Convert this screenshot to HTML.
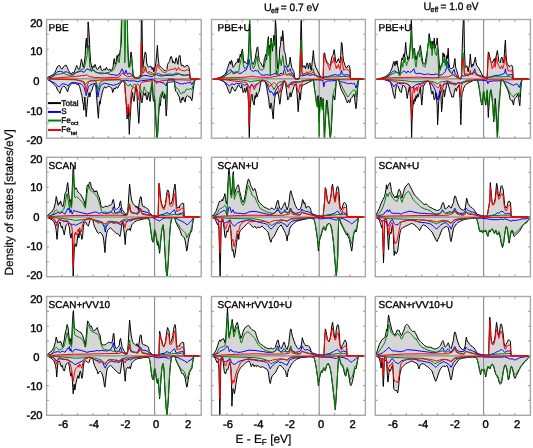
<!DOCTYPE html>
<html><head><meta charset="utf-8"><style>
html,body{margin:0;padding:0;background:#fff;}
body{width:533px;height:448px;overflow:hidden;}
svg{display:block;filter:blur(0.35px);}
text{font-family:"Liberation Sans",Arial,sans-serif;fill:#000;text-rendering:geometricPrecision;}
</style></head><body>
<svg width="533" height="448" viewBox="0 0 533 448">
<clipPath id="c00"><rect x="46.6" y="19.5" width="154.6" height="118.7"/></clipPath>
<g clip-path="url(#c00)">
<polygon points="46.0,78.8 46.0,78.3 48.9,76.8 51.9,75.3 54.8,73.1 56.2,69.5 57.4,66.6 58.4,65.8 59.5,65.5 60.3,67.3 61.4,68.8 62.4,68.8 63.6,66.6 65.0,65.5 66.2,65.1 67.2,67.3 68.0,69.5 69.4,71.7 70.6,73.4 71.6,73.9 72.6,72.4 73.8,73.1 75.0,70.2 76.0,67.3 76.7,65.5 77.5,67.3 78.5,69.5 79.7,68.8 80.8,62.9 81.4,59.2 82.3,62.9 83.3,67.3 84.3,62.9 85.2,55.6 85.8,42.4 86.4,38.0 87.0,48.3 87.7,43.9 88.1,21.9 88.7,27.8 89.3,36.6 89.9,51.2 90.6,61.4 91.7,67.3 92.5,68.8 93.1,65.8 94.0,67.3 95.0,64.4 96.0,67.3 97.2,69.5 98.4,68.8 99.4,66.6 100.4,65.8 101.3,69.5 102.3,71.0 103.4,70.2 104.2,68.8 105.3,70.2 106.3,67.3 107.5,69.5 108.6,70.2 109.7,68.8 110.7,71.0 111.9,69.5 113.0,67.3 113.6,61.4 114.3,58.5 115.1,64.4 116.0,62.9 117.0,55.6 117.7,58.5 118.4,54.1 119.2,55.6 119.9,51.9 120.6,48.3 121.4,41.0 121.8,19.0 127.4,19.0 127.7,42.4 128.6,62.9 129.6,67.3 130.3,58.5 131.0,51.9 131.8,57.0 132.5,67.3 133.2,74.6 134.7,77.5 137.6,78.3 139.8,77.5 140.9,74.6 141.3,19.0 142.0,19.0 142.3,42.4 142.8,67.3 143.5,62.9 144.5,55.6 145.2,51.9 146.1,54.1 146.7,62.9 147.6,65.8 148.6,67.3 149.3,66.6 150.8,66.1 151.5,68.0 152.3,69.5 153.0,67.3 153.7,71.7 154.5,70.2 155.9,62.9 156.7,54.1 157.4,45.3 158.1,57.0 158.9,64.4 159.6,65.8 161.0,67.3 162.5,68.8 164.0,70.2 165.4,71.0 166.9,69.5 167.6,64.4 168.4,62.9 169.5,61.4 170.6,57.0 171.3,56.3 172.0,58.5 172.8,62.9 173.5,61.4 174.2,62.9 175.0,63.6 175.7,58.5 176.4,57.8 177.1,61.4 177.9,64.4 178.6,58.5 179.3,55.6 180.1,55.6 180.8,62.9 181.5,65.8 183.0,65.1 184.5,67.3 185.9,65.8 187.4,65.1 188.9,67.3 189.6,71.7 190.0,77.5 190.6,78.9 201.0,78.9 201.0,78.8" fill="#d6d6d6" stroke="none"/>
<polygon points="46.0,78.8 46.0,78.9 48.9,80.2 51.9,82.4 54.0,84.6 56.2,86.8 57.7,90.4 59.2,91.9 59.9,93.4 60.6,91.2 61.4,89.0 62.1,87.5 63.6,86.0 65.0,86.8 66.5,89.7 67.7,91.9 68.2,89.0 69.4,86.0 70.9,84.6 72.3,83.1 73.8,83.9 75.3,82.4 76.7,84.6 78.2,83.9 79.7,86.8 80.4,89.7 81.1,92.6 81.9,95.6 82.6,101.4 83.3,104.3 83.8,110.2 84.3,102.9 84.8,97.0 85.5,107.3 86.2,116.8 87.0,107.3 87.7,98.5 88.4,95.6 89.2,92.6 89.9,97.0 90.6,92.6 91.4,91.2 92.1,89.7 92.8,86.8 94.3,84.6 95.8,85.3 96.5,95.6 97.2,104.3 98.0,114.6 98.4,118.2 99.0,107.3 99.6,101.4 100.1,104.3 100.9,98.5 101.6,95.6 102.3,92.6 103.1,89.7 103.8,88.2 104.5,86.8 106.0,88.2 107.5,86.8 108.9,86.0 110.4,87.5 111.9,88.2 112.6,92.6 113.3,91.2 114.0,88.2 115.5,89.0 116.2,86.8 117.7,88.2 119.2,85.3 120.6,83.1 122.1,80.9 124.5,82.4 125.2,89.7 125.9,100.0 126.7,110.2 127.1,119.0 127.7,113.1 128.1,107.3 128.9,121.9 129.3,134.3 129.9,121.9 130.6,111.7 131.0,104.3 131.8,95.6 132.5,92.6 133.2,98.5 134.0,101.4 134.7,95.6 135.4,89.7 136.2,86.8 136.9,92.6 137.6,107.3 138.4,117.5 138.8,123.4 139.4,114.6 140.0,100.0 140.6,92.6 141.3,101.4 142.0,102.9 142.8,97.0 143.5,92.6 144.2,94.1 145.0,95.6 145.7,92.6 146.4,98.5 147.1,100.0 147.9,95.6 148.6,92.6 149.3,98.5 150.1,101.4 150.8,94.1 151.5,86.8 152.3,82.4 153.0,98.5 153.7,101.4 154.5,98.5 155.2,107.3 155.9,121.9 156.7,136.5 157.4,139.0 158.1,126.3 158.9,111.7 159.6,102.9 160.3,105.8 161.0,98.5 161.8,95.6 162.5,92.6 163.2,97.0 164.0,98.5 164.7,94.1 165.4,100.0 166.2,116.0 166.9,107.3 167.6,80.9 168.4,79.2 174.2,79.2 175.0,88.2 175.7,91.2 177.1,92.6 178.6,95.6 179.3,97.0 180.1,101.4 180.8,102.9 181.5,98.5 182.3,100.0 183.0,97.0 183.7,98.5 184.5,101.4 185.2,102.1 185.9,97.0 187.4,95.6 188.9,97.0 190.3,97.0 191.8,100.7 192.5,97.0 193.2,89.7 194.0,83.9 194.7,80.9 196.2,78.9 201.0,78.9 201.0,78.8" fill="#d6d6d6" stroke="none"/>
<line x1="154.57" y1="19.5" x2="154.57" y2="138.2" stroke="#8a8a8a" stroke-width="1.1"/>
<line x1="46.6" y1="78.85" x2="201.2" y2="78.85" stroke="#606060" stroke-width="0.8"/>
<polyline points="46.0,78.3 48.9,76.8 51.9,75.3 54.8,73.1 56.2,69.5 57.4,66.6 58.4,65.8 59.5,65.5 60.3,67.3 61.4,68.8 62.4,68.8 63.6,66.6 65.0,65.5 66.2,65.1 67.2,67.3 68.0,69.5 69.4,71.7 70.6,73.4 71.6,73.9 72.6,72.4 73.8,73.1 75.0,70.2 76.0,67.3 76.7,65.5 77.5,67.3 78.5,69.5 79.7,68.8 80.8,62.9 81.4,59.2 82.3,62.9 83.3,67.3 84.3,62.9 85.2,55.6 85.8,42.4 86.4,38.0 87.0,48.3 87.7,43.9 88.1,21.9 88.7,27.8 89.3,36.6 89.9,51.2 90.6,61.4 91.7,67.3 92.5,68.8 93.1,65.8 94.0,67.3 95.0,64.4 96.0,67.3 97.2,69.5 98.4,68.8 99.4,66.6 100.4,65.8 101.3,69.5 102.3,71.0 103.4,70.2 104.2,68.8 105.3,70.2 106.3,67.3 107.5,69.5 108.6,70.2 109.7,68.8 110.7,71.0 111.9,69.5 113.0,67.3 113.6,61.4 114.3,58.5 115.1,64.4 116.0,62.9 117.0,55.6 117.7,58.5 118.4,54.1 119.2,55.6 119.9,51.9 120.6,48.3 121.4,41.0 121.8,19.0 127.4,19.0 127.7,42.4 128.6,62.9 129.6,67.3 130.3,58.5 131.0,51.9 131.8,57.0 132.5,67.3 133.2,74.6 134.7,77.5 137.6,78.3 139.8,77.5 140.9,74.6 141.3,19.0 142.0,19.0 142.3,42.4 142.8,67.3 143.5,62.9 144.5,55.6 145.2,51.9 146.1,54.1 146.7,62.9 147.6,65.8 148.6,67.3 149.3,66.6 150.8,66.1 151.5,68.0 152.3,69.5 153.0,67.3 153.7,71.7 154.5,70.2 155.9,62.9 156.7,54.1 157.4,45.3 158.1,57.0 158.9,64.4 159.6,65.8 161.0,67.3 162.5,68.8 164.0,70.2 165.4,71.0 166.9,69.5 167.6,64.4 168.4,62.9 169.5,61.4 170.6,57.0 171.3,56.3 172.0,58.5 172.8,62.9 173.5,61.4 174.2,62.9 175.0,63.6 175.7,58.5 176.4,57.8 177.1,61.4 177.9,64.4 178.6,58.5 179.3,55.6 180.1,55.6 180.8,62.9 181.5,65.8 183.0,65.1 184.5,67.3 185.9,65.8 187.4,65.1 188.9,67.3 189.6,71.7 190.0,77.5 190.6,78.9 201.0,78.9" fill="none" stroke="#000" stroke-width="1" stroke-linejoin="round"/>
<polyline points="46.0,78.9 48.9,80.2 51.9,82.4 54.0,84.6 56.2,86.8 57.7,90.4 59.2,91.9 59.9,93.4 60.6,91.2 61.4,89.0 62.1,87.5 63.6,86.0 65.0,86.8 66.5,89.7 67.7,91.9 68.2,89.0 69.4,86.0 70.9,84.6 72.3,83.1 73.8,83.9 75.3,82.4 76.7,84.6 78.2,83.9 79.7,86.8 80.4,89.7 81.1,92.6 81.9,95.6 82.6,101.4 83.3,104.3 83.8,110.2 84.3,102.9 84.8,97.0 85.5,107.3 86.2,116.8 87.0,107.3 87.7,98.5 88.4,95.6 89.2,92.6 89.9,97.0 90.6,92.6 91.4,91.2 92.1,89.7 92.8,86.8 94.3,84.6 95.8,85.3 96.5,95.6 97.2,104.3 98.0,114.6 98.4,118.2 99.0,107.3 99.6,101.4 100.1,104.3 100.9,98.5 101.6,95.6 102.3,92.6 103.1,89.7 103.8,88.2 104.5,86.8 106.0,88.2 107.5,86.8 108.9,86.0 110.4,87.5 111.9,88.2 112.6,92.6 113.3,91.2 114.0,88.2 115.5,89.0 116.2,86.8 117.7,88.2 119.2,85.3 120.6,83.1 122.1,80.9 124.5,82.4 125.2,89.7 125.9,100.0 126.7,110.2 127.1,119.0 127.7,113.1 128.1,107.3 128.9,121.9 129.3,134.3 129.9,121.9 130.6,111.7 131.0,104.3 131.8,95.6 132.5,92.6 133.2,98.5 134.0,101.4 134.7,95.6 135.4,89.7 136.2,86.8 136.9,92.6 137.6,107.3 138.4,117.5 138.8,123.4 139.4,114.6 140.0,100.0 140.6,92.6 141.3,101.4 142.0,102.9 142.8,97.0 143.5,92.6 144.2,94.1 145.0,95.6 145.7,92.6 146.4,98.5 147.1,100.0 147.9,95.6 148.6,92.6 149.3,98.5 150.1,101.4 150.8,94.1 151.5,86.8 152.3,82.4 153.0,98.5 153.7,101.4 154.5,98.5 155.2,107.3 155.9,121.9 156.7,136.5 157.4,139.0 158.1,126.3 158.9,111.7 159.6,102.9 160.3,105.8 161.0,98.5 161.8,95.6 162.5,92.6 163.2,97.0 164.0,98.5 164.7,94.1 165.4,100.0 166.2,116.0 166.9,107.3 167.6,80.9 168.4,79.2 174.2,79.2 175.0,88.2 175.7,91.2 177.1,92.6 178.6,95.6 179.3,97.0 180.1,101.4 180.8,102.9 181.5,98.5 182.3,100.0 183.0,97.0 183.7,98.5 184.5,101.4 185.2,102.1 185.9,97.0 187.4,95.6 188.9,97.0 190.3,97.0 191.8,100.7 192.5,97.0 193.2,89.7 194.0,83.9 194.7,80.9 196.2,78.9 201.0,78.9" fill="none" stroke="#000" stroke-width="1" stroke-linejoin="round"/>
<polyline points="46.0,78.7 51.9,76.8 54.8,74.3 57.7,71.7 60.6,71.4 63.6,72.4 66.5,71.7 69.4,73.4 72.3,74.6 75.3,73.1 78.2,71.7 81.1,71.0 84.0,72.4 87.0,68.8 89.9,70.2 92.8,69.9 95.8,72.4 98.7,73.1 101.6,72.9 104.5,73.4 107.5,73.1 110.4,74.6 113.3,74.6 116.2,75.3 119.2,74.6 122.1,68.8 124.5,74.6 125.9,70.2 127.4,74.6 129.6,73.1 131.8,74.6 133.2,76.8 137.6,78.3 142.0,76.1 145.0,75.3 149.3,76.1 152.3,76.8 155.2,73.9 158.1,75.3 161.0,76.1 166.9,75.3 172.8,75.3 178.6,73.9 181.5,74.6 184.5,75.3 189.6,74.6 190.3,78.9 201.0,78.9" fill="none" stroke="#0000ff" stroke-width="1" stroke-linejoin="round"/>
<polyline points="46.0,78.9 48.9,80.2 51.9,81.7 54.8,83.1 56.2,84.6 57.7,86.0 59.2,86.8 60.6,85.3 62.1,83.9 63.6,83.9 66.5,84.6 68.0,86.0 69.4,83.9 72.3,82.4 75.3,83.1 78.2,83.1 81.1,83.9 82.6,85.3 84.0,86.8 85.5,92.6 86.2,95.6 87.0,92.6 88.4,86.8 89.9,85.3 92.8,83.9 95.8,83.1 97.2,89.7 98.0,97.0 98.7,92.6 100.1,86.8 101.6,84.6 104.5,83.1 107.5,83.9 110.4,84.6 113.3,85.3 116.2,84.6 119.2,83.1 122.1,80.9 125.9,80.2 128.9,80.9 131.8,80.9 134.7,80.9 137.6,81.7 140.6,80.9 152.3,79.5 155.2,80.9 158.1,81.7 161.0,82.4 164.0,83.1 166.2,86.0 166.9,82.4 174.2,81.7 177.1,82.4 178.6,83.1 180.1,83.9 181.5,83.6 183.0,84.1 184.5,83.1 185.9,83.6 187.4,82.4 188.9,83.1 190.3,81.7 191.8,84.6 193.2,82.4 194.7,80.2 196.2,78.9 201.0,78.9" fill="none" stroke="#0000ff" stroke-width="1" stroke-linejoin="round"/>
<polyline points="46.0,78.7 51.9,77.5 54.8,75.3 57.7,74.3 60.6,73.9 63.6,73.4 66.5,74.6 69.4,75.3 72.3,76.1 75.3,73.1 76.7,71.7 78.2,72.4 81.1,69.5 84.0,68.8 85.5,62.9 87.0,55.6 87.7,48.3 88.4,45.3 89.2,55.6 89.9,67.3 91.4,71.7 92.8,69.5 95.8,71.7 98.7,73.1 101.6,73.9 104.5,73.4 107.5,72.9 110.4,71.7 113.3,70.2 114.8,67.3 116.2,64.4 117.7,58.5 119.2,62.9 120.6,48.3 121.4,19.0 124.2,19.0 124.8,62.9 125.3,48.3 125.6,19.0 127.4,19.0 127.7,48.3 128.6,67.3 129.6,65.8 131.0,61.4 131.8,60.0 132.5,67.3 133.2,76.1 134.7,78.3 140.6,77.5 142.0,74.6 143.5,67.3 145.0,66.6 146.4,71.7 149.3,73.9 152.3,74.6 155.2,75.3 158.1,73.1 161.0,74.6 164.0,75.3 166.9,74.6 169.8,73.9 172.8,74.6 175.7,73.1 178.6,73.4 181.5,75.3 184.5,75.3 187.4,74.9 189.6,75.3 190.3,78.9 201.0,78.9" fill="none" stroke="#008000" stroke-width="1" stroke-linejoin="round"/>
<polyline points="46.0,78.9 75.3,79.8 81.1,80.9 83.3,82.4 84.8,85.3 85.5,84.6 87.0,82.4 89.9,80.9 95.8,80.9 97.2,85.3 98.0,89.7 98.7,88.2 100.1,82.4 104.5,80.2 119.2,79.8 124.5,80.9 125.9,83.9 127.4,85.3 128.9,86.0 130.3,83.9 131.8,86.8 133.2,85.3 134.7,83.9 136.2,85.3 137.6,83.9 139.1,85.3 140.6,89.7 142.0,92.6 143.5,91.2 144.2,86.8 145.0,89.7 146.4,91.2 147.9,92.6 149.3,94.1 150.8,89.7 151.5,83.9 152.3,80.9 153.0,92.6 153.7,98.5 154.5,95.6 155.2,104.3 155.9,119.0 156.7,133.6 157.4,139.0 158.1,121.9 158.9,107.3 159.6,98.5 161.0,94.1 162.5,91.2 164.0,92.6 165.4,95.6 166.2,101.4 166.9,92.6 167.6,80.2 174.2,80.2 175.0,85.3 175.7,87.5 177.1,88.2 178.6,89.7 180.1,92.6 181.5,94.1 183.0,91.9 184.5,92.6 185.9,89.7 187.4,89.0 188.9,89.7 190.3,88.2 191.8,89.7 193.2,85.3 194.7,80.9 196.2,78.9 201.0,78.9" fill="none" stroke="#008000" stroke-width="1" stroke-linejoin="round"/>
<polyline points="46.0,79.0 60.6,77.5 72.3,76.8 78.2,76.1 85.5,75.3 87.0,74.6 88.4,76.1 94.3,77.5 104.5,77.8 119.2,77.2 122.1,73.1 127.4,76.8 131.8,76.1 137.6,78.3 140.6,74.6 141.3,42.4 142.0,70.2 143.5,73.1 145.0,68.8 145.7,67.3 146.4,71.7 147.9,72.4 149.3,71.7 152.3,73.1 153.7,73.9 155.2,74.6 156.7,68.8 157.4,64.4 158.1,65.8 159.6,68.8 162.5,71.7 165.4,73.1 166.9,71.7 168.4,70.2 171.3,69.5 174.2,68.8 175.7,68.0 176.4,71.0 178.6,67.3 179.3,69.5 181.5,70.2 184.5,71.0 187.4,69.5 189.6,71.7 190.3,78.9 201.0,78.9" fill="none" stroke="#ff0000" stroke-width="1" stroke-linejoin="round"/>
<polyline points="46.0,78.9 75.3,79.5 84.0,81.7 85.5,86.8 86.2,92.6 87.0,86.8 88.4,82.4 89.9,80.9 104.5,79.8 119.2,79.5 124.5,82.4 125.2,92.6 125.9,100.0 126.7,107.3 127.4,114.6 128.1,104.3 128.9,107.3 129.6,116.0 130.3,104.3 131.0,95.6 131.8,89.7 133.2,86.8 134.7,88.2 136.2,85.3 137.6,92.6 138.4,100.0 139.1,97.0 139.8,89.7 140.6,83.9 142.0,82.4 145.0,81.7 150.8,80.9 152.3,80.2 153.7,80.2 155.2,80.9 156.7,83.9 157.4,82.4 158.1,81.7 161.0,80.9 166.9,80.2 174.2,79.8 181.5,79.8 188.9,80.2 196.2,79.5 201.0,78.9" fill="none" stroke="#ff0000" stroke-width="1" stroke-linejoin="round"/>
</g>
<clipPath id="c01"><rect x="211.5" y="19.5" width="153.9" height="118.7"/></clipPath>
<g clip-path="url(#c01)">
<polygon points="211.0,78.8 211.0,78.9 215.4,78.7 219.8,77.5 222.7,76.1 224.9,74.6 226.4,71.7 227.8,67.3 229.3,62.9 230.0,61.4 230.8,64.4 231.5,60.0 232.2,62.9 233.0,67.3 234.4,65.8 235.9,62.9 237.3,62.2 238.1,58.5 238.8,62.9 239.5,58.5 240.3,54.1 241.0,57.0 241.7,51.2 242.5,49.0 243.2,57.0 243.9,62.9 244.7,61.4 246.1,62.9 247.6,64.4 248.3,55.6 249.0,41.0 249.5,20.5 250.1,33.6 250.5,45.3 251.2,58.5 252.0,62.9 253.4,64.4 254.9,60.0 256.4,51.2 257.1,47.5 257.8,46.8 258.6,55.6 259.3,61.4 260.8,62.9 262.2,65.8 263.4,67.3 264.4,58.5 265.1,57.0 265.9,54.1 266.6,60.0 267.3,48.3 267.8,41.0 268.4,36.6 268.8,48.3 269.5,45.3 270.3,54.1 271.0,38.0 271.7,42.4 272.5,51.2 273.2,42.4 273.9,35.1 274.7,45.3 275.4,19.0 276.1,27.8 276.9,57.0 277.6,68.8 278.3,67.3 279.0,61.4 279.8,48.3 280.5,45.3 281.2,36.6 282.0,41.0 282.7,30.7 283.4,38.0 284.2,51.2 284.9,52.7 285.6,55.6 286.4,62.9 287.1,65.8 287.8,67.3 288.7,65.8 289.5,62.9 290.2,57.0 290.9,62.9 291.7,67.3 292.4,68.8 293.1,70.2 293.9,71.7 294.6,77.5 295.3,78.9 299.0,78.9 299.7,74.6 300.4,48.3 300.9,26.3 301.2,19.0 301.5,26.3 301.9,48.3 302.3,67.3 303.4,65.8 304.1,67.3 304.8,65.8 305.6,68.8 306.3,65.8 307.0,62.9 307.8,64.4 308.5,68.8 309.2,64.4 310.0,62.9 310.7,68.8 311.4,70.2 312.1,62.9 312.9,55.6 313.3,50.5 313.9,57.0 314.3,61.4 315.1,64.4 315.8,67.3 317.3,70.2 318.7,73.1 320.2,76.1 321.7,77.5 323.1,78.9 323.9,54.1 324.6,52.7 325.3,57.0 326.0,60.0 327.5,62.9 329.0,64.4 330.4,65.8 331.2,60.0 331.9,57.0 332.6,55.6 333.4,54.1 334.1,49.7 334.8,54.1 335.6,61.4 336.3,62.9 337.0,61.4 337.8,60.0 338.5,58.5 339.2,61.4 340.0,62.9 340.7,55.6 341.4,42.4 342.1,43.9 342.9,55.6 343.6,61.4 344.3,62.9 345.1,65.8 345.8,67.3 346.5,68.0 348.0,65.8 348.7,65.1 349.5,66.6 350.2,70.2 350.6,78.9 366.0,78.9 366.0,78.8" fill="#d6d6d6" stroke="none"/>
<polygon points="211.0,78.8 211.0,78.9 216.9,79.2 221.2,80.2 224.2,81.7 225.6,83.9 227.1,86.8 228.6,91.2 229.7,93.4 230.8,91.9 231.5,88.2 232.2,86.8 233.7,89.7 235.1,91.2 236.6,88.2 238.1,85.3 238.8,84.6 239.5,86.8 241.0,88.2 241.7,85.3 242.5,89.7 243.2,92.6 243.9,91.2 244.7,88.2 245.4,92.6 246.1,91.2 246.9,86.8 247.6,89.7 248.3,100.0 248.8,107.3 249.0,126.3 249.3,139.0 249.6,126.3 250.1,108.7 250.5,104.3 251.2,95.6 252.0,94.1 252.7,100.0 253.4,102.9 254.2,105.1 254.6,100.0 254.9,95.6 255.6,98.5 256.4,92.6 257.1,97.0 257.8,94.1 258.6,92.6 259.3,91.2 260.0,86.8 260.8,82.4 261.5,80.9 262.2,80.2 263.7,80.2 265.1,81.7 265.9,83.9 266.6,86.8 267.3,91.2 268.1,95.6 268.8,100.0 269.5,107.3 270.3,108.7 271.0,102.9 271.7,105.8 272.5,113.1 273.2,119.0 273.9,107.3 274.7,98.5 275.4,94.1 276.1,92.6 276.9,94.1 277.6,91.2 278.3,94.1 279.0,98.5 279.8,104.3 280.5,100.0 281.2,92.6 282.0,89.7 282.7,86.8 283.4,82.4 284.2,80.9 284.9,80.9 285.6,83.9 286.4,89.7 287.1,95.6 287.8,100.0 288.7,98.5 289.5,95.6 290.2,92.6 290.9,97.0 291.7,94.1 292.4,91.2 293.1,89.7 293.9,86.8 294.6,85.3 295.3,83.9 296.0,85.3 296.8,91.2 297.5,100.0 298.2,111.7 299.0,100.0 299.7,92.6 300.4,100.0 301.2,89.7 301.9,86.8 302.6,85.3 304.1,84.6 305.6,83.9 307.0,83.1 308.5,82.4 310.0,81.7 311.4,80.9 312.9,79.5 313.6,80.9 314.3,86.8 315.1,92.6 315.8,97.0 316.5,102.9 317.3,105.8 318.0,95.6 318.7,107.3 319.2,121.9 319.5,110.2 320.2,100.0 320.9,97.0 321.7,104.3 322.4,107.3 323.1,98.5 323.9,121.9 324.3,136.5 324.6,139.0 325.0,129.2 325.8,114.6 326.3,104.3 326.8,100.0 327.5,104.3 328.2,111.7 329.0,121.9 329.7,132.1 330.4,139.0 331.2,130.7 331.9,119.0 332.6,101.4 333.4,95.6 334.1,97.0 334.8,100.0 335.6,91.2 336.3,80.2 337.8,79.5 338.5,79.5 339.2,82.4 340.0,85.3 340.7,88.2 342.1,91.2 343.6,94.1 345.1,97.0 346.5,100.7 347.3,102.9 348.0,101.4 348.7,100.0 349.5,102.9 350.2,101.4 350.9,98.5 352.4,97.0 353.9,94.1 354.6,97.0 355.3,104.3 356.0,108.7 356.8,101.4 357.5,89.7 358.2,82.4 359.0,79.5 359.7,78.9 366.0,78.9 366.0,78.8" fill="#d6d6d6" stroke="none"/>
<line x1="319.20" y1="19.5" x2="319.20" y2="138.2" stroke="#8a8a8a" stroke-width="1.1"/>
<line x1="211.5" y1="78.85" x2="365.4" y2="78.85" stroke="#606060" stroke-width="0.8"/>
<polyline points="211.0,78.9 215.4,78.7 219.8,77.5 222.7,76.1 224.9,74.6 226.4,71.7 227.8,67.3 229.3,62.9 230.0,61.4 230.8,64.4 231.5,60.0 232.2,62.9 233.0,67.3 234.4,65.8 235.9,62.9 237.3,62.2 238.1,58.5 238.8,62.9 239.5,58.5 240.3,54.1 241.0,57.0 241.7,51.2 242.5,49.0 243.2,57.0 243.9,62.9 244.7,61.4 246.1,62.9 247.6,64.4 248.3,55.6 249.0,41.0 249.5,20.5 250.1,33.6 250.5,45.3 251.2,58.5 252.0,62.9 253.4,64.4 254.9,60.0 256.4,51.2 257.1,47.5 257.8,46.8 258.6,55.6 259.3,61.4 260.8,62.9 262.2,65.8 263.4,67.3 264.4,58.5 265.1,57.0 265.9,54.1 266.6,60.0 267.3,48.3 267.8,41.0 268.4,36.6 268.8,48.3 269.5,45.3 270.3,54.1 271.0,38.0 271.7,42.4 272.5,51.2 273.2,42.4 273.9,35.1 274.7,45.3 275.4,19.0 276.1,27.8 276.9,57.0 277.6,68.8 278.3,67.3 279.0,61.4 279.8,48.3 280.5,45.3 281.2,36.6 282.0,41.0 282.7,30.7 283.4,38.0 284.2,51.2 284.9,52.7 285.6,55.6 286.4,62.9 287.1,65.8 287.8,67.3 288.7,65.8 289.5,62.9 290.2,57.0 290.9,62.9 291.7,67.3 292.4,68.8 293.1,70.2 293.9,71.7 294.6,77.5 295.3,78.9 299.0,78.9 299.7,74.6 300.4,48.3 300.9,26.3 301.2,19.0 301.5,26.3 301.9,48.3 302.3,67.3 303.4,65.8 304.1,67.3 304.8,65.8 305.6,68.8 306.3,65.8 307.0,62.9 307.8,64.4 308.5,68.8 309.2,64.4 310.0,62.9 310.7,68.8 311.4,70.2 312.1,62.9 312.9,55.6 313.3,50.5 313.9,57.0 314.3,61.4 315.1,64.4 315.8,67.3 317.3,70.2 318.7,73.1 320.2,76.1 321.7,77.5 323.1,78.9 323.9,54.1 324.6,52.7 325.3,57.0 326.0,60.0 327.5,62.9 329.0,64.4 330.4,65.8 331.2,60.0 331.9,57.0 332.6,55.6 333.4,54.1 334.1,49.7 334.8,54.1 335.6,61.4 336.3,62.9 337.0,61.4 337.8,60.0 338.5,58.5 339.2,61.4 340.0,62.9 340.7,55.6 341.4,42.4 342.1,43.9 342.9,55.6 343.6,61.4 344.3,62.9 345.1,65.8 345.8,67.3 346.5,68.0 348.0,65.8 348.7,65.1 349.5,66.6 350.2,70.2 350.6,78.9 366.0,78.9" fill="none" stroke="#000" stroke-width="1" stroke-linejoin="round"/>
<polyline points="211.0,78.9 216.9,79.2 221.2,80.2 224.2,81.7 225.6,83.9 227.1,86.8 228.6,91.2 229.7,93.4 230.8,91.9 231.5,88.2 232.2,86.8 233.7,89.7 235.1,91.2 236.6,88.2 238.1,85.3 238.8,84.6 239.5,86.8 241.0,88.2 241.7,85.3 242.5,89.7 243.2,92.6 243.9,91.2 244.7,88.2 245.4,92.6 246.1,91.2 246.9,86.8 247.6,89.7 248.3,100.0 248.8,107.3 249.0,126.3 249.3,139.0 249.6,126.3 250.1,108.7 250.5,104.3 251.2,95.6 252.0,94.1 252.7,100.0 253.4,102.9 254.2,105.1 254.6,100.0 254.9,95.6 255.6,98.5 256.4,92.6 257.1,97.0 257.8,94.1 258.6,92.6 259.3,91.2 260.0,86.8 260.8,82.4 261.5,80.9 262.2,80.2 263.7,80.2 265.1,81.7 265.9,83.9 266.6,86.8 267.3,91.2 268.1,95.6 268.8,100.0 269.5,107.3 270.3,108.7 271.0,102.9 271.7,105.8 272.5,113.1 273.2,119.0 273.9,107.3 274.7,98.5 275.4,94.1 276.1,92.6 276.9,94.1 277.6,91.2 278.3,94.1 279.0,98.5 279.8,104.3 280.5,100.0 281.2,92.6 282.0,89.7 282.7,86.8 283.4,82.4 284.2,80.9 284.9,80.9 285.6,83.9 286.4,89.7 287.1,95.6 287.8,100.0 288.7,98.5 289.5,95.6 290.2,92.6 290.9,97.0 291.7,94.1 292.4,91.2 293.1,89.7 293.9,86.8 294.6,85.3 295.3,83.9 296.0,85.3 296.8,91.2 297.5,100.0 298.2,111.7 299.0,100.0 299.7,92.6 300.4,100.0 301.2,89.7 301.9,86.8 302.6,85.3 304.1,84.6 305.6,83.9 307.0,83.1 308.5,82.4 310.0,81.7 311.4,80.9 312.9,79.5 313.6,80.9 314.3,86.8 315.1,92.6 315.8,97.0 316.5,102.9 317.3,105.8 318.0,95.6 318.7,107.3 319.2,121.9 319.5,110.2 320.2,100.0 320.9,97.0 321.7,104.3 322.4,107.3 323.1,98.5 323.9,121.9 324.3,136.5 324.6,139.0 325.0,129.2 325.8,114.6 326.3,104.3 326.8,100.0 327.5,104.3 328.2,111.7 329.0,121.9 329.7,132.1 330.4,139.0 331.2,130.7 331.9,119.0 332.6,101.4 333.4,95.6 334.1,97.0 334.8,100.0 335.6,91.2 336.3,80.2 337.8,79.5 338.5,79.5 339.2,82.4 340.0,85.3 340.7,88.2 342.1,91.2 343.6,94.1 345.1,97.0 346.5,100.7 347.3,102.9 348.0,101.4 348.7,100.0 349.5,102.9 350.2,101.4 350.9,98.5 352.4,97.0 353.9,94.1 354.6,97.0 355.3,104.3 356.0,108.7 356.8,101.4 357.5,89.7 358.2,82.4 359.0,79.5 359.7,78.9 366.0,78.9" fill="none" stroke="#000" stroke-width="1" stroke-linejoin="round"/>
<polyline points="211.0,78.9 219.8,78.3 224.2,76.8 226.4,73.9 227.8,71.7 229.3,70.2 230.8,69.5 232.2,71.7 234.4,72.4 237.3,71.7 239.5,73.9 241.0,73.1 242.5,72.4 243.9,71.0 246.1,70.2 248.3,64.4 249.0,59.2 249.8,62.9 250.5,69.5 253.4,71.7 254.9,70.2 256.4,71.0 257.8,70.2 259.3,73.1 260.8,74.6 263.7,75.3 266.6,74.6 269.5,75.3 272.5,74.6 275.4,73.1 278.3,75.3 281.2,73.1 282.7,74.6 284.2,70.2 284.9,65.8 286.4,67.3 287.8,71.7 289.5,70.2 290.2,68.8 290.9,71.7 292.4,73.1 294.6,76.8 295.3,78.9 299.0,78.9 300.4,74.6 301.9,76.1 304.1,75.3 307.0,74.6 310.0,75.3 312.9,74.6 317.3,76.1 323.1,77.5 324.6,76.8 327.5,76.8 331.9,75.3 334.8,74.6 337.8,75.3 340.7,74.6 341.4,70.2 342.1,73.1 343.6,75.3 346.5,74.6 349.5,75.3 350.6,78.9 366.0,78.9" fill="none" stroke="#0000ff" stroke-width="1" stroke-linejoin="round"/>
<polyline points="211.0,78.9 219.8,79.5 224.2,81.7 225.6,83.1 227.8,84.6 229.3,86.0 230.8,84.6 232.2,83.9 234.4,84.6 236.6,83.1 238.8,83.9 240.3,83.1 241.7,83.9 243.2,84.6 244.7,85.3 246.9,83.9 248.3,86.0 249.8,88.2 251.2,85.3 252.7,86.0 254.2,86.8 255.6,84.6 257.8,83.9 260.8,80.9 263.7,80.9 265.9,82.4 267.3,84.6 268.8,89.7 270.3,92.6 271.0,91.2 272.5,92.6 273.9,95.6 275.4,91.2 276.9,88.2 278.3,86.8 279.8,85.3 281.2,84.6 282.7,82.4 284.2,80.9 287.1,86.8 290.9,82.4 295.3,81.7 298.2,82.4 302.6,80.9 310.0,80.2 317.3,79.8 321.7,80.2 323.1,81.7 323.9,86.8 324.6,82.4 327.5,80.9 331.9,80.9 336.3,80.2 337.8,79.5 339.2,80.9 340.7,81.7 343.6,82.4 346.5,83.1 348.0,83.9 349.5,83.6 350.9,83.1 352.4,83.9 353.9,83.1 355.3,85.3 356.0,88.2 356.8,85.3 358.2,80.2 359.7,78.9 366.0,78.9" fill="none" stroke="#0000ff" stroke-width="1" stroke-linejoin="round"/>
<polyline points="211.0,78.9 219.8,78.3 224.2,76.8 227.1,74.6 230.0,73.1 231.5,71.0 233.0,73.9 235.9,73.1 238.8,71.7 239.5,65.8 240.3,62.9 241.0,60.0 241.7,57.0 242.5,51.2 243.2,64.4 244.7,68.8 246.1,67.3 247.6,65.8 248.8,55.6 249.3,30.7 249.8,19.0 250.2,33.6 250.8,55.6 252.0,64.4 253.4,68.8 254.9,65.8 256.4,58.5 257.1,55.6 257.8,62.9 259.3,68.8 262.2,70.2 263.7,68.8 265.1,62.9 266.6,55.6 267.3,45.3 268.1,39.5 268.8,55.6 269.5,48.3 270.3,75.3 271.0,41.0 272.5,48.3 273.9,45.3 275.4,36.6 276.1,74.6 276.9,70.2 277.6,74.6 278.3,70.2 279.0,62.9 279.8,58.5 281.2,65.8 282.7,55.6 283.4,60.0 284.2,67.3 285.6,73.1 287.1,74.6 290.9,75.3 293.9,77.5 295.3,78.9 299.0,78.9 299.7,76.8 300.4,55.6 300.9,39.5 301.5,55.6 301.9,73.1 302.6,74.6 305.6,75.3 308.5,73.1 310.0,71.7 311.4,71.0 312.9,68.8 313.6,70.2 314.3,74.6 317.3,76.8 323.1,78.3 323.9,77.5 326.0,77.2 331.9,76.8 337.8,76.8 343.6,76.4 349.5,76.8 350.6,78.9 366.0,78.9" fill="none" stroke="#008000" stroke-width="1" stroke-linejoin="round"/>
<polyline points="211.0,78.9 240.3,79.8 247.6,80.9 250.5,81.7 254.9,80.9 260.8,80.2 266.6,80.9 269.5,82.4 271.0,83.9 272.5,86.8 273.9,89.7 275.4,86.8 278.3,82.4 281.2,81.7 284.2,80.9 287.1,86.8 290.9,83.9 295.3,82.4 299.7,81.7 305.6,80.9 311.4,80.2 313.6,80.9 314.3,88.2 315.1,92.6 315.8,98.5 316.5,104.3 317.3,107.3 318.0,100.0 318.7,114.6 319.2,139.0 319.6,114.6 320.2,107.3 320.9,100.0 321.7,107.3 322.4,110.2 323.1,100.0 323.9,119.0 324.3,139.0 324.9,126.3 325.8,111.7 326.3,102.9 327.2,107.3 328.2,116.0 329.0,124.8 329.7,133.6 330.4,139.0 331.2,126.3 331.9,114.6 332.6,98.5 333.4,92.6 334.5,89.7 335.6,86.8 336.3,80.2 337.8,79.5 339.2,81.7 340.7,83.9 342.1,86.8 343.6,89.7 345.1,92.6 346.5,94.8 347.3,96.3 348.0,97.0 348.7,95.6 349.5,94.8 350.9,92.6 352.4,91.2 353.9,89.7 355.3,91.2 356.0,97.0 356.8,92.6 357.5,86.8 358.2,80.9 359.0,79.2 366.0,78.9" fill="none" stroke="#008000" stroke-width="1" stroke-linejoin="round"/>
<polyline points="211.0,78.9 225.6,77.8 240.3,77.5 249.0,76.8 252.0,76.1 254.9,76.8 269.5,77.5 272.5,76.8 276.9,76.1 281.2,75.3 284.2,73.9 285.6,74.6 287.1,75.3 289.5,73.1 290.2,74.6 290.9,73.1 292.4,75.3 294.6,77.5 295.3,78.9 299.0,78.9 299.7,76.1 300.4,62.9 300.9,51.2 301.5,62.9 301.9,71.7 302.6,74.6 304.1,73.1 305.6,73.9 307.0,71.7 308.5,74.6 310.0,73.1 311.4,73.9 312.9,71.7 314.3,73.1 315.8,74.6 317.3,76.1 321.7,77.5 323.1,78.9 323.9,54.1 324.6,55.6 325.3,58.5 326.0,61.4 327.5,64.4 329.0,67.3 329.7,70.2 330.4,67.3 331.2,62.9 331.9,61.4 332.6,62.9 333.4,60.0 334.1,57.0 334.8,62.9 335.6,65.8 336.3,68.8 337.0,65.8 337.8,67.3 338.5,64.4 339.2,67.3 340.0,69.5 340.7,65.8 341.4,57.0 342.1,58.5 342.9,65.8 343.6,70.2 345.1,69.5 346.5,68.8 348.0,70.2 349.5,70.2 350.6,78.9 366.0,78.9" fill="none" stroke="#ff0000" stroke-width="1" stroke-linejoin="round"/>
<polyline points="211.0,78.9 225.6,79.8 233.0,80.9 240.3,81.7 246.1,82.4 247.6,83.9 248.3,92.6 248.8,107.3 249.0,124.8 249.5,107.3 249.8,92.6 250.5,85.3 252.0,83.9 253.4,86.8 254.2,89.7 254.9,88.2 256.4,85.3 257.8,83.9 260.8,80.9 263.7,80.9 266.6,82.4 268.1,83.9 269.5,86.8 271.0,84.6 272.5,83.9 273.9,82.4 275.4,83.9 276.9,85.3 278.3,88.2 279.8,92.6 281.2,86.8 282.7,82.4 284.2,80.9 285.6,81.7 287.1,85.3 288.7,88.2 289.5,85.3 290.9,83.9 292.4,85.3 293.9,82.4 296.0,81.7 296.8,86.8 297.5,89.7 298.2,92.6 299.0,89.7 299.7,85.3 300.4,83.9 301.2,86.8 302.6,80.9 305.6,80.2 311.4,79.5 317.3,79.5 321.7,79.5 323.1,80.9 323.9,79.5 331.9,79.5 346.5,79.8 358.2,79.5 366.0,78.9" fill="none" stroke="#ff0000" stroke-width="1" stroke-linejoin="round"/>
</g>
<clipPath id="c02"><rect x="375.3" y="19.5" width="155.1" height="118.7"/></clipPath>
<g clip-path="url(#c02)">
<polygon points="375.0,78.8 375.0,78.9 380.9,78.3 385.2,76.8 388.2,74.6 390.4,71.7 391.8,68.8 393.3,62.9 394.0,61.4 394.8,65.8 395.5,61.4 396.2,64.4 397.0,60.7 397.7,65.8 398.4,68.8 399.1,73.1 399.9,74.6 400.6,67.3 401.3,61.4 402.1,57.8 402.8,60.0 403.5,54.1 404.3,57.0 405.0,51.2 405.7,42.4 406.5,54.1 407.2,55.6 407.9,60.0 408.7,57.0 409.4,58.5 410.1,48.3 410.9,38.0 411.3,19.0 411.9,33.6 412.3,48.3 413.0,54.1 413.8,49.7 414.5,48.3 415.2,55.6 416.0,60.0 417.4,54.1 418.9,51.2 419.6,48.3 420.4,45.3 421.1,51.2 421.8,55.6 422.6,61.4 423.3,62.9 424.8,64.4 425.5,61.4 426.2,57.0 427.0,52.7 427.7,48.3 428.4,42.4 429.1,33.6 429.9,38.0 430.6,45.3 431.3,41.0 432.1,49.7 432.8,41.0 433.5,45.3 434.3,38.0 435.0,48.3 435.7,45.3 436.5,43.9 437.2,38.0 437.9,46.8 438.7,55.6 439.4,65.8 440.1,70.2 440.9,65.8 441.6,64.4 442.3,62.9 443.0,52.7 443.8,57.0 444.5,54.1 445.2,62.9 446.0,64.4 446.7,55.6 447.4,58.5 448.2,48.3 448.9,62.9 449.6,67.3 451.1,68.8 453.5,67.3 454.2,62.9 454.9,58.5 455.7,67.3 456.4,69.5 457.9,74.6 458.6,78.3 460.8,78.9 461.5,74.6 462.2,48.3 463.0,26.3 463.4,19.0 464.0,19.0 464.4,48.3 465.2,67.3 465.9,67.3 466.6,65.8 467.4,67.3 468.1,71.7 468.8,67.3 469.6,64.4 470.3,54.1 471.0,62.9 471.8,67.3 472.5,64.4 473.2,65.8 474.0,62.9 474.7,60.0 475.4,57.0 476.1,62.9 476.9,65.8 478.3,67.3 479.8,70.2 481.3,73.1 482.7,76.1 484.2,77.5 487.1,78.9 488.3,51.9 488.9,52.7 489.8,57.0 490.8,61.4 492.2,62.9 493.7,60.0 494.4,58.5 495.2,62.9 495.9,57.0 496.6,54.1 497.4,50.5 498.1,55.6 498.8,61.4 500.3,62.9 501.0,58.5 501.8,57.0 502.5,58.5 503.2,62.9 504.0,60.0 504.7,48.3 505.4,40.2 506.1,55.6 506.9,62.9 507.6,64.4 509.1,66.6 510.5,65.8 511.3,65.1 512.0,65.8 512.7,67.3 513.2,78.9 530.0,78.9 530.0,78.8" fill="#d6d6d6" stroke="none"/>
<polygon points="375.0,78.8 375.0,78.9 382.3,79.2 386.7,79.8 389.6,80.9 391.1,83.9 391.8,86.8 392.6,89.7 393.3,94.1 394.0,95.6 394.8,98.5 395.5,92.6 396.2,86.8 397.0,85.3 398.4,86.8 399.9,91.2 401.3,92.6 402.1,88.2 402.8,85.3 404.3,86.0 405.7,88.2 406.5,92.6 407.2,98.5 407.9,94.1 408.7,89.7 409.4,86.8 410.1,92.6 410.9,107.3 411.3,121.9 411.6,139.0 412.0,121.9 412.8,107.3 413.3,100.0 413.8,104.3 414.5,98.5 415.2,101.4 416.0,95.6 416.7,98.5 417.4,94.1 418.2,97.0 418.9,94.1 419.6,91.2 420.4,86.8 421.1,97.0 421.8,105.1 422.6,95.6 423.3,86.8 424.8,83.9 426.2,82.4 427.7,80.9 429.1,81.7 430.6,86.8 431.3,92.6 432.1,94.1 432.8,91.2 433.5,95.6 434.3,100.0 435.0,98.5 435.7,92.6 436.5,97.0 437.2,107.3 437.6,124.8 438.2,114.6 438.7,101.4 439.4,97.0 440.1,91.2 440.9,95.6 441.6,111.7 442.3,104.3 443.0,92.6 443.8,89.7 444.5,97.0 445.2,92.6 446.0,88.2 446.7,85.3 447.4,82.4 448.2,83.9 448.9,86.8 449.6,89.7 450.4,92.6 451.1,94.1 451.8,97.0 453.5,97.0 454.2,92.6 454.9,89.7 455.7,88.2 456.4,91.2 457.1,88.2 457.9,86.8 458.6,85.3 459.3,88.2 460.0,100.0 460.5,114.6 460.8,124.8 461.2,114.6 461.7,98.5 462.2,92.6 463.0,91.2 463.7,88.2 464.4,86.8 465.2,85.3 466.6,83.9 468.1,83.1 469.6,82.4 471.0,81.7 472.5,80.9 474.0,80.2 475.4,80.2 476.9,79.5 477.6,80.9 478.3,83.9 479.1,88.2 479.8,92.6 480.5,98.5 481.3,102.9 482.0,105.1 482.7,100.0 483.5,91.2 484.2,94.1 484.9,100.0 485.7,105.1 486.4,100.0 487.1,91.2 487.9,107.3 488.3,117.5 488.6,111.7 489.3,102.9 490.0,94.1 490.8,89.7 491.5,92.6 492.2,100.0 493.0,107.3 493.7,121.9 494.4,114.6 495.2,98.5 495.9,107.3 496.6,119.0 497.1,129.2 497.4,139.0 497.8,129.2 498.2,119.0 498.8,107.3 499.6,100.0 500.3,91.2 501.0,80.9 501.8,79.5 502.5,79.5 503.2,80.9 504.7,83.9 506.1,86.8 507.6,89.7 509.1,94.1 509.8,98.5 510.5,100.0 511.3,100.7 512.0,100.0 512.7,102.1 513.5,105.1 514.2,100.0 514.9,98.5 516.4,97.0 517.9,94.1 518.6,98.5 519.3,102.9 519.8,105.8 520.3,98.5 520.8,89.7 521.5,82.4 522.2,79.5 523.0,78.9 530.0,78.9 530.0,78.8" fill="#d6d6d6" stroke="none"/>
<line x1="483.57" y1="19.5" x2="483.57" y2="138.2" stroke="#8a8a8a" stroke-width="1.1"/>
<line x1="375.3" y1="78.85" x2="530.4" y2="78.85" stroke="#606060" stroke-width="0.8"/>
<polyline points="375.0,78.9 380.9,78.3 385.2,76.8 388.2,74.6 390.4,71.7 391.8,68.8 393.3,62.9 394.0,61.4 394.8,65.8 395.5,61.4 396.2,64.4 397.0,60.7 397.7,65.8 398.4,68.8 399.1,73.1 399.9,74.6 400.6,67.3 401.3,61.4 402.1,57.8 402.8,60.0 403.5,54.1 404.3,57.0 405.0,51.2 405.7,42.4 406.5,54.1 407.2,55.6 407.9,60.0 408.7,57.0 409.4,58.5 410.1,48.3 410.9,38.0 411.3,19.0 411.9,33.6 412.3,48.3 413.0,54.1 413.8,49.7 414.5,48.3 415.2,55.6 416.0,60.0 417.4,54.1 418.9,51.2 419.6,48.3 420.4,45.3 421.1,51.2 421.8,55.6 422.6,61.4 423.3,62.9 424.8,64.4 425.5,61.4 426.2,57.0 427.0,52.7 427.7,48.3 428.4,42.4 429.1,33.6 429.9,38.0 430.6,45.3 431.3,41.0 432.1,49.7 432.8,41.0 433.5,45.3 434.3,38.0 435.0,48.3 435.7,45.3 436.5,43.9 437.2,38.0 437.9,46.8 438.7,55.6 439.4,65.8 440.1,70.2 440.9,65.8 441.6,64.4 442.3,62.9 443.0,52.7 443.8,57.0 444.5,54.1 445.2,62.9 446.0,64.4 446.7,55.6 447.4,58.5 448.2,48.3 448.9,62.9 449.6,67.3 451.1,68.8 453.5,67.3 454.2,62.9 454.9,58.5 455.7,67.3 456.4,69.5 457.9,74.6 458.6,78.3 460.8,78.9 461.5,74.6 462.2,48.3 463.0,26.3 463.4,19.0 464.0,19.0 464.4,48.3 465.2,67.3 465.9,67.3 466.6,65.8 467.4,67.3 468.1,71.7 468.8,67.3 469.6,64.4 470.3,54.1 471.0,62.9 471.8,67.3 472.5,64.4 473.2,65.8 474.0,62.9 474.7,60.0 475.4,57.0 476.1,62.9 476.9,65.8 478.3,67.3 479.8,70.2 481.3,73.1 482.7,76.1 484.2,77.5 487.1,78.9 488.3,51.9 488.9,52.7 489.8,57.0 490.8,61.4 492.2,62.9 493.7,60.0 494.4,58.5 495.2,62.9 495.9,57.0 496.6,54.1 497.4,50.5 498.1,55.6 498.8,61.4 500.3,62.9 501.0,58.5 501.8,57.0 502.5,58.5 503.2,62.9 504.0,60.0 504.7,48.3 505.4,40.2 506.1,55.6 506.9,62.9 507.6,64.4 509.1,66.6 510.5,65.8 511.3,65.1 512.0,65.8 512.7,67.3 513.2,78.9 530.0,78.9" fill="none" stroke="#000" stroke-width="1" stroke-linejoin="round"/>
<polyline points="375.0,78.9 382.3,79.2 386.7,79.8 389.6,80.9 391.1,83.9 391.8,86.8 392.6,89.7 393.3,94.1 394.0,95.6 394.8,98.5 395.5,92.6 396.2,86.8 397.0,85.3 398.4,86.8 399.9,91.2 401.3,92.6 402.1,88.2 402.8,85.3 404.3,86.0 405.7,88.2 406.5,92.6 407.2,98.5 407.9,94.1 408.7,89.7 409.4,86.8 410.1,92.6 410.9,107.3 411.3,121.9 411.6,139.0 412.0,121.9 412.8,107.3 413.3,100.0 413.8,104.3 414.5,98.5 415.2,101.4 416.0,95.6 416.7,98.5 417.4,94.1 418.2,97.0 418.9,94.1 419.6,91.2 420.4,86.8 421.1,97.0 421.8,105.1 422.6,95.6 423.3,86.8 424.8,83.9 426.2,82.4 427.7,80.9 429.1,81.7 430.6,86.8 431.3,92.6 432.1,94.1 432.8,91.2 433.5,95.6 434.3,100.0 435.0,98.5 435.7,92.6 436.5,97.0 437.2,107.3 437.6,124.8 438.2,114.6 438.7,101.4 439.4,97.0 440.1,91.2 440.9,95.6 441.6,111.7 442.3,104.3 443.0,92.6 443.8,89.7 444.5,97.0 445.2,92.6 446.0,88.2 446.7,85.3 447.4,82.4 448.2,83.9 448.9,86.8 449.6,89.7 450.4,92.6 451.1,94.1 451.8,97.0 453.5,97.0 454.2,92.6 454.9,89.7 455.7,88.2 456.4,91.2 457.1,88.2 457.9,86.8 458.6,85.3 459.3,88.2 460.0,100.0 460.5,114.6 460.8,124.8 461.2,114.6 461.7,98.5 462.2,92.6 463.0,91.2 463.7,88.2 464.4,86.8 465.2,85.3 466.6,83.9 468.1,83.1 469.6,82.4 471.0,81.7 472.5,80.9 474.0,80.2 475.4,80.2 476.9,79.5 477.6,80.9 478.3,83.9 479.1,88.2 479.8,92.6 480.5,98.5 481.3,102.9 482.0,105.1 482.7,100.0 483.5,91.2 484.2,94.1 484.9,100.0 485.7,105.1 486.4,100.0 487.1,91.2 487.9,107.3 488.3,117.5 488.6,111.7 489.3,102.9 490.0,94.1 490.8,89.7 491.5,92.6 492.2,100.0 493.0,107.3 493.7,121.9 494.4,114.6 495.2,98.5 495.9,107.3 496.6,119.0 497.1,129.2 497.4,139.0 497.8,129.2 498.2,119.0 498.8,107.3 499.6,100.0 500.3,91.2 501.0,80.9 501.8,79.5 502.5,79.5 503.2,80.9 504.7,83.9 506.1,86.8 507.6,89.7 509.1,94.1 509.8,98.5 510.5,100.0 511.3,100.7 512.0,100.0 512.7,102.1 513.5,105.1 514.2,100.0 514.9,98.5 516.4,97.0 517.9,94.1 518.6,98.5 519.3,102.9 519.8,105.8 520.3,98.5 520.8,89.7 521.5,82.4 522.2,79.5 523.0,78.9 530.0,78.9" fill="none" stroke="#000" stroke-width="1" stroke-linejoin="round"/>
<polyline points="375.0,78.9 383.8,78.3 388.2,76.1 391.1,73.1 393.3,71.0 394.8,71.0 397.0,72.4 399.1,73.1 400.6,73.9 402.1,72.4 403.5,71.0 405.0,71.7 406.5,73.1 407.9,71.0 409.4,72.4 411.6,71.7 413.8,68.8 415.2,73.1 417.4,73.9 418.9,73.1 421.8,73.9 424.8,74.6 427.7,73.9 430.6,74.6 433.5,74.6 436.5,73.9 439.4,75.3 442.3,74.6 443.8,73.1 445.2,71.7 446.7,67.3 447.4,61.4 448.2,62.9 448.9,68.8 450.4,71.7 451.8,73.9 453.5,70.2 454.2,69.5 454.9,73.1 456.4,75.3 457.9,77.5 460.8,78.9 462.2,75.3 463.7,76.1 466.6,75.3 469.6,74.6 471.0,73.1 472.5,74.6 474.0,70.2 474.7,68.8 475.4,71.7 476.9,74.6 481.3,76.1 487.1,77.5 490.0,77.2 493.0,76.1 495.9,75.3 498.8,75.3 501.8,74.6 504.7,73.1 505.4,68.8 506.1,73.1 507.6,75.3 510.5,74.6 512.0,74.6 513.2,78.9 530.0,78.9" fill="none" stroke="#0000ff" stroke-width="1" stroke-linejoin="round"/>
<polyline points="375.0,78.9 383.8,79.5 388.2,80.9 391.1,82.4 392.6,84.6 394.0,86.8 395.5,84.6 397.0,83.9 398.4,83.1 401.3,83.9 404.3,83.1 407.2,83.9 410.1,86.0 411.6,88.2 413.0,86.8 414.5,86.0 416.0,84.6 418.9,83.9 421.8,83.1 424.8,81.7 427.7,80.9 430.6,82.4 433.5,86.8 435.0,89.7 436.5,94.1 437.9,100.0 439.4,92.6 440.9,86.8 442.3,85.3 445.2,83.9 448.2,82.4 451.1,83.9 454.2,83.1 456.4,83.9 458.6,82.4 460.8,83.1 463.7,81.7 469.6,80.9 476.9,80.2 481.3,80.2 487.1,80.9 487.9,83.9 488.6,81.7 493.0,80.9 498.8,80.9 501.8,80.2 504.7,81.7 507.6,82.4 510.5,83.9 512.0,84.6 513.5,85.3 514.9,84.6 516.4,83.9 517.9,84.6 519.3,87.5 520.0,86.0 520.8,82.4 522.2,79.5 530.0,78.9" fill="none" stroke="#0000ff" stroke-width="1" stroke-linejoin="round"/>
<polyline points="375.0,78.9 383.8,78.3 388.2,76.8 391.1,74.6 394.0,73.1 397.0,72.4 398.4,73.1 399.1,75.3 399.9,76.1 400.6,71.7 401.3,65.8 402.1,62.9 402.8,67.3 403.5,60.0 404.3,62.9 405.0,57.0 405.7,61.4 406.5,65.8 407.2,62.9 408.7,60.0 410.1,45.3 410.9,33.6 411.3,29.2 411.9,41.0 412.8,58.5 413.8,48.3 414.5,55.6 415.2,62.9 416.0,67.3 417.4,57.0 418.2,51.2 418.9,54.1 419.6,57.0 420.4,49.7 421.1,57.0 421.8,61.4 423.3,65.8 424.8,67.3 426.2,62.9 427.0,57.0 427.7,46.8 428.4,42.4 429.1,38.0 429.9,43.9 430.6,48.3 431.3,41.0 432.1,55.6 432.8,43.9 433.5,48.3 434.3,46.8 435.0,52.7 436.5,55.6 437.2,48.3 437.9,51.2 438.7,77.5 439.4,71.7 440.1,68.8 440.9,65.8 441.6,67.3 442.3,64.4 443.0,58.5 443.8,62.9 444.5,57.0 445.2,65.8 446.7,61.4 447.4,67.3 448.2,68.8 449.6,71.7 451.1,73.1 454.9,76.1 457.9,78.3 460.8,78.9 461.5,76.8 462.2,62.9 463.0,52.7 463.7,62.9 464.4,74.6 466.6,75.3 469.6,74.6 472.5,73.1 474.0,71.7 475.4,72.4 476.9,74.6 481.3,76.8 487.1,78.3 488.6,77.2 495.9,76.8 503.2,76.8 510.5,76.5 513.2,78.9 530.0,78.9" fill="none" stroke="#008000" stroke-width="1" stroke-linejoin="round"/>
<polyline points="375.0,78.9 397.0,80.2 404.3,80.6 411.6,81.7 418.9,81.7 426.2,80.9 433.5,81.7 437.9,83.9 439.4,82.4 442.3,81.7 448.2,80.9 451.1,83.1 453.5,84.6 454.9,83.9 456.4,84.6 457.9,83.1 459.3,82.4 460.8,83.9 462.2,83.1 463.7,82.4 466.6,81.7 471.0,80.9 475.4,80.2 476.9,80.2 478.3,82.4 479.1,86.8 479.8,91.2 480.5,97.0 481.3,101.4 482.0,104.3 482.7,100.0 483.5,91.2 484.2,92.6 484.9,98.5 485.7,102.9 486.4,98.5 487.1,89.7 487.9,100.0 488.6,107.3 489.3,100.0 490.0,92.6 490.8,89.7 491.5,92.6 492.2,98.5 493.0,110.2 493.7,120.4 494.4,114.6 495.2,104.3 495.9,114.6 496.6,126.3 497.4,139.0 498.1,126.3 498.5,114.6 499.1,101.4 499.6,95.6 500.3,89.7 501.0,80.9 501.8,79.5 503.2,80.9 504.7,83.1 506.1,85.3 507.6,88.2 509.1,91.2 510.5,94.1 512.0,95.6 513.5,97.0 514.9,94.8 516.4,94.1 517.9,92.6 518.6,94.1 519.3,97.0 520.0,92.6 520.8,86.8 521.5,80.9 522.2,79.2 530.0,78.9" fill="none" stroke="#008000" stroke-width="1" stroke-linejoin="round"/>
<polyline points="375.0,78.9 389.6,77.8 404.3,77.5 418.9,77.2 433.5,77.8 440.9,77.2 448.2,76.8 453.5,74.6 454.9,75.3 456.4,76.8 457.9,77.5 460.8,78.9 461.5,76.1 462.2,62.9 463.0,58.5 463.7,61.4 464.4,73.1 465.2,74.6 466.6,73.1 468.1,76.1 469.6,73.1 470.3,70.2 471.0,74.6 472.5,73.1 474.0,71.7 475.4,74.6 476.9,75.3 481.3,76.8 487.1,78.3 488.3,54.1 489.3,57.0 490.8,61.4 492.2,68.8 493.7,65.8 494.4,62.9 495.2,67.3 495.9,61.4 496.6,57.0 497.4,62.9 498.8,65.8 500.3,68.8 501.8,65.8 502.5,68.8 503.2,67.3 504.0,64.4 504.7,57.0 505.4,55.6 506.1,62.9 506.9,65.8 508.3,71.0 510.5,71.0 512.0,70.2 513.2,78.9 530.0,78.9" fill="none" stroke="#ff0000" stroke-width="1" stroke-linejoin="round"/>
<polyline points="375.0,78.9 389.6,79.8 392.6,80.9 395.5,81.7 398.4,82.4 404.3,83.1 407.2,83.9 410.1,86.8 410.9,92.6 411.3,107.3 411.6,119.0 412.0,107.3 412.5,95.6 413.0,91.2 413.8,86.8 414.5,92.6 415.2,88.2 416.0,89.7 416.7,86.8 417.4,91.2 418.2,86.8 418.9,85.3 420.4,83.9 421.8,86.8 423.3,83.1 426.2,81.7 429.1,80.9 430.6,83.9 432.1,82.4 433.5,83.9 435.0,85.3 436.5,86.8 437.9,88.2 439.4,86.8 440.1,83.9 440.9,86.8 441.6,92.6 442.3,89.7 443.8,83.9 445.2,82.4 446.7,80.9 448.2,81.7 449.6,82.4 451.1,81.7 453.5,83.9 454.9,85.3 456.4,83.9 457.9,82.4 459.3,83.9 460.0,89.7 460.5,97.0 461.1,89.7 461.5,85.3 462.2,83.9 463.7,82.4 465.2,80.9 466.6,80.2 474.0,79.8 481.3,79.5 485.7,79.8 495.9,79.8 510.5,79.8 522.2,79.5 530.0,78.9" fill="none" stroke="#ff0000" stroke-width="1" stroke-linejoin="round"/>
</g>
<clipPath id="c10"><rect x="46.6" y="157.3" width="154.6" height="119.4"/></clipPath>
<g clip-path="url(#c10)">
<polygon points="46.0,217.0 46.0,216.7 48.9,214.1 51.9,211.9 54.0,208.2 55.5,202.4 56.2,196.5 57.0,199.4 57.7,203.8 58.4,205.3 59.2,202.4 59.9,203.8 60.6,200.9 61.4,203.8 62.1,205.3 62.8,206.8 63.6,203.8 64.3,199.4 65.0,193.6 65.8,192.1 66.5,190.7 67.2,184.8 67.7,182.6 68.2,186.3 68.7,193.6 69.4,199.4 70.1,202.4 70.9,199.4 71.6,205.3 72.3,186.3 73.1,168.7 73.5,165.8 74.1,183.3 74.5,187.7 75.3,189.2 76.0,187.7 76.7,189.2 77.5,190.7 78.2,192.1 79.7,193.6 81.1,195.0 82.6,198.0 84.0,200.9 84.8,203.8 85.2,206.8 85.8,200.9 86.4,193.6 87.0,186.3 87.7,184.8 88.4,186.3 89.2,183.3 89.9,181.9 90.6,183.3 91.4,187.7 92.1,189.2 92.8,188.5 93.6,190.7 94.3,192.1 95.0,190.7 95.8,192.1 96.5,190.7 97.2,192.1 98.0,195.0 98.7,196.5 99.4,198.0 100.1,200.9 100.9,205.3 101.6,206.8 103.1,207.5 104.5,206.8 106.0,206.0 107.5,206.8 108.9,205.3 110.4,205.3 111.9,203.8 112.6,200.9 113.3,199.4 114.0,202.4 114.8,208.2 116.2,209.7 117.7,208.2 119.2,206.8 119.9,202.4 120.6,200.9 121.4,206.8 122.1,209.7 124.5,212.6 125.9,214.8 127.4,214.1 128.1,206.8 128.9,193.6 129.6,184.1 130.3,190.7 131.0,196.5 131.8,200.9 132.5,202.4 133.2,203.8 134.7,205.3 136.2,207.5 136.9,206.0 137.6,208.2 138.4,209.7 139.1,203.8 139.8,199.4 140.6,196.5 141.3,197.2 142.0,203.8 142.8,206.0 143.5,206.8 145.0,206.8 146.4,208.2 147.9,209.0 148.6,209.7 149.3,212.6 150.8,214.1 152.3,215.5 154.5,216.3 158.1,216.7 158.9,183.3 159.6,186.3 160.3,195.0 161.0,200.9 162.5,206.8 164.0,208.2 165.4,203.8 166.2,198.0 166.9,192.1 167.6,189.9 168.4,190.7 169.1,193.6 169.8,203.8 171.3,203.8 172.8,198.0 173.5,192.1 174.2,187.7 175.0,184.1 175.7,190.7 176.4,203.8 177.1,208.2 177.9,207.5 178.6,206.8 179.3,208.2 180.1,205.3 181.5,203.8 183.0,203.1 183.7,203.8 184.2,216.7 201.0,216.7 201.0,217.0" fill="#d6d6d6" stroke="none"/>
<polygon points="46.0,217.0 46.0,217.2 48.9,218.2 51.9,219.7 54.0,221.9 55.5,226.2 56.2,230.6 57.0,239.4 57.7,232.1 58.4,224.8 59.2,223.3 59.9,221.9 60.6,224.8 61.4,227.7 62.1,226.2 62.8,229.2 63.6,232.1 64.3,235.0 65.0,230.6 65.8,226.2 66.5,224.8 68.0,223.3 68.7,224.8 69.4,227.7 70.1,235.0 70.9,238.0 71.6,233.6 72.3,239.4 72.8,259.9 73.2,277.0 73.8,259.9 74.5,245.3 75.3,243.8 76.0,246.7 76.7,245.3 77.5,238.0 78.2,233.6 78.9,238.0 79.7,230.6 80.4,233.6 81.1,235.0 81.9,239.4 82.6,236.5 83.3,227.7 84.0,223.3 85.5,221.9 87.0,224.8 88.4,226.2 89.2,223.3 89.9,220.4 91.4,218.9 92.8,220.4 93.6,223.3 94.3,226.2 95.8,229.2 97.2,232.1 98.7,233.6 100.1,232.1 101.6,233.6 103.1,236.5 103.8,240.9 104.5,248.2 105.0,252.6 105.4,245.3 106.0,238.0 106.7,233.6 107.5,230.6 108.9,229.2 110.4,227.7 111.9,229.2 113.3,230.6 114.8,232.1 116.2,233.6 117.7,233.6 119.2,235.0 119.9,236.5 120.6,233.6 121.4,227.7 122.1,223.3 122.8,221.9 124.5,235.0 125.2,244.5 125.6,238.0 126.2,232.1 127.4,229.2 128.9,229.9 129.6,228.4 130.3,230.6 131.0,227.7 131.8,224.8 133.2,223.3 134.7,221.9 136.2,221.1 137.6,220.4 140.6,219.7 143.5,218.9 146.4,218.6 148.6,218.9 149.3,220.4 150.1,224.8 150.8,230.6 151.5,236.5 152.3,240.9 153.0,242.3 153.7,240.9 154.5,230.6 155.2,232.1 155.9,235.0 156.7,240.9 157.4,245.3 158.1,242.3 158.9,248.2 159.6,253.3 160.3,245.3 161.0,238.0 161.8,230.6 162.5,227.7 163.2,224.8 164.0,233.6 164.7,248.2 165.4,259.9 166.2,271.6 166.9,277.0 167.6,271.6 168.4,259.9 169.1,245.3 169.8,233.6 170.6,224.8 171.3,220.4 172.0,218.2 172.8,217.5 174.2,217.5 175.0,218.9 175.7,221.9 177.1,224.8 178.6,227.7 180.1,230.6 181.5,235.0 183.0,236.5 184.5,238.0 185.2,240.9 185.9,245.3 186.7,251.1 187.4,248.2 188.1,242.3 188.9,238.0 189.6,235.0 190.3,233.6 191.0,232.1 191.8,230.6 192.5,224.8 193.2,220.4 194.0,217.5 194.7,217.2 201.0,217.2 201.0,217.0" fill="#d6d6d6" stroke="none"/>
<line x1="154.57" y1="157.3" x2="154.57" y2="276.8" stroke="#8a8a8a" stroke-width="1.1"/>
<line x1="46.6" y1="217.03" x2="201.2" y2="217.03" stroke="#606060" stroke-width="0.8"/>
<polyline points="46.0,216.7 48.9,214.1 51.9,211.9 54.0,208.2 55.5,202.4 56.2,196.5 57.0,199.4 57.7,203.8 58.4,205.3 59.2,202.4 59.9,203.8 60.6,200.9 61.4,203.8 62.1,205.3 62.8,206.8 63.6,203.8 64.3,199.4 65.0,193.6 65.8,192.1 66.5,190.7 67.2,184.8 67.7,182.6 68.2,186.3 68.7,193.6 69.4,199.4 70.1,202.4 70.9,199.4 71.6,205.3 72.3,186.3 73.1,168.7 73.5,165.8 74.1,183.3 74.5,187.7 75.3,189.2 76.0,187.7 76.7,189.2 77.5,190.7 78.2,192.1 79.7,193.6 81.1,195.0 82.6,198.0 84.0,200.9 84.8,203.8 85.2,206.8 85.8,200.9 86.4,193.6 87.0,186.3 87.7,184.8 88.4,186.3 89.2,183.3 89.9,181.9 90.6,183.3 91.4,187.7 92.1,189.2 92.8,188.5 93.6,190.7 94.3,192.1 95.0,190.7 95.8,192.1 96.5,190.7 97.2,192.1 98.0,195.0 98.7,196.5 99.4,198.0 100.1,200.9 100.9,205.3 101.6,206.8 103.1,207.5 104.5,206.8 106.0,206.0 107.5,206.8 108.9,205.3 110.4,205.3 111.9,203.8 112.6,200.9 113.3,199.4 114.0,202.4 114.8,208.2 116.2,209.7 117.7,208.2 119.2,206.8 119.9,202.4 120.6,200.9 121.4,206.8 122.1,209.7 124.5,212.6 125.9,214.8 127.4,214.1 128.1,206.8 128.9,193.6 129.6,184.1 130.3,190.7 131.0,196.5 131.8,200.9 132.5,202.4 133.2,203.8 134.7,205.3 136.2,207.5 136.9,206.0 137.6,208.2 138.4,209.7 139.1,203.8 139.8,199.4 140.6,196.5 141.3,197.2 142.0,203.8 142.8,206.0 143.5,206.8 145.0,206.8 146.4,208.2 147.9,209.0 148.6,209.7 149.3,212.6 150.8,214.1 152.3,215.5 154.5,216.3 158.1,216.7 158.9,183.3 159.6,186.3 160.3,195.0 161.0,200.9 162.5,206.8 164.0,208.2 165.4,203.8 166.2,198.0 166.9,192.1 167.6,189.9 168.4,190.7 169.1,193.6 169.8,203.8 171.3,203.8 172.8,198.0 173.5,192.1 174.2,187.7 175.0,184.1 175.7,190.7 176.4,203.8 177.1,208.2 177.9,207.5 178.6,206.8 179.3,208.2 180.1,205.3 181.5,203.8 183.0,203.1 183.7,203.8 184.2,216.7 201.0,216.7" fill="none" stroke="#000" stroke-width="1" stroke-linejoin="round"/>
<polyline points="46.0,217.2 48.9,218.2 51.9,219.7 54.0,221.9 55.5,226.2 56.2,230.6 57.0,239.4 57.7,232.1 58.4,224.8 59.2,223.3 59.9,221.9 60.6,224.8 61.4,227.7 62.1,226.2 62.8,229.2 63.6,232.1 64.3,235.0 65.0,230.6 65.8,226.2 66.5,224.8 68.0,223.3 68.7,224.8 69.4,227.7 70.1,235.0 70.9,238.0 71.6,233.6 72.3,239.4 72.8,259.9 73.2,277.0 73.8,259.9 74.5,245.3 75.3,243.8 76.0,246.7 76.7,245.3 77.5,238.0 78.2,233.6 78.9,238.0 79.7,230.6 80.4,233.6 81.1,235.0 81.9,239.4 82.6,236.5 83.3,227.7 84.0,223.3 85.5,221.9 87.0,224.8 88.4,226.2 89.2,223.3 89.9,220.4 91.4,218.9 92.8,220.4 93.6,223.3 94.3,226.2 95.8,229.2 97.2,232.1 98.7,233.6 100.1,232.1 101.6,233.6 103.1,236.5 103.8,240.9 104.5,248.2 105.0,252.6 105.4,245.3 106.0,238.0 106.7,233.6 107.5,230.6 108.9,229.2 110.4,227.7 111.9,229.2 113.3,230.6 114.8,232.1 116.2,233.6 117.7,233.6 119.2,235.0 119.9,236.5 120.6,233.6 121.4,227.7 122.1,223.3 122.8,221.9 124.5,235.0 125.2,244.5 125.6,238.0 126.2,232.1 127.4,229.2 128.9,229.9 129.6,228.4 130.3,230.6 131.0,227.7 131.8,224.8 133.2,223.3 134.7,221.9 136.2,221.1 137.6,220.4 140.6,219.7 143.5,218.9 146.4,218.6 148.6,218.9 149.3,220.4 150.1,224.8 150.8,230.6 151.5,236.5 152.3,240.9 153.0,242.3 153.7,240.9 154.5,230.6 155.2,232.1 155.9,235.0 156.7,240.9 157.4,245.3 158.1,242.3 158.9,248.2 159.6,253.3 160.3,245.3 161.0,238.0 161.8,230.6 162.5,227.7 163.2,224.8 164.0,233.6 164.7,248.2 165.4,259.9 166.2,271.6 166.9,277.0 167.6,271.6 168.4,259.9 169.1,245.3 169.8,233.6 170.6,224.8 171.3,220.4 172.0,218.2 172.8,217.5 174.2,217.5 175.0,218.9 175.7,221.9 177.1,224.8 178.6,227.7 180.1,230.6 181.5,235.0 183.0,236.5 184.5,238.0 185.2,240.9 185.9,245.3 186.7,251.1 187.4,248.2 188.1,242.3 188.9,238.0 189.6,235.0 190.3,233.6 191.0,232.1 191.8,230.6 192.5,224.8 193.2,220.4 194.0,217.5 194.7,217.2 201.0,217.2" fill="none" stroke="#000" stroke-width="1" stroke-linejoin="round"/>
<polyline points="46.0,216.7 50.4,215.5 54.8,214.1 57.7,212.6 60.6,213.3 62.1,211.9 63.6,213.3 65.0,214.1 66.5,211.1 68.0,208.2 68.7,209.7 69.4,208.2 70.1,212.6 70.9,209.7 71.6,212.6 72.3,214.1 73.8,210.4 75.3,211.1 78.2,211.9 81.1,212.6 84.0,213.3 87.0,214.1 89.9,213.3 92.8,212.6 95.8,211.9 97.2,212.6 98.7,213.3 101.6,212.6 104.5,213.3 107.5,213.3 110.4,212.6 112.6,209.7 113.3,206.8 114.0,209.7 114.8,212.6 116.2,213.3 119.2,212.6 119.9,211.1 120.6,208.2 121.4,211.1 122.1,213.3 125.9,215.2 128.1,211.1 128.9,206.8 129.6,208.2 131.0,212.6 134.7,213.3 137.6,213.3 139.1,209.7 139.8,208.2 140.6,209.0 141.3,209.7 142.0,211.1 145.0,211.9 147.9,212.6 149.3,214.1 152.3,215.5 158.1,216.3 161.0,214.8 164.0,214.1 166.9,212.6 168.4,213.3 169.8,214.1 171.3,212.6 172.8,211.1 174.2,209.7 175.0,211.1 175.7,214.1 177.1,214.8 178.6,214.1 181.5,213.3 183.0,212.6 184.2,216.7 201.0,216.7" fill="none" stroke="#0000ff" stroke-width="1" stroke-linejoin="round"/>
<polyline points="46.0,217.2 50.4,217.8 53.3,218.9 54.8,220.4 56.2,222.6 57.7,221.9 59.2,219.7 62.1,220.4 65.0,221.1 68.0,221.9 69.4,223.3 70.9,224.0 72.3,224.8 73.8,224.0 75.3,225.5 76.7,224.8 78.2,224.0 79.7,223.3 81.1,222.6 82.6,221.9 84.0,220.4 85.5,219.7 87.0,218.9 89.9,218.2 92.8,219.7 95.8,221.1 98.7,221.9 101.6,222.6 103.1,224.8 104.5,227.7 105.3,232.1 106.0,227.7 107.5,224.8 108.9,223.3 110.4,222.6 111.9,221.9 113.3,222.6 114.8,223.3 116.2,222.6 117.7,223.3 119.2,224.0 120.6,224.8 122.1,222.6 124.5,220.4 125.9,221.1 127.4,221.9 128.9,220.4 130.3,221.1 131.8,220.4 133.2,219.7 134.7,218.9 137.6,218.2 145.0,217.8 152.3,217.5 155.2,218.9 156.7,219.7 158.1,220.4 159.6,221.1 161.0,219.7 162.5,218.9 164.0,218.2 166.9,217.8 169.8,218.2 171.3,217.5 172.8,217.5 175.7,218.2 177.1,218.9 178.6,219.7 180.1,220.4 181.5,221.1 183.0,221.9 184.5,222.6 185.9,224.0 187.4,224.8 188.9,223.3 190.3,221.9 191.8,220.4 193.2,218.2 194.0,217.2 201.0,217.2" fill="none" stroke="#0000ff" stroke-width="1" stroke-linejoin="round"/>
<polyline points="46.0,216.7 50.4,215.5 53.3,214.1 54.8,211.1 56.2,209.7 57.7,211.1 59.2,212.6 60.6,211.9 62.1,211.1 63.6,209.7 65.0,205.3 66.5,195.0 67.2,193.6 68.0,199.4 68.7,203.8 69.4,208.2 70.1,200.9 70.9,206.8 71.6,208.2 72.3,193.6 73.1,176.0 73.5,173.1 74.1,186.3 74.5,196.5 75.3,198.0 76.7,196.5 78.2,198.0 79.7,199.4 81.1,200.9 82.6,202.4 84.0,205.3 84.8,207.5 85.5,208.2 86.2,200.9 87.0,193.6 87.7,189.2 88.4,187.7 89.2,186.3 89.9,189.2 90.6,190.7 91.4,190.7 92.8,192.1 94.3,193.6 95.8,195.0 97.2,196.5 98.7,200.9 100.1,205.3 101.6,211.1 103.1,212.6 104.5,211.9 107.5,212.6 110.4,211.9 113.3,213.3 116.2,212.6 119.2,211.9 122.1,213.3 125.9,215.5 127.4,214.8 128.1,208.2 128.9,205.3 129.6,203.8 130.3,208.2 131.0,211.1 131.8,212.6 134.7,213.3 137.6,214.1 139.1,211.9 139.8,209.7 140.6,211.1 141.3,211.9 142.0,213.3 145.0,214.1 152.3,215.8 158.1,216.3 159.6,215.2 164.0,215.5 166.9,215.2 171.3,214.8 174.2,214.5 178.6,214.8 181.5,214.1 184.2,216.7 201.0,216.7" fill="none" stroke="#008000" stroke-width="1" stroke-linejoin="round"/>
<polyline points="46.0,217.2 60.6,218.2 72.3,219.7 75.3,220.4 82.6,219.7 89.9,218.9 97.2,220.4 101.6,221.9 103.1,223.3 104.5,226.2 105.3,227.7 106.0,224.8 107.5,222.6 110.4,221.1 116.2,221.9 119.2,222.6 122.1,220.4 125.9,218.9 130.3,219.7 137.6,218.9 145.0,218.2 148.6,218.6 149.3,220.4 150.1,224.8 150.8,230.6 151.5,235.0 152.3,239.4 153.0,241.6 153.7,239.4 154.5,229.2 155.2,230.6 155.9,233.6 156.7,238.0 157.4,242.3 158.1,240.9 158.9,245.3 159.6,251.1 160.3,243.8 161.0,236.5 161.8,229.2 162.5,226.2 163.2,224.8 164.0,232.1 164.7,246.7 165.4,258.4 166.2,270.1 166.9,277.0 167.6,270.1 168.4,259.9 169.1,245.3 169.8,232.1 170.6,223.3 171.3,218.9 172.8,217.5 174.2,217.5 175.0,218.9 175.7,221.1 177.1,223.3 178.6,224.8 180.1,227.7 181.5,229.2 183.0,230.6 184.5,232.1 185.9,233.6 186.7,238.0 187.4,236.5 188.9,233.6 190.3,232.1 191.0,229.2 191.8,227.7 192.5,223.3 193.2,218.9 194.0,217.2 201.0,217.2" fill="none" stroke="#008000" stroke-width="1" stroke-linejoin="round"/>
<polyline points="46.0,216.7 60.6,216.0 75.3,215.5 89.9,215.5 104.5,215.2 119.2,215.2 125.9,215.5 127.4,214.8 128.1,211.1 128.9,206.8 129.6,205.3 130.3,209.7 131.0,211.9 131.8,212.6 134.7,213.3 137.6,214.1 139.1,212.6 139.8,209.7 140.6,208.2 141.3,211.1 142.0,214.1 145.0,214.8 152.3,215.8 158.1,216.3 158.9,183.3 159.6,192.1 160.3,199.4 161.0,202.4 162.5,208.2 164.0,209.7 165.4,205.3 166.2,200.9 166.9,195.0 167.6,193.6 168.4,195.0 169.1,198.0 169.8,205.3 171.3,206.8 172.8,205.3 173.5,200.9 174.2,195.0 175.0,193.6 175.7,200.9 176.4,209.7 177.1,211.9 178.6,209.7 180.1,210.4 181.5,208.2 183.0,208.2 183.7,209.7 184.2,216.7 201.0,216.7" fill="none" stroke="#ff0000" stroke-width="1" stroke-linejoin="round"/>
<polyline points="46.0,217.2 50.4,217.8 53.3,218.9 54.8,220.4 56.2,223.3 57.0,226.2 57.7,221.9 59.2,218.9 60.6,219.7 62.1,220.4 63.6,221.9 65.0,221.1 66.5,220.4 68.0,221.1 69.4,223.3 70.9,224.8 71.6,226.2 72.3,230.6 72.8,245.3 73.2,267.2 73.8,245.3 74.5,235.0 75.3,232.1 76.0,235.0 76.7,233.6 77.5,230.6 78.2,229.2 78.9,232.1 79.7,227.7 80.4,230.6 81.1,232.1 81.9,229.2 82.6,224.8 84.0,221.1 85.5,219.7 88.4,218.9 89.9,218.2 92.8,219.7 94.3,220.4 95.8,221.1 97.2,222.6 98.7,223.3 100.1,222.6 101.6,221.9 103.1,222.6 104.5,224.0 106.0,223.3 107.5,221.9 108.9,221.1 110.4,221.9 111.9,222.6 113.3,223.3 114.8,222.6 116.2,221.9 117.7,222.6 119.2,223.3 120.6,222.6 122.1,220.4 124.5,224.8 125.2,227.7 125.9,223.3 126.7,221.1 127.4,220.4 128.9,219.7 131.8,218.9 137.6,218.2 152.3,217.5 166.9,217.5 181.5,217.5 201.0,217.2" fill="none" stroke="#ff0000" stroke-width="1" stroke-linejoin="round"/>
</g>
<clipPath id="c11"><rect x="211.5" y="157.3" width="153.9" height="119.4"/></clipPath>
<g clip-path="url(#c11)">
<polygon points="211.0,217.0 211.0,216.7 213.9,214.8 216.1,211.1 217.6,206.8 219.0,202.4 219.8,200.9 220.5,201.6 221.2,200.9 222.0,199.4 222.7,200.9 223.4,198.0 224.2,196.5 224.9,193.6 225.6,199.4 226.4,203.8 227.1,200.9 227.8,186.3 228.6,171.6 229.0,168.7 229.6,174.6 230.3,186.3 230.9,195.0 231.5,193.6 232.2,186.3 233.0,173.1 233.4,171.6 234.0,186.3 234.4,195.0 235.1,192.1 235.9,189.2 236.6,187.7 237.3,186.3 238.1,184.8 238.8,186.3 239.5,190.7 240.3,193.6 241.0,196.5 241.7,199.4 242.5,200.9 243.2,202.4 243.9,200.9 244.7,198.0 245.4,193.6 246.1,189.2 246.9,184.8 247.6,181.9 248.3,179.0 249.0,179.7 249.8,181.9 250.5,184.8 251.2,186.3 252.0,187.7 252.7,189.9 253.4,190.7 254.2,189.2 254.9,188.5 255.6,190.7 256.4,193.6 257.1,196.5 257.8,199.4 259.3,202.4 260.8,203.8 262.2,205.3 263.7,206.8 265.1,207.5 266.6,208.2 268.1,209.0 269.5,209.7 271.0,208.2 272.5,208.2 273.9,209.7 275.4,208.2 276.1,205.3 276.9,202.4 277.6,200.2 278.3,200.9 279.0,205.3 279.8,208.2 281.2,209.7 282.7,206.8 283.4,205.3 284.2,203.8 284.9,202.4 285.6,205.3 286.4,208.2 287.1,209.7 288.7,205.3 289.5,198.0 290.2,192.1 290.9,190.7 291.7,193.6 292.4,196.5 293.9,200.9 295.3,205.3 296.8,208.2 298.2,209.7 299.7,209.7 301.2,206.8 301.9,203.8 302.6,199.4 303.4,200.9 304.1,203.8 304.8,202.4 305.6,206.8 306.3,208.2 307.0,206.8 307.8,206.0 308.5,206.8 309.2,206.8 310.0,207.5 310.7,209.7 311.4,212.6 312.9,214.8 314.3,215.5 317.3,216.3 323.1,216.7 324.6,200.9 325.3,187.7 326.0,189.2 326.8,195.0 327.5,200.9 329.0,203.8 330.4,199.4 331.2,193.6 331.9,186.3 332.6,184.1 333.4,190.7 334.1,196.5 334.8,200.9 335.6,198.0 336.3,190.7 337.0,187.0 337.8,186.3 338.5,187.7 339.2,195.0 340.0,206.8 340.7,208.2 341.4,209.7 342.1,208.2 342.9,205.3 343.6,203.1 344.3,202.4 345.1,203.1 345.8,203.8 346.5,205.3 347.0,216.7 366.0,216.7 366.0,217.0" fill="#d6d6d6" stroke="none"/>
<polygon points="211.0,217.0 211.0,217.2 213.9,218.2 215.4,219.7 216.9,223.3 217.6,224.8 218.3,223.3 219.0,230.6 219.5,252.6 220.1,277.0 220.7,252.6 221.2,224.8 222.0,220.4 222.7,219.7 223.4,223.3 224.2,229.2 224.9,236.5 225.6,238.0 226.4,233.6 227.1,230.6 227.8,232.1 228.6,229.2 229.3,226.2 230.0,224.8 230.8,230.6 231.5,242.3 232.2,251.1 233.0,249.7 233.7,254.0 234.4,257.7 235.1,254.0 235.9,248.2 236.6,242.3 237.3,238.0 238.1,233.6 238.8,239.4 239.2,233.6 240.3,230.6 241.7,229.2 243.2,227.7 244.7,226.2 246.1,224.8 247.6,223.3 248.3,222.6 249.0,223.3 250.5,224.8 252.0,226.2 253.4,227.7 254.9,226.2 256.4,228.4 257.8,227.0 259.3,227.7 260.8,227.0 262.2,226.2 263.7,227.7 265.1,229.2 266.6,230.6 268.1,232.1 268.8,235.0 269.5,238.0 270.3,240.9 271.0,242.3 271.7,239.4 272.5,238.0 273.9,236.5 275.4,233.6 276.9,230.6 278.3,227.7 279.8,226.2 281.2,224.8 282.7,227.7 284.2,230.6 285.6,233.6 286.4,236.5 287.1,240.9 287.8,235.0 288.7,235.0 289.5,229.2 290.9,226.2 292.4,224.8 293.9,223.3 295.3,221.9 296.8,221.1 299.7,220.4 302.6,219.7 305.6,218.9 308.5,218.2 311.4,218.2 313.6,218.9 314.3,220.4 315.1,223.3 315.8,227.7 316.5,232.1 317.3,238.0 318.0,245.3 318.4,251.1 319.0,243.8 319.5,240.9 320.2,238.0 320.9,236.5 321.7,233.6 322.4,230.6 323.1,229.2 323.9,227.7 324.6,228.4 325.3,230.6 326.0,229.2 326.8,226.2 327.5,224.8 328.2,224.0 329.0,223.3 329.7,224.0 330.4,224.8 331.2,227.7 331.9,230.6 332.6,236.5 333.4,242.3 334.1,251.1 334.8,259.9 335.6,268.7 336.3,277.0 337.0,268.7 337.8,257.0 338.2,238.0 338.6,221.9 339.2,218.9 340.0,220.4 340.7,223.3 341.4,224.8 342.1,226.2 342.9,227.7 343.6,229.2 344.3,230.6 345.1,232.1 345.8,233.6 346.5,235.0 347.3,233.6 348.0,236.5 348.7,238.0 349.5,239.4 350.2,243.8 350.9,246.7 351.7,251.1 352.4,246.7 353.1,239.4 353.9,233.6 354.6,232.1 355.3,230.6 356.0,232.1 356.8,229.2 357.5,224.8 358.2,218.9 359.0,217.2 366.0,217.2 366.0,217.0" fill="#d6d6d6" stroke="none"/>
<line x1="319.20" y1="157.3" x2="319.20" y2="276.8" stroke="#8a8a8a" stroke-width="1.1"/>
<line x1="211.5" y1="217.03" x2="365.4" y2="217.03" stroke="#606060" stroke-width="0.8"/>
<polyline points="211.0,216.7 213.9,214.8 216.1,211.1 217.6,206.8 219.0,202.4 219.8,200.9 220.5,201.6 221.2,200.9 222.0,199.4 222.7,200.9 223.4,198.0 224.2,196.5 224.9,193.6 225.6,199.4 226.4,203.8 227.1,200.9 227.8,186.3 228.6,171.6 229.0,168.7 229.6,174.6 230.3,186.3 230.9,195.0 231.5,193.6 232.2,186.3 233.0,173.1 233.4,171.6 234.0,186.3 234.4,195.0 235.1,192.1 235.9,189.2 236.6,187.7 237.3,186.3 238.1,184.8 238.8,186.3 239.5,190.7 240.3,193.6 241.0,196.5 241.7,199.4 242.5,200.9 243.2,202.4 243.9,200.9 244.7,198.0 245.4,193.6 246.1,189.2 246.9,184.8 247.6,181.9 248.3,179.0 249.0,179.7 249.8,181.9 250.5,184.8 251.2,186.3 252.0,187.7 252.7,189.9 253.4,190.7 254.2,189.2 254.9,188.5 255.6,190.7 256.4,193.6 257.1,196.5 257.8,199.4 259.3,202.4 260.8,203.8 262.2,205.3 263.7,206.8 265.1,207.5 266.6,208.2 268.1,209.0 269.5,209.7 271.0,208.2 272.5,208.2 273.9,209.7 275.4,208.2 276.1,205.3 276.9,202.4 277.6,200.2 278.3,200.9 279.0,205.3 279.8,208.2 281.2,209.7 282.7,206.8 283.4,205.3 284.2,203.8 284.9,202.4 285.6,205.3 286.4,208.2 287.1,209.7 288.7,205.3 289.5,198.0 290.2,192.1 290.9,190.7 291.7,193.6 292.4,196.5 293.9,200.9 295.3,205.3 296.8,208.2 298.2,209.7 299.7,209.7 301.2,206.8 301.9,203.8 302.6,199.4 303.4,200.9 304.1,203.8 304.8,202.4 305.6,206.8 306.3,208.2 307.0,206.8 307.8,206.0 308.5,206.8 309.2,206.8 310.0,207.5 310.7,209.7 311.4,212.6 312.9,214.8 314.3,215.5 317.3,216.3 323.1,216.7 324.6,200.9 325.3,187.7 326.0,189.2 326.8,195.0 327.5,200.9 329.0,203.8 330.4,199.4 331.2,193.6 331.9,186.3 332.6,184.1 333.4,190.7 334.1,196.5 334.8,200.9 335.6,198.0 336.3,190.7 337.0,187.0 337.8,186.3 338.5,187.7 339.2,195.0 340.0,206.8 340.7,208.2 341.4,209.7 342.1,208.2 342.9,205.3 343.6,203.1 344.3,202.4 345.1,203.1 345.8,203.8 346.5,205.3 347.0,216.7 366.0,216.7" fill="none" stroke="#000" stroke-width="1" stroke-linejoin="round"/>
<polyline points="211.0,217.2 213.9,218.2 215.4,219.7 216.9,223.3 217.6,224.8 218.3,223.3 219.0,230.6 219.5,252.6 220.1,277.0 220.7,252.6 221.2,224.8 222.0,220.4 222.7,219.7 223.4,223.3 224.2,229.2 224.9,236.5 225.6,238.0 226.4,233.6 227.1,230.6 227.8,232.1 228.6,229.2 229.3,226.2 230.0,224.8 230.8,230.6 231.5,242.3 232.2,251.1 233.0,249.7 233.7,254.0 234.4,257.7 235.1,254.0 235.9,248.2 236.6,242.3 237.3,238.0 238.1,233.6 238.8,239.4 239.2,233.6 240.3,230.6 241.7,229.2 243.2,227.7 244.7,226.2 246.1,224.8 247.6,223.3 248.3,222.6 249.0,223.3 250.5,224.8 252.0,226.2 253.4,227.7 254.9,226.2 256.4,228.4 257.8,227.0 259.3,227.7 260.8,227.0 262.2,226.2 263.7,227.7 265.1,229.2 266.6,230.6 268.1,232.1 268.8,235.0 269.5,238.0 270.3,240.9 271.0,242.3 271.7,239.4 272.5,238.0 273.9,236.5 275.4,233.6 276.9,230.6 278.3,227.7 279.8,226.2 281.2,224.8 282.7,227.7 284.2,230.6 285.6,233.6 286.4,236.5 287.1,240.9 287.8,235.0 288.7,235.0 289.5,229.2 290.9,226.2 292.4,224.8 293.9,223.3 295.3,221.9 296.8,221.1 299.7,220.4 302.6,219.7 305.6,218.9 308.5,218.2 311.4,218.2 313.6,218.9 314.3,220.4 315.1,223.3 315.8,227.7 316.5,232.1 317.3,238.0 318.0,245.3 318.4,251.1 319.0,243.8 319.5,240.9 320.2,238.0 320.9,236.5 321.7,233.6 322.4,230.6 323.1,229.2 323.9,227.7 324.6,228.4 325.3,230.6 326.0,229.2 326.8,226.2 327.5,224.8 328.2,224.0 329.0,223.3 329.7,224.0 330.4,224.8 331.2,227.7 331.9,230.6 332.6,236.5 333.4,242.3 334.1,251.1 334.8,259.9 335.6,268.7 336.3,277.0 337.0,268.7 337.8,257.0 338.2,238.0 338.6,221.9 339.2,218.9 340.0,220.4 340.7,223.3 341.4,224.8 342.1,226.2 342.9,227.7 343.6,229.2 344.3,230.6 345.1,232.1 345.8,233.6 346.5,235.0 347.3,233.6 348.0,236.5 348.7,238.0 349.5,239.4 350.2,243.8 350.9,246.7 351.7,251.1 352.4,246.7 353.1,239.4 353.9,233.6 354.6,232.1 355.3,230.6 356.0,232.1 356.8,229.2 357.5,224.8 358.2,218.9 359.0,217.2 366.0,217.2" fill="none" stroke="#000" stroke-width="1" stroke-linejoin="round"/>
<polyline points="211.0,216.7 215.4,215.5 218.3,214.1 219.8,212.6 221.2,211.9 222.7,211.1 224.2,210.4 225.6,211.1 227.1,215.5 227.8,212.6 228.6,208.2 229.3,206.8 230.0,207.5 230.8,210.4 231.5,212.6 232.2,211.1 233.0,209.7 233.7,211.9 234.4,213.3 235.9,212.6 237.3,213.3 240.3,213.3 243.2,213.8 246.1,213.3 249.0,211.9 252.0,211.4 254.9,211.4 257.8,211.9 260.8,212.6 263.7,213.3 266.6,214.1 269.5,214.4 272.5,214.1 275.4,212.6 276.9,209.7 277.6,207.5 278.3,209.0 279.0,211.9 279.8,212.6 281.2,214.1 282.7,212.6 284.2,211.1 284.9,209.7 285.6,211.1 287.1,213.3 289.5,211.1 290.2,208.2 290.9,209.7 292.4,211.9 295.3,213.3 299.7,212.6 301.2,211.1 301.9,209.0 302.6,209.7 303.4,211.1 304.1,210.4 305.6,211.9 307.0,211.1 308.5,211.9 310.0,212.6 312.9,214.1 317.3,215.5 323.1,216.3 326.0,215.2 329.0,214.8 331.9,214.1 334.8,213.3 336.3,211.9 337.8,211.1 338.5,211.9 339.2,213.3 340.7,214.1 342.1,213.3 343.6,212.6 345.1,213.3 346.5,213.3 347.0,216.7 366.0,216.7" fill="none" stroke="#0000ff" stroke-width="1" stroke-linejoin="round"/>
<polyline points="211.0,217.2 216.9,218.9 219.0,220.4 219.8,221.9 221.2,221.1 222.7,220.4 224.2,223.3 225.6,222.6 227.1,221.9 228.6,221.1 230.0,219.7 231.5,223.3 233.0,224.8 234.4,226.2 235.9,224.8 237.3,223.3 238.8,222.6 240.3,221.9 243.2,221.1 246.1,220.4 249.0,219.7 252.0,220.4 254.9,221.1 257.8,221.9 260.8,222.6 263.7,223.3 266.6,224.0 268.1,225.5 269.5,227.7 271.0,229.2 272.5,227.7 273.9,226.2 275.4,224.8 276.9,223.3 278.3,222.6 279.8,223.3 281.2,221.9 282.7,223.3 284.2,224.0 285.6,224.8 287.1,227.0 289.5,223.3 290.9,221.9 292.4,221.1 295.3,220.4 299.7,219.7 305.6,218.9 311.4,218.2 317.3,217.8 320.2,218.9 323.1,218.6 326.0,218.2 329.0,218.2 331.9,218.9 334.8,219.7 336.3,220.4 337.8,218.2 339.2,217.5 340.7,218.2 343.6,218.9 346.5,220.4 348.0,221.1 349.5,221.9 350.9,223.3 351.7,224.0 352.4,223.3 353.9,221.9 355.3,221.1 356.8,219.7 358.2,218.2 359.0,217.2 366.0,217.2" fill="none" stroke="#0000ff" stroke-width="1" stroke-linejoin="round"/>
<polyline points="211.0,216.7 215.4,215.5 217.6,212.6 219.0,209.7 220.5,208.2 222.0,208.2 223.4,206.8 224.9,205.3 225.6,206.8 226.4,208.2 227.1,215.5 227.5,200.9 228.1,186.3 228.6,179.0 229.3,174.6 230.0,179.0 230.8,193.6 231.5,198.0 232.2,193.6 233.0,177.5 233.4,174.6 234.0,193.6 234.4,199.4 235.1,196.5 236.6,193.6 237.3,192.1 238.1,190.7 238.8,192.1 239.5,195.0 240.3,198.0 241.0,200.9 241.7,203.8 243.2,205.3 244.7,202.4 245.4,199.4 246.1,195.0 246.9,190.7 247.6,187.7 248.3,185.5 249.0,186.3 249.8,188.5 250.5,190.7 251.2,192.1 252.0,195.0 253.4,196.5 254.9,197.2 256.4,200.9 257.8,203.8 259.3,206.8 260.8,209.0 263.7,210.4 266.6,211.9 269.5,212.6 272.5,213.3 275.4,212.6 276.9,211.1 278.3,209.7 279.8,211.1 281.2,212.6 284.2,211.9 289.5,212.6 290.2,209.7 290.9,208.2 291.7,210.4 292.4,212.6 295.3,214.1 299.7,214.8 301.2,213.3 301.9,211.9 302.6,212.6 305.6,213.3 308.5,214.1 311.4,214.8 317.3,216.3 324.6,215.5 329.0,215.5 331.9,215.2 334.8,215.0 337.8,214.5 340.7,214.8 343.6,214.5 346.5,214.8 347.0,216.7 366.0,216.7" fill="none" stroke="#008000" stroke-width="1" stroke-linejoin="round"/>
<polyline points="211.0,217.2 225.6,218.2 240.3,218.6 254.9,218.9 262.2,220.4 266.6,221.9 269.5,224.0 271.0,225.5 272.5,224.8 275.4,223.3 278.3,221.9 281.2,220.4 284.2,220.4 287.1,221.1 290.9,218.9 296.8,218.9 302.6,218.6 308.5,218.2 313.6,218.9 314.3,220.4 315.1,223.3 315.8,227.7 316.5,232.1 317.3,238.0 318.0,243.8 318.4,248.2 319.0,242.3 319.5,239.4 320.2,236.5 320.9,235.0 321.7,232.1 322.4,229.2 323.1,227.7 323.9,226.2 324.6,227.7 325.3,229.2 326.0,227.7 326.8,224.8 327.5,224.0 329.0,223.3 330.4,224.0 331.2,226.2 331.9,229.2 332.6,235.0 333.4,240.9 334.1,249.7 334.8,258.4 335.6,267.2 336.3,277.0 337.0,267.2 337.8,252.6 338.2,233.6 338.6,220.4 339.2,218.2 340.0,219.7 340.7,221.9 342.1,224.8 343.6,227.7 345.1,230.6 346.5,232.1 348.0,233.6 349.5,236.5 350.2,239.4 350.9,242.3 351.7,243.8 352.4,240.9 353.1,236.5 353.9,232.1 354.6,230.6 355.3,229.2 356.0,229.9 356.8,227.7 357.5,223.3 358.2,218.9 359.0,217.2 366.0,217.2" fill="none" stroke="#008000" stroke-width="1" stroke-linejoin="round"/>
<polyline points="211.0,216.7 225.6,216.0 240.3,215.5 254.9,215.2 269.5,215.5 284.2,215.2 289.5,214.1 290.2,211.1 290.9,210.4 291.7,212.6 292.4,214.1 295.3,214.8 299.7,215.2 301.2,214.1 301.9,211.9 302.6,212.6 304.1,213.3 307.0,214.1 310.0,214.8 312.9,215.5 317.3,216.3 323.1,216.7 324.6,200.9 325.3,189.2 326.0,190.7 326.8,196.5 327.5,200.9 329.0,203.8 330.4,199.4 331.2,195.0 331.9,187.7 332.6,186.3 333.4,192.1 334.1,198.0 334.8,202.4 335.6,200.9 336.3,195.0 337.0,192.1 337.8,193.6 338.5,196.5 339.2,203.8 340.0,209.7 340.7,211.1 342.1,212.6 342.9,209.7 343.6,207.5 345.1,207.5 346.5,208.2 347.0,216.7 366.0,216.7" fill="none" stroke="#ff0000" stroke-width="1" stroke-linejoin="round"/>
<polyline points="211.0,217.2 215.4,218.2 217.6,220.4 218.3,219.7 219.0,227.7 219.5,242.3 220.1,252.6 220.5,242.3 221.0,224.8 221.5,218.9 222.7,218.2 223.4,220.4 224.2,224.8 224.9,227.7 225.6,229.2 226.4,226.2 227.1,224.8 227.8,223.3 228.6,221.9 229.3,220.4 230.0,223.3 230.8,230.6 231.5,238.0 232.2,240.9 233.0,239.4 233.7,245.3 234.4,246.7 235.1,242.3 235.9,239.4 236.6,235.0 237.3,230.6 238.1,232.1 238.8,230.6 239.5,227.7 240.3,224.8 241.7,223.3 243.2,221.9 244.7,221.1 246.1,220.4 247.6,220.4 249.0,221.1 252.0,221.9 254.9,221.1 257.8,221.6 260.8,221.9 263.7,221.1 266.6,221.9 269.5,222.6 271.0,221.9 272.5,221.1 275.4,220.4 278.3,220.4 281.2,219.7 284.2,220.4 287.1,221.1 289.5,219.7 290.9,218.9 293.9,218.2 302.6,217.8 317.3,217.5 331.9,217.5 346.5,217.5 366.0,217.2" fill="none" stroke="#ff0000" stroke-width="1" stroke-linejoin="round"/>
</g>
<clipPath id="c12"><rect x="375.3" y="157.3" width="155.1" height="119.4"/></clipPath>
<g clip-path="url(#c12)">
<polygon points="375.0,217.0 375.0,216.7 376.5,214.1 377.9,211.1 379.4,208.2 380.9,203.8 382.3,200.9 383.0,199.4 383.8,198.0 384.5,196.5 385.2,193.6 386.0,189.2 386.4,184.8 387.0,189.2 387.9,186.3 388.5,184.8 389.3,183.3 390.1,182.6 390.8,186.3 391.4,190.7 392.3,193.6 393.3,195.0 394.0,196.5 394.8,198.0 395.5,196.5 396.2,195.8 397.0,198.0 397.7,193.6 398.4,190.7 399.1,189.2 399.9,190.7 400.6,192.1 401.3,196.5 402.1,198.0 402.8,195.0 403.5,192.1 404.3,189.2 405.7,186.3 407.2,184.8 408.4,183.3 409.4,184.8 410.1,186.3 411.6,189.2 413.0,192.1 414.5,195.0 416.0,196.5 417.4,198.0 418.9,199.4 420.4,200.9 421.8,202.4 423.3,203.8 424.8,204.6 426.2,203.8 427.7,205.3 429.1,206.8 430.6,207.5 432.1,208.2 433.5,209.0 435.0,209.7 436.5,210.4 437.9,210.4 439.4,209.7 440.9,208.2 441.6,205.3 442.3,203.8 443.0,202.4 443.8,203.8 444.5,206.8 445.2,209.0 446.7,208.2 448.2,206.8 448.9,205.3 449.6,206.8 451.1,208.2 453.5,202.4 454.2,198.0 454.9,195.8 455.7,196.5 456.4,199.4 457.9,203.8 459.3,206.8 460.8,209.0 462.2,209.7 463.7,210.4 465.2,208.2 465.9,203.8 466.6,198.0 467.4,200.9 468.1,203.8 468.8,204.6 469.6,206.0 470.3,206.8 471.0,207.5 471.8,207.5 472.5,208.2 474.0,209.7 475.4,211.9 476.9,214.1 478.3,215.5 481.3,216.3 487.1,216.7 489.8,200.9 490.3,182.6 490.9,189.2 491.5,196.5 492.2,202.4 493.0,203.8 494.4,202.4 495.2,198.0 495.9,190.7 496.6,183.3 497.4,186.3 498.1,193.6 498.8,196.5 499.6,195.0 500.3,190.7 501.0,186.3 501.8,185.5 502.5,187.7 503.2,189.2 504.0,198.0 504.7,205.3 505.4,206.8 506.1,208.2 506.9,206.8 507.6,203.8 508.3,201.6 509.1,200.9 509.8,202.4 510.5,202.4 511.3,216.7 530.0,216.7 530.0,217.0" fill="#d6d6d6" stroke="none"/>
<polygon points="375.0,217.0 375.0,217.2 377.9,218.2 379.4,220.4 380.9,224.8 381.6,227.7 382.3,224.8 382.8,238.0 383.2,252.6 383.5,262.8 383.9,252.6 384.4,230.6 384.8,220.4 385.5,218.9 386.4,220.4 387.0,224.8 387.6,233.6 388.2,245.3 388.6,249.7 389.0,240.9 389.6,235.0 390.4,232.1 391.1,233.6 391.8,227.7 392.6,224.8 393.3,233.6 393.7,245.3 394.2,255.5 394.8,251.1 395.5,252.6 396.2,254.0 397.0,252.6 397.7,251.1 398.4,245.3 399.1,239.4 399.9,233.6 400.6,230.6 401.3,229.2 402.8,227.7 404.3,227.0 405.7,226.2 407.2,225.5 408.7,224.8 410.1,224.0 411.6,223.3 413.0,224.0 414.5,224.8 416.0,226.2 417.4,227.7 418.9,229.2 419.6,230.6 420.4,229.2 421.8,226.2 423.3,224.8 424.8,225.5 426.2,226.2 427.7,227.7 429.1,229.2 430.6,230.6 432.1,232.1 433.5,235.0 435.0,238.0 436.5,240.9 437.2,241.6 437.9,239.4 439.4,236.5 440.9,232.1 442.3,229.2 443.8,227.7 445.2,227.0 446.7,226.2 448.2,227.7 449.6,233.6 450.4,239.4 451.1,241.6 451.8,238.0 453.5,228.4 454.9,226.2 456.4,224.0 457.9,222.6 459.3,221.9 460.8,221.1 463.7,219.7 466.6,218.9 469.6,218.6 472.5,218.2 475.4,218.2 476.9,219.7 477.6,221.9 478.3,224.8 479.1,229.2 479.8,231.4 480.5,232.1 481.3,230.6 482.0,232.1 482.7,232.8 483.5,230.6 484.2,231.4 484.9,232.1 485.7,230.6 486.4,232.1 487.1,235.0 487.9,236.5 488.6,233.6 489.3,230.6 490.0,232.1 490.8,230.6 491.5,229.9 492.2,229.2 493.0,230.6 493.7,232.1 494.4,233.6 495.2,232.1 495.9,230.6 496.6,233.6 497.4,235.0 498.1,234.3 498.8,232.1 499.6,235.0 500.3,238.0 501.0,242.3 501.8,245.3 502.5,247.5 503.2,245.3 504.0,240.9 504.7,235.0 505.4,230.6 506.1,227.0 506.9,227.7 507.6,230.6 508.3,238.0 509.1,243.1 509.8,239.4 510.5,235.0 511.3,232.1 512.0,230.6 512.7,232.1 513.5,235.0 514.2,236.5 514.9,235.8 516.4,234.3 517.9,232.8 519.3,231.4 520.8,229.2 522.2,226.2 523.7,224.8 525.2,223.3 526.6,222.6 528.1,220.4 529.6,218.9 530.0,218.2 530.0,217.0" fill="#d6d6d6" stroke="none"/>
<line x1="483.57" y1="157.3" x2="483.57" y2="276.8" stroke="#8a8a8a" stroke-width="1.1"/>
<line x1="375.3" y1="217.03" x2="530.4" y2="217.03" stroke="#606060" stroke-width="0.8"/>
<polyline points="375.0,216.7 376.5,214.1 377.9,211.1 379.4,208.2 380.9,203.8 382.3,200.9 383.0,199.4 383.8,198.0 384.5,196.5 385.2,193.6 386.0,189.2 386.4,184.8 387.0,189.2 387.9,186.3 388.5,184.8 389.3,183.3 390.1,182.6 390.8,186.3 391.4,190.7 392.3,193.6 393.3,195.0 394.0,196.5 394.8,198.0 395.5,196.5 396.2,195.8 397.0,198.0 397.7,193.6 398.4,190.7 399.1,189.2 399.9,190.7 400.6,192.1 401.3,196.5 402.1,198.0 402.8,195.0 403.5,192.1 404.3,189.2 405.7,186.3 407.2,184.8 408.4,183.3 409.4,184.8 410.1,186.3 411.6,189.2 413.0,192.1 414.5,195.0 416.0,196.5 417.4,198.0 418.9,199.4 420.4,200.9 421.8,202.4 423.3,203.8 424.8,204.6 426.2,203.8 427.7,205.3 429.1,206.8 430.6,207.5 432.1,208.2 433.5,209.0 435.0,209.7 436.5,210.4 437.9,210.4 439.4,209.7 440.9,208.2 441.6,205.3 442.3,203.8 443.0,202.4 443.8,203.8 444.5,206.8 445.2,209.0 446.7,208.2 448.2,206.8 448.9,205.3 449.6,206.8 451.1,208.2 453.5,202.4 454.2,198.0 454.9,195.8 455.7,196.5 456.4,199.4 457.9,203.8 459.3,206.8 460.8,209.0 462.2,209.7 463.7,210.4 465.2,208.2 465.9,203.8 466.6,198.0 467.4,200.9 468.1,203.8 468.8,204.6 469.6,206.0 470.3,206.8 471.0,207.5 471.8,207.5 472.5,208.2 474.0,209.7 475.4,211.9 476.9,214.1 478.3,215.5 481.3,216.3 487.1,216.7 489.8,200.9 490.3,182.6 490.9,189.2 491.5,196.5 492.2,202.4 493.0,203.8 494.4,202.4 495.2,198.0 495.9,190.7 496.6,183.3 497.4,186.3 498.1,193.6 498.8,196.5 499.6,195.0 500.3,190.7 501.0,186.3 501.8,185.5 502.5,187.7 503.2,189.2 504.0,198.0 504.7,205.3 505.4,206.8 506.1,208.2 506.9,206.8 507.6,203.8 508.3,201.6 509.1,200.9 509.8,202.4 510.5,202.4 511.3,216.7 530.0,216.7" fill="none" stroke="#000" stroke-width="1" stroke-linejoin="round"/>
<polyline points="375.0,217.2 377.9,218.2 379.4,220.4 380.9,224.8 381.6,227.7 382.3,224.8 382.8,238.0 383.2,252.6 383.5,262.8 383.9,252.6 384.4,230.6 384.8,220.4 385.5,218.9 386.4,220.4 387.0,224.8 387.6,233.6 388.2,245.3 388.6,249.7 389.0,240.9 389.6,235.0 390.4,232.1 391.1,233.6 391.8,227.7 392.6,224.8 393.3,233.6 393.7,245.3 394.2,255.5 394.8,251.1 395.5,252.6 396.2,254.0 397.0,252.6 397.7,251.1 398.4,245.3 399.1,239.4 399.9,233.6 400.6,230.6 401.3,229.2 402.8,227.7 404.3,227.0 405.7,226.2 407.2,225.5 408.7,224.8 410.1,224.0 411.6,223.3 413.0,224.0 414.5,224.8 416.0,226.2 417.4,227.7 418.9,229.2 419.6,230.6 420.4,229.2 421.8,226.2 423.3,224.8 424.8,225.5 426.2,226.2 427.7,227.7 429.1,229.2 430.6,230.6 432.1,232.1 433.5,235.0 435.0,238.0 436.5,240.9 437.2,241.6 437.9,239.4 439.4,236.5 440.9,232.1 442.3,229.2 443.8,227.7 445.2,227.0 446.7,226.2 448.2,227.7 449.6,233.6 450.4,239.4 451.1,241.6 451.8,238.0 453.5,228.4 454.9,226.2 456.4,224.0 457.9,222.6 459.3,221.9 460.8,221.1 463.7,219.7 466.6,218.9 469.6,218.6 472.5,218.2 475.4,218.2 476.9,219.7 477.6,221.9 478.3,224.8 479.1,229.2 479.8,231.4 480.5,232.1 481.3,230.6 482.0,232.1 482.7,232.8 483.5,230.6 484.2,231.4 484.9,232.1 485.7,230.6 486.4,232.1 487.1,235.0 487.9,236.5 488.6,233.6 489.3,230.6 490.0,232.1 490.8,230.6 491.5,229.9 492.2,229.2 493.0,230.6 493.7,232.1 494.4,233.6 495.2,232.1 495.9,230.6 496.6,233.6 497.4,235.0 498.1,234.3 498.8,232.1 499.6,235.0 500.3,238.0 501.0,242.3 501.8,245.3 502.5,247.5 503.2,245.3 504.0,240.9 504.7,235.0 505.4,230.6 506.1,227.0 506.9,227.7 507.6,230.6 508.3,238.0 509.1,243.1 509.8,239.4 510.5,235.0 511.3,232.1 512.0,230.6 512.7,232.1 513.5,235.0 514.2,236.5 514.9,235.8 516.4,234.3 517.9,232.8 519.3,231.4 520.8,229.2 522.2,226.2 523.7,224.8 525.2,223.3 526.6,222.6 528.1,220.4 529.6,218.9 530.0,218.2" fill="none" stroke="#000" stroke-width="1" stroke-linejoin="round"/>
<polyline points="375.0,216.7 379.4,215.5 382.3,214.8 383.8,214.1 385.2,211.9 386.7,211.1 387.4,209.7 388.2,211.9 388.9,211.1 389.6,209.7 390.4,211.9 391.1,212.6 392.6,213.3 395.5,213.3 398.4,213.3 401.3,214.1 402.8,213.3 404.3,212.6 407.2,211.9 410.1,211.1 413.0,211.9 416.0,212.6 418.9,213.0 421.8,213.3 424.8,213.3 427.7,213.8 430.6,213.8 433.5,214.1 436.5,214.4 439.4,214.1 441.6,211.9 442.3,209.7 443.0,210.4 443.8,211.9 445.2,213.3 448.2,212.6 449.6,211.1 451.1,212.6 453.5,211.1 454.2,209.0 454.9,208.2 455.7,209.7 456.4,211.9 459.3,213.3 463.7,213.3 465.2,211.1 465.9,208.2 466.6,209.0 468.1,210.4 469.6,211.1 471.0,211.9 472.5,211.9 474.0,212.6 476.9,214.1 481.3,215.5 487.1,216.3 491.5,215.5 494.4,214.8 495.9,214.1 497.4,212.6 498.8,213.3 500.3,211.9 501.8,211.1 503.2,211.9 504.7,213.3 506.1,214.1 507.6,213.3 509.1,213.3 510.5,214.1 511.3,216.7 530.0,216.7" fill="none" stroke="#0000ff" stroke-width="1" stroke-linejoin="round"/>
<polyline points="375.0,217.2 380.9,219.7 382.3,221.1 383.8,220.4 385.2,221.1 386.7,223.3 388.2,226.2 388.9,224.8 389.6,223.3 391.1,220.4 392.6,219.7 394.0,223.3 395.5,224.8 397.0,224.8 398.4,224.0 399.9,222.6 401.3,221.9 404.3,221.1 407.2,220.4 410.1,220.1 413.0,220.4 416.0,221.1 418.9,221.9 421.8,222.6 424.8,222.6 427.7,223.3 430.6,224.0 433.5,226.2 435.0,227.7 436.5,229.2 437.9,227.7 439.4,226.2 440.9,224.8 442.3,224.0 443.8,223.3 445.2,222.6 446.7,223.3 448.2,224.8 449.6,226.2 451.1,229.2 453.5,223.3 454.9,221.9 456.4,220.4 459.3,219.7 463.7,218.9 469.6,218.6 475.4,218.2 481.3,218.2 487.1,218.9 493.0,219.7 498.8,219.7 501.8,218.9 503.2,219.7 504.7,218.9 507.6,219.7 509.1,220.4 510.5,221.1 513.5,220.4 516.4,220.4 519.3,219.7 522.2,218.9 525.2,218.9 528.1,218.2 530.0,217.8" fill="none" stroke="#0000ff" stroke-width="1" stroke-linejoin="round"/>
<polyline points="375.0,216.7 377.9,214.8 380.9,211.1 383.0,206.8 384.5,202.4 386.0,196.5 386.7,193.6 387.4,195.0 388.2,196.5 388.9,193.6 389.6,192.1 391.1,195.0 392.6,198.0 394.0,199.4 395.5,200.9 397.0,201.6 398.4,198.0 399.1,195.0 399.9,196.5 400.6,198.0 401.3,200.9 402.1,202.4 402.8,199.4 404.3,196.5 405.7,193.6 407.2,192.1 408.7,191.4 410.1,193.6 411.6,196.5 413.0,199.4 414.5,200.9 416.0,202.4 417.4,203.8 418.9,205.3 420.4,206.8 421.8,207.5 424.8,209.0 427.7,209.7 430.6,211.1 433.5,213.3 436.5,214.1 439.4,213.3 442.3,211.1 443.8,211.9 445.2,213.3 448.2,213.3 451.1,212.6 453.5,211.9 454.2,210.4 454.9,209.7 455.7,211.1 456.4,213.3 459.3,214.1 463.7,214.8 465.2,213.3 465.9,211.1 466.6,212.6 469.6,213.3 472.5,214.1 475.4,214.8 481.3,216.3 488.6,215.8 493.0,215.5 495.9,215.5 500.3,215.2 503.2,215.2 507.6,215.2 510.5,215.1 511.3,216.7 530.0,216.7" fill="none" stroke="#008000" stroke-width="1" stroke-linejoin="round"/>
<polyline points="375.0,217.2 389.6,218.6 404.3,219.2 418.9,219.7 426.2,220.4 433.5,222.6 436.5,224.0 437.9,223.3 440.9,221.9 445.2,221.1 448.2,221.9 451.1,223.3 454.9,219.7 457.9,219.2 460.8,218.9 466.6,218.6 472.5,218.2 476.1,218.6 476.9,219.7 477.6,221.9 478.3,224.8 479.1,229.2 479.8,230.6 480.5,231.4 481.3,229.9 482.0,231.4 482.7,232.1 483.5,229.9 484.2,230.6 484.9,231.4 485.7,229.9 486.4,231.4 487.1,233.6 487.9,235.8 488.6,232.8 489.3,229.9 490.0,231.4 490.8,229.9 491.5,229.2 492.2,228.4 493.0,229.9 493.7,231.4 494.4,232.8 495.2,231.4 495.9,229.9 496.6,232.8 497.4,233.6 498.1,233.3 498.8,231.4 499.6,233.6 500.3,236.5 501.0,240.9 501.8,243.8 502.5,245.3 503.2,243.8 504.0,239.4 504.7,233.6 505.4,229.2 506.1,226.2 506.9,227.0 507.6,229.9 508.3,236.5 509.1,240.9 509.8,238.0 510.5,233.6 511.3,230.6 512.0,229.9 513.5,232.1 514.9,233.6 516.4,232.1 517.9,230.6 519.3,229.2 520.8,227.7 522.2,225.5 523.7,224.0 525.2,222.6 526.6,221.9 528.1,220.4 529.6,218.9 530.0,218.2" fill="none" stroke="#008000" stroke-width="1" stroke-linejoin="round"/>
<polyline points="375.0,216.7 389.6,216.0 404.3,215.8 418.9,215.5 433.5,215.5 448.2,215.2 453.5,213.3 454.2,211.9 454.9,211.1 455.7,211.9 456.4,213.3 459.3,214.8 463.7,215.2 465.2,214.1 465.9,211.9 466.6,212.6 468.1,214.1 471.0,214.4 474.0,214.8 478.3,215.8 487.1,216.7 489.8,200.9 490.3,186.3 490.9,192.1 491.5,199.4 492.2,203.8 493.0,205.3 494.4,203.8 495.2,200.9 495.9,195.0 496.6,189.2 497.4,190.7 498.1,196.5 498.8,199.4 499.6,198.0 500.3,196.5 501.0,195.0 501.8,193.6 502.5,194.3 503.2,196.5 504.0,203.8 504.7,208.2 505.4,210.4 506.1,211.1 506.9,209.7 507.6,206.8 509.1,205.3 510.5,206.0 511.3,216.7 530.0,216.7" fill="none" stroke="#ff0000" stroke-width="1" stroke-linejoin="round"/>
<polyline points="375.0,217.2 379.4,218.2 380.9,220.4 381.6,221.9 382.3,220.4 382.8,233.6 383.2,245.3 383.5,252.6 383.9,245.3 384.4,227.7 384.8,218.9 385.5,218.2 386.7,220.4 387.4,224.8 388.2,230.6 388.6,235.0 389.0,232.1 389.6,227.7 390.4,224.8 391.1,224.0 391.8,222.6 392.6,223.3 393.3,230.6 394.0,238.0 394.8,243.8 395.5,242.3 396.2,243.1 397.0,240.9 397.7,238.0 398.4,233.6 399.1,230.6 399.9,226.2 400.6,223.3 401.3,221.9 404.3,221.1 407.2,220.4 410.1,220.1 413.0,220.4 416.0,221.1 418.9,221.9 420.4,221.1 421.8,219.7 424.8,220.1 427.7,220.4 430.6,220.4 433.5,221.1 436.5,221.9 439.4,221.1 442.3,220.4 445.2,220.4 448.2,221.1 449.6,221.9 451.1,223.3 453.5,220.4 454.9,219.7 457.9,218.9 463.7,218.2 475.4,217.8 481.3,217.5 495.9,217.5 510.5,217.5 530.0,217.2" fill="none" stroke="#ff0000" stroke-width="1" stroke-linejoin="round"/>
</g>
<clipPath id="c20"><rect x="46.6" y="296.5" width="154.6" height="118.8"/></clipPath>
<g clip-path="url(#c20)">
<polygon points="46.0,355.9 46.0,355.7 48.9,353.1 51.9,350.9 54.0,347.2 55.5,341.4 56.2,337.0 57.0,339.9 57.7,342.8 58.4,342.1 59.2,341.4 59.9,342.8 60.6,341.4 61.4,342.8 62.1,345.8 62.8,347.2 63.6,342.8 64.3,339.9 65.0,334.0 65.8,331.1 66.5,328.2 67.2,324.5 67.7,326.7 68.2,328.2 68.7,334.0 69.4,339.9 70.1,342.8 70.9,338.4 71.6,344.3 72.3,325.3 73.1,312.1 73.5,310.6 74.1,325.3 74.5,328.2 75.3,328.9 76.7,329.7 78.2,331.1 79.7,331.9 81.1,332.6 82.6,335.5 84.0,339.9 84.8,344.3 85.2,346.5 85.8,341.4 86.4,334.0 87.0,326.7 87.7,320.9 88.4,322.3 89.2,323.8 89.9,325.3 90.6,326.7 91.4,326.0 92.1,328.2 92.8,329.7 93.6,331.1 94.3,330.4 95.8,329.7 96.5,328.2 97.2,327.5 98.0,330.4 98.7,332.6 99.4,334.0 100.1,335.5 100.9,341.4 101.6,344.3 103.1,345.0 104.5,345.0 106.0,344.3 107.5,342.8 108.9,342.1 110.4,342.8 111.9,342.8 112.6,339.9 113.3,334.0 113.8,333.3 114.2,337.0 114.8,345.8 116.2,348.7 117.7,347.2 119.2,345.8 119.9,339.9 120.6,338.4 121.4,342.8 122.1,347.2 124.5,351.6 125.9,353.8 127.4,353.1 128.1,345.8 128.9,331.1 129.6,320.1 130.3,326.7 131.0,334.0 131.8,338.4 132.5,341.4 133.2,342.8 134.7,344.3 136.2,345.8 136.9,343.6 137.6,345.8 138.4,347.2 139.1,342.8 139.8,337.0 140.6,334.8 141.3,335.5 142.0,342.8 142.8,344.3 143.5,345.0 145.0,345.0 146.4,345.8 147.9,346.5 148.6,347.2 149.3,351.6 150.8,353.1 152.3,354.5 154.5,355.3 158.9,355.7 159.6,331.1 160.3,334.0 161.0,338.4 161.8,339.9 162.5,344.3 164.0,345.8 165.4,342.8 166.2,335.5 166.9,331.1 167.6,327.5 168.4,329.7 169.1,331.1 169.8,342.8 171.3,341.4 172.8,335.5 173.5,329.7 174.2,326.7 175.0,324.5 175.7,328.2 176.4,342.8 177.1,347.2 177.9,346.5 178.6,345.8 179.3,346.5 180.1,344.3 181.5,342.8 183.0,342.1 183.7,342.8 184.5,355.7 201.0,355.7 201.0,355.9" fill="#d6d6d6" stroke="none"/>
<polygon points="46.0,355.9 46.0,355.9 48.9,356.8 51.9,358.7 54.0,360.9 55.5,365.2 56.2,369.6 56.7,377.0 57.3,369.6 58.0,362.3 59.2,360.9 59.9,362.3 60.6,365.2 61.4,366.7 62.1,365.2 62.8,368.2 63.6,370.4 64.3,371.1 65.0,368.2 65.8,365.2 66.5,363.8 68.0,362.3 68.7,363.8 69.4,366.7 70.1,372.6 70.9,376.2 71.6,372.6 72.3,379.9 72.8,387.2 73.2,393.8 73.8,387.2 74.2,384.3 74.8,390.1 75.3,387.2 76.0,382.8 76.7,379.9 77.5,377.0 78.2,375.5 78.9,378.4 79.7,372.6 80.4,371.1 81.1,374.0 81.9,378.4 82.6,375.5 83.3,366.7 84.0,362.3 85.5,360.9 87.0,361.6 88.4,363.0 89.2,362.3 89.9,359.4 91.4,357.9 92.8,359.4 93.6,362.3 94.3,365.2 95.8,368.2 97.2,371.1 98.0,374.0 98.7,372.6 100.1,371.1 101.6,372.6 103.1,377.0 103.8,381.3 104.5,386.5 105.0,387.2 105.4,382.8 106.0,377.0 106.7,371.1 107.5,368.2 108.9,366.7 110.4,365.2 111.9,366.7 113.3,368.2 114.8,369.6 116.2,371.1 117.7,372.6 119.2,373.3 119.9,374.0 120.6,371.1 121.4,365.2 122.1,360.9 122.8,359.4 124.5,372.6 125.2,381.3 125.6,375.5 126.2,369.6 127.4,367.4 128.9,368.2 129.6,366.7 130.3,368.9 131.0,366.0 131.8,363.0 133.2,361.6 134.7,360.1 136.2,359.4 137.6,358.7 140.6,358.2 143.5,357.6 146.4,357.2 148.6,357.6 149.3,358.7 150.1,362.3 150.8,368.2 151.5,374.0 152.3,378.4 153.0,379.9 153.7,379.1 154.2,371.1 154.9,369.6 155.5,372.6 156.1,377.0 156.7,381.3 157.4,383.5 158.1,379.9 158.9,388.7 159.6,398.9 160.3,390.1 161.0,378.4 161.8,369.6 162.5,365.2 163.2,363.8 164.0,371.1 164.7,385.7 165.4,397.4 166.2,409.1 166.9,415.0 167.6,409.1 168.4,398.9 169.1,384.3 169.8,372.6 170.6,363.8 171.3,358.7 172.0,356.8 172.8,356.2 175.0,356.2 175.7,359.4 177.1,363.0 178.6,366.0 180.1,368.9 181.5,372.6 182.3,374.0 183.0,373.3 183.7,374.8 184.5,376.2 185.2,378.4 185.9,382.8 186.7,387.2 187.4,385.7 188.1,379.9 188.9,375.5 189.6,372.6 190.3,371.1 191.0,369.6 191.8,368.9 192.5,363.8 193.2,359.4 194.0,356.2 201.0,355.9 201.0,355.9" fill="#d6d6d6" stroke="none"/>
<line x1="154.57" y1="296.5" x2="154.57" y2="415.3" stroke="#8a8a8a" stroke-width="1.1"/>
<line x1="46.6" y1="355.90" x2="201.2" y2="355.90" stroke="#606060" stroke-width="0.8"/>
<polyline points="46.0,355.7 48.9,353.1 51.9,350.9 54.0,347.2 55.5,341.4 56.2,337.0 57.0,339.9 57.7,342.8 58.4,342.1 59.2,341.4 59.9,342.8 60.6,341.4 61.4,342.8 62.1,345.8 62.8,347.2 63.6,342.8 64.3,339.9 65.0,334.0 65.8,331.1 66.5,328.2 67.2,324.5 67.7,326.7 68.2,328.2 68.7,334.0 69.4,339.9 70.1,342.8 70.9,338.4 71.6,344.3 72.3,325.3 73.1,312.1 73.5,310.6 74.1,325.3 74.5,328.2 75.3,328.9 76.7,329.7 78.2,331.1 79.7,331.9 81.1,332.6 82.6,335.5 84.0,339.9 84.8,344.3 85.2,346.5 85.8,341.4 86.4,334.0 87.0,326.7 87.7,320.9 88.4,322.3 89.2,323.8 89.9,325.3 90.6,326.7 91.4,326.0 92.1,328.2 92.8,329.7 93.6,331.1 94.3,330.4 95.8,329.7 96.5,328.2 97.2,327.5 98.0,330.4 98.7,332.6 99.4,334.0 100.1,335.5 100.9,341.4 101.6,344.3 103.1,345.0 104.5,345.0 106.0,344.3 107.5,342.8 108.9,342.1 110.4,342.8 111.9,342.8 112.6,339.9 113.3,334.0 113.8,333.3 114.2,337.0 114.8,345.8 116.2,348.7 117.7,347.2 119.2,345.8 119.9,339.9 120.6,338.4 121.4,342.8 122.1,347.2 124.5,351.6 125.9,353.8 127.4,353.1 128.1,345.8 128.9,331.1 129.6,320.1 130.3,326.7 131.0,334.0 131.8,338.4 132.5,341.4 133.2,342.8 134.7,344.3 136.2,345.8 136.9,343.6 137.6,345.8 138.4,347.2 139.1,342.8 139.8,337.0 140.6,334.8 141.3,335.5 142.0,342.8 142.8,344.3 143.5,345.0 145.0,345.0 146.4,345.8 147.9,346.5 148.6,347.2 149.3,351.6 150.8,353.1 152.3,354.5 154.5,355.3 158.9,355.7 159.6,331.1 160.3,334.0 161.0,338.4 161.8,339.9 162.5,344.3 164.0,345.8 165.4,342.8 166.2,335.5 166.9,331.1 167.6,327.5 168.4,329.7 169.1,331.1 169.8,342.8 171.3,341.4 172.8,335.5 173.5,329.7 174.2,326.7 175.0,324.5 175.7,328.2 176.4,342.8 177.1,347.2 177.9,346.5 178.6,345.8 179.3,346.5 180.1,344.3 181.5,342.8 183.0,342.1 183.7,342.8 184.5,355.7 201.0,355.7" fill="none" stroke="#000" stroke-width="1" stroke-linejoin="round"/>
<polyline points="46.0,355.9 48.9,356.8 51.9,358.7 54.0,360.9 55.5,365.2 56.2,369.6 56.7,377.0 57.3,369.6 58.0,362.3 59.2,360.9 59.9,362.3 60.6,365.2 61.4,366.7 62.1,365.2 62.8,368.2 63.6,370.4 64.3,371.1 65.0,368.2 65.8,365.2 66.5,363.8 68.0,362.3 68.7,363.8 69.4,366.7 70.1,372.6 70.9,376.2 71.6,372.6 72.3,379.9 72.8,387.2 73.2,393.8 73.8,387.2 74.2,384.3 74.8,390.1 75.3,387.2 76.0,382.8 76.7,379.9 77.5,377.0 78.2,375.5 78.9,378.4 79.7,372.6 80.4,371.1 81.1,374.0 81.9,378.4 82.6,375.5 83.3,366.7 84.0,362.3 85.5,360.9 87.0,361.6 88.4,363.0 89.2,362.3 89.9,359.4 91.4,357.9 92.8,359.4 93.6,362.3 94.3,365.2 95.8,368.2 97.2,371.1 98.0,374.0 98.7,372.6 100.1,371.1 101.6,372.6 103.1,377.0 103.8,381.3 104.5,386.5 105.0,387.2 105.4,382.8 106.0,377.0 106.7,371.1 107.5,368.2 108.9,366.7 110.4,365.2 111.9,366.7 113.3,368.2 114.8,369.6 116.2,371.1 117.7,372.6 119.2,373.3 119.9,374.0 120.6,371.1 121.4,365.2 122.1,360.9 122.8,359.4 124.5,372.6 125.2,381.3 125.6,375.5 126.2,369.6 127.4,367.4 128.9,368.2 129.6,366.7 130.3,368.9 131.0,366.0 131.8,363.0 133.2,361.6 134.7,360.1 136.2,359.4 137.6,358.7 140.6,358.2 143.5,357.6 146.4,357.2 148.6,357.6 149.3,358.7 150.1,362.3 150.8,368.2 151.5,374.0 152.3,378.4 153.0,379.9 153.7,379.1 154.2,371.1 154.9,369.6 155.5,372.6 156.1,377.0 156.7,381.3 157.4,383.5 158.1,379.9 158.9,388.7 159.6,398.9 160.3,390.1 161.0,378.4 161.8,369.6 162.5,365.2 163.2,363.8 164.0,371.1 164.7,385.7 165.4,397.4 166.2,409.1 166.9,415.0 167.6,409.1 168.4,398.9 169.1,384.3 169.8,372.6 170.6,363.8 171.3,358.7 172.0,356.8 172.8,356.2 175.0,356.2 175.7,359.4 177.1,363.0 178.6,366.0 180.1,368.9 181.5,372.6 182.3,374.0 183.0,373.3 183.7,374.8 184.5,376.2 185.2,378.4 185.9,382.8 186.7,387.2 187.4,385.7 188.1,379.9 188.9,375.5 189.6,372.6 190.3,371.1 191.0,369.6 191.8,368.9 192.5,363.8 193.2,359.4 194.0,356.2 201.0,355.9" fill="none" stroke="#000" stroke-width="1" stroke-linejoin="round"/>
<polyline points="46.0,355.7 50.4,354.5 54.8,352.3 57.7,351.6 60.6,352.3 62.1,350.9 63.6,351.6 65.0,352.3 66.5,350.1 68.0,348.0 68.7,348.7 69.4,346.5 70.1,350.9 70.9,348.7 71.6,351.6 72.3,352.3 73.8,350.1 75.3,349.4 78.2,349.9 81.1,350.4 84.0,351.3 87.0,352.3 89.9,351.6 92.8,351.3 95.8,350.9 97.2,350.4 98.7,350.9 101.6,350.4 104.5,350.9 107.5,350.9 110.4,350.1 112.6,345.8 113.3,342.8 114.0,347.2 114.8,350.9 116.2,352.3 119.2,350.9 119.9,348.7 120.6,347.2 121.4,350.1 122.1,352.3 124.5,353.1 125.9,354.2 128.1,350.1 128.9,347.2 129.6,348.0 131.0,351.6 134.7,352.3 137.6,352.3 139.1,348.7 139.8,346.5 140.6,347.2 141.3,348.7 142.0,350.1 145.0,350.4 147.9,351.3 149.3,353.1 152.3,354.5 158.9,355.3 161.0,353.8 164.0,353.4 166.9,351.6 168.4,352.3 169.8,353.1 171.3,351.6 172.8,350.1 174.2,348.7 175.0,349.4 175.7,352.3 177.1,353.1 178.6,352.3 181.5,351.6 183.0,351.3 184.5,355.7 201.0,355.7" fill="none" stroke="#0000ff" stroke-width="1" stroke-linejoin="round"/>
<polyline points="46.0,355.9 50.4,356.8 53.3,357.6 54.8,358.7 56.2,360.9 57.7,360.1 59.2,358.7 62.1,359.1 65.0,359.4 68.0,360.1 69.4,360.9 70.9,361.6 72.3,362.3 73.8,363.8 75.3,364.5 76.7,363.8 78.2,363.0 79.7,362.3 81.1,361.6 82.6,360.9 84.0,359.4 85.5,358.7 87.0,357.9 89.9,357.2 92.8,358.7 95.8,360.1 98.7,360.9 101.6,361.6 103.1,363.8 104.5,366.7 105.3,368.2 106.0,366.0 107.5,363.8 108.9,362.3 110.4,361.6 111.9,360.9 113.3,361.6 114.8,362.3 116.2,361.6 117.7,362.3 119.2,362.3 120.6,361.6 122.1,359.4 124.5,358.7 125.9,359.4 127.4,360.1 128.9,359.4 130.3,360.1 131.8,359.1 134.7,357.9 137.6,357.2 145.0,356.8 152.3,356.5 155.2,357.2 158.1,357.9 161.0,357.6 164.0,357.2 166.9,357.9 168.4,358.7 169.8,357.9 171.3,356.5 172.8,356.2 175.7,357.2 178.6,357.9 181.5,359.4 183.0,360.1 184.5,360.9 185.9,361.6 186.7,363.0 187.4,362.3 188.9,360.9 190.3,360.1 191.8,359.4 193.2,357.2 194.0,356.2 201.0,355.9" fill="none" stroke="#0000ff" stroke-width="1" stroke-linejoin="round"/>
<polyline points="46.0,355.7 50.4,354.5 53.3,352.3 54.8,348.7 56.2,347.2 57.7,348.7 59.2,350.1 60.6,349.4 62.1,348.7 63.6,347.2 65.0,342.8 66.5,335.5 67.2,332.6 68.0,337.0 68.7,339.9 69.4,344.3 70.1,341.4 70.9,345.8 71.6,347.2 72.3,332.6 73.1,320.9 73.5,319.4 74.1,329.7 74.5,334.0 75.3,335.5 76.7,336.2 78.2,337.0 79.7,337.7 81.1,338.4 82.6,339.9 84.0,342.8 84.8,345.8 85.5,347.2 86.2,342.8 87.0,334.0 87.7,326.7 88.4,325.3 89.2,326.7 89.9,328.2 90.6,329.7 91.4,331.1 92.8,331.9 94.3,332.6 95.8,333.3 97.2,334.0 98.7,335.5 100.1,339.9 101.6,345.8 103.1,348.7 104.5,349.4 107.5,350.1 110.4,350.1 113.3,351.6 116.2,350.9 119.2,351.6 122.1,352.3 125.9,354.5 127.4,353.8 128.1,345.8 128.9,342.8 129.6,339.9 130.3,345.8 131.0,350.1 131.8,351.6 134.7,352.3 137.6,353.1 139.1,350.9 139.8,348.7 140.6,350.1 141.3,350.9 142.0,352.3 145.0,353.1 152.3,354.8 158.9,355.3 159.6,354.2 164.0,354.5 166.9,354.2 171.3,353.8 174.2,353.5 178.6,353.8 181.5,353.1 184.5,355.7 201.0,355.7" fill="none" stroke="#008000" stroke-width="1" stroke-linejoin="round"/>
<polyline points="46.0,355.9 60.6,356.8 72.3,357.9 75.3,358.2 82.6,357.9 89.9,357.2 97.2,358.7 101.6,360.1 103.1,361.6 104.5,363.8 105.3,364.5 106.0,362.3 107.5,360.9 110.4,359.4 116.2,360.1 119.2,360.9 122.1,358.7 125.9,357.6 130.3,358.2 137.6,357.6 145.0,356.8 148.6,357.2 149.3,358.7 150.1,362.3 150.8,368.2 151.5,373.3 152.3,377.0 153.0,379.1 153.7,378.4 154.2,369.6 154.9,368.2 155.5,371.8 156.1,375.5 156.7,379.9 157.4,382.1 158.1,378.4 158.9,387.2 159.6,397.4 160.3,388.7 161.0,377.0 161.8,368.2 162.5,364.5 163.2,363.0 164.0,369.6 164.7,384.3 165.4,396.0 166.2,407.7 166.9,415.0 167.6,407.7 168.4,397.4 169.1,382.8 169.8,371.1 170.6,362.3 171.3,357.9 172.8,356.2 175.0,356.2 175.7,359.4 177.1,362.3 178.6,365.2 180.1,367.4 181.5,369.6 183.0,370.4 184.5,371.8 185.2,374.0 185.9,377.0 186.7,379.1 187.4,377.7 188.1,375.5 188.9,372.6 190.3,369.6 191.0,368.2 191.8,367.4 192.5,363.0 193.2,358.7 194.0,356.2 201.0,355.9" fill="none" stroke="#008000" stroke-width="1" stroke-linejoin="round"/>
<polyline points="46.0,355.7 60.6,354.8 75.3,354.2 89.9,354.0 104.5,353.7 119.2,353.4 122.1,352.3 125.9,354.5 127.4,353.8 128.1,350.1 128.9,345.8 129.6,344.3 130.3,348.7 131.0,350.1 131.8,351.6 134.7,352.3 137.6,353.1 139.1,351.6 139.8,348.7 140.6,347.2 141.3,350.1 142.0,353.1 145.0,353.8 152.3,354.8 158.9,355.3 159.6,334.0 160.3,335.5 161.0,339.9 161.8,341.4 162.5,345.8 164.0,347.2 165.4,342.8 166.2,338.4 166.9,334.0 167.6,333.3 168.4,334.0 169.1,337.0 169.8,344.3 171.3,344.3 172.8,341.4 173.5,337.0 174.2,332.6 175.0,331.1 175.7,335.5 176.4,347.2 177.1,350.1 178.6,348.7 180.1,349.4 181.5,347.2 183.0,347.2 183.7,348.0 184.5,355.7 201.0,355.7" fill="none" stroke="#ff0000" stroke-width="1" stroke-linejoin="round"/>
<polyline points="46.0,355.9 50.4,356.8 53.3,357.9 54.8,359.4 56.2,362.3 57.0,364.5 57.7,359.4 59.2,357.2 60.6,357.9 62.1,358.7 63.6,359.4 65.0,359.4 66.5,359.1 68.0,359.4 69.4,360.9 70.1,363.8 70.9,366.7 71.6,369.6 72.3,375.5 72.8,379.9 73.2,381.3 73.8,377.0 74.5,372.6 75.3,369.6 76.0,368.2 76.7,367.4 77.5,366.7 78.2,365.2 78.9,367.4 79.7,363.8 80.4,365.2 81.1,366.7 81.9,368.2 82.6,363.8 84.0,360.1 85.5,358.7 88.4,357.6 89.9,357.2 92.8,358.7 94.3,359.4 95.8,360.1 97.2,361.6 98.7,363.0 100.1,362.3 101.6,361.6 103.1,363.0 104.5,363.8 106.0,362.3 107.5,360.9 108.9,359.4 110.4,360.1 111.9,360.9 113.3,361.6 114.8,360.9 116.2,360.1 117.7,360.9 119.2,361.6 120.6,360.1 122.1,358.7 124.5,361.6 125.2,363.0 125.9,360.9 126.7,359.4 127.4,358.7 128.9,357.9 131.8,357.2 137.6,356.8 152.3,356.2 201.0,355.9" fill="none" stroke="#ff0000" stroke-width="1" stroke-linejoin="round"/>
</g>
<clipPath id="c21"><rect x="211.5" y="296.5" width="153.9" height="118.8"/></clipPath>
<g clip-path="url(#c21)">
<polygon points="211.0,355.9 211.0,355.7 213.9,353.8 216.1,350.1 217.6,345.8 219.0,341.4 219.8,339.9 220.5,341.4 221.2,339.9 222.0,339.2 222.7,339.9 223.4,338.4 224.2,339.9 224.9,342.8 225.6,339.9 226.4,328.2 227.1,315.0 227.5,307.7 228.1,319.4 228.6,329.7 229.3,335.5 230.0,332.6 230.8,328.2 231.5,323.8 232.2,319.4 233.0,325.3 233.7,332.6 234.4,331.1 235.1,328.2 235.9,325.3 236.6,323.8 237.3,322.3 238.1,325.3 238.8,329.7 239.5,332.6 240.3,335.5 241.0,338.4 241.7,337.0 242.5,334.0 243.2,331.1 244.7,328.2 246.1,326.7 247.6,326.0 248.3,325.3 249.0,326.0 249.8,326.7 250.5,328.2 252.0,329.7 253.4,330.4 254.9,331.1 255.6,332.6 256.4,335.5 257.8,339.9 259.3,342.8 260.8,344.3 262.2,345.0 263.7,346.5 265.1,347.2 266.6,348.0 268.1,348.7 269.5,348.7 271.0,348.0 272.5,348.7 273.9,348.7 275.4,347.2 276.1,344.3 276.9,342.1 277.6,339.9 278.3,340.6 279.0,344.3 279.8,347.2 281.2,348.7 282.7,345.8 283.4,342.8 284.2,342.1 284.9,344.3 285.6,347.2 287.1,349.4 288.7,344.3 289.5,337.0 290.2,331.1 290.9,328.9 291.7,332.6 292.4,336.2 293.9,340.6 295.3,344.3 296.8,347.2 298.2,348.7 299.7,348.7 301.2,345.8 301.9,341.4 302.3,337.7 302.9,339.9 303.8,342.8 304.8,344.3 305.6,345.8 306.3,345.8 307.0,345.0 307.8,345.8 308.5,345.8 309.2,346.5 310.0,348.0 310.7,350.1 311.4,352.3 312.9,353.8 314.3,354.5 317.3,355.3 323.9,355.7 324.6,339.9 325.3,328.9 326.0,331.1 326.8,335.5 327.5,339.9 329.0,341.4 330.4,337.0 331.2,331.1 331.9,325.3 332.6,322.3 333.4,328.2 334.1,334.0 334.8,338.4 335.6,337.0 336.3,329.7 337.0,326.0 337.8,324.5 338.5,325.3 339.2,332.6 340.0,344.3 340.7,347.2 341.4,348.7 342.1,345.8 342.9,344.3 343.6,342.8 344.3,341.4 345.1,339.9 345.8,341.4 346.5,342.8 347.0,355.7 366.0,355.7 366.0,355.9" fill="#d6d6d6" stroke="none"/>
<polygon points="211.0,355.9 211.0,355.9 213.9,356.8 215.4,358.7 216.9,362.3 217.6,363.0 218.3,360.9 219.0,369.6 219.5,398.9 219.8,416.0 220.2,398.9 220.7,366.7 221.2,357.9 222.0,357.2 222.7,358.7 223.4,363.8 224.2,371.1 224.9,373.3 225.6,374.0 226.4,371.1 227.1,368.9 227.8,369.6 228.6,366.7 229.3,363.8 230.0,362.3 230.8,368.2 231.5,384.3 231.9,406.2 232.4,396.0 233.0,388.7 233.7,390.1 234.4,393.8 235.1,390.1 235.9,384.3 236.6,379.9 237.3,375.5 238.1,372.6 238.8,371.1 239.5,369.6 240.3,368.2 241.7,366.7 243.2,365.2 244.7,363.8 246.1,362.3 247.6,361.6 249.0,360.9 249.8,362.3 250.5,363.8 251.2,366.7 252.0,365.2 252.7,363.8 253.4,365.2 254.2,366.7 254.9,365.2 255.6,366.0 256.4,366.7 257.1,365.2 257.8,366.0 259.3,366.7 260.8,367.4 262.2,366.7 263.7,367.4 265.1,368.2 266.6,368.9 268.1,371.1 268.8,375.5 269.5,381.3 270.3,383.5 271.0,379.9 271.7,377.0 272.5,375.5 273.9,374.0 275.4,372.6 276.9,369.6 278.3,366.7 279.8,365.2 281.2,366.0 282.7,367.4 284.2,369.6 285.6,371.1 286.4,375.5 287.1,377.0 287.8,372.6 288.7,368.9 289.5,368.2 290.9,365.2 292.4,363.0 293.9,361.6 295.3,360.1 296.8,359.1 299.7,357.9 302.6,357.2 305.6,356.8 308.5,356.5 311.4,356.5 313.6,357.2 314.3,358.7 315.1,361.6 315.8,365.2 316.5,369.6 317.3,375.5 318.0,381.3 318.4,385.7 319.0,381.3 319.5,378.4 320.2,375.5 320.9,372.6 321.7,371.1 322.4,372.6 323.1,369.6 323.9,368.2 324.6,369.6 325.3,371.1 326.0,368.2 326.8,365.2 327.5,364.5 328.2,363.8 329.0,365.2 329.7,366.7 330.4,369.6 331.2,374.0 331.9,379.9 332.6,385.7 333.4,393.0 334.1,398.9 334.8,404.8 335.3,409.9 335.7,404.8 336.3,396.0 337.0,384.3 337.8,369.6 338.5,359.4 339.2,357.2 340.0,360.9 340.7,363.8 341.4,365.2 342.1,366.0 342.9,366.7 343.6,369.6 344.3,372.6 345.1,375.5 345.8,376.2 346.5,372.6 347.3,368.9 348.0,371.1 348.7,375.5 349.5,379.9 350.2,384.3 350.9,385.7 351.7,384.3 352.4,381.3 353.1,378.4 353.9,374.0 354.6,369.6 355.3,368.2 356.0,368.9 356.8,365.2 357.5,360.9 358.2,357.2 359.0,355.9 366.0,355.9 366.0,355.9" fill="#d6d6d6" stroke="none"/>
<line x1="319.20" y1="296.5" x2="319.20" y2="415.3" stroke="#8a8a8a" stroke-width="1.1"/>
<line x1="211.5" y1="355.90" x2="365.4" y2="355.90" stroke="#606060" stroke-width="0.8"/>
<polyline points="211.0,355.7 213.9,353.8 216.1,350.1 217.6,345.8 219.0,341.4 219.8,339.9 220.5,341.4 221.2,339.9 222.0,339.2 222.7,339.9 223.4,338.4 224.2,339.9 224.9,342.8 225.6,339.9 226.4,328.2 227.1,315.0 227.5,307.7 228.1,319.4 228.6,329.7 229.3,335.5 230.0,332.6 230.8,328.2 231.5,323.8 232.2,319.4 233.0,325.3 233.7,332.6 234.4,331.1 235.1,328.2 235.9,325.3 236.6,323.8 237.3,322.3 238.1,325.3 238.8,329.7 239.5,332.6 240.3,335.5 241.0,338.4 241.7,337.0 242.5,334.0 243.2,331.1 244.7,328.2 246.1,326.7 247.6,326.0 248.3,325.3 249.0,326.0 249.8,326.7 250.5,328.2 252.0,329.7 253.4,330.4 254.9,331.1 255.6,332.6 256.4,335.5 257.8,339.9 259.3,342.8 260.8,344.3 262.2,345.0 263.7,346.5 265.1,347.2 266.6,348.0 268.1,348.7 269.5,348.7 271.0,348.0 272.5,348.7 273.9,348.7 275.4,347.2 276.1,344.3 276.9,342.1 277.6,339.9 278.3,340.6 279.0,344.3 279.8,347.2 281.2,348.7 282.7,345.8 283.4,342.8 284.2,342.1 284.9,344.3 285.6,347.2 287.1,349.4 288.7,344.3 289.5,337.0 290.2,331.1 290.9,328.9 291.7,332.6 292.4,336.2 293.9,340.6 295.3,344.3 296.8,347.2 298.2,348.7 299.7,348.7 301.2,345.8 301.9,341.4 302.3,337.7 302.9,339.9 303.8,342.8 304.8,344.3 305.6,345.8 306.3,345.8 307.0,345.0 307.8,345.8 308.5,345.8 309.2,346.5 310.0,348.0 310.7,350.1 311.4,352.3 312.9,353.8 314.3,354.5 317.3,355.3 323.9,355.7 324.6,339.9 325.3,328.9 326.0,331.1 326.8,335.5 327.5,339.9 329.0,341.4 330.4,337.0 331.2,331.1 331.9,325.3 332.6,322.3 333.4,328.2 334.1,334.0 334.8,338.4 335.6,337.0 336.3,329.7 337.0,326.0 337.8,324.5 338.5,325.3 339.2,332.6 340.0,344.3 340.7,347.2 341.4,348.7 342.1,345.8 342.9,344.3 343.6,342.8 344.3,341.4 345.1,339.9 345.8,341.4 346.5,342.8 347.0,355.7 366.0,355.7" fill="none" stroke="#000" stroke-width="1" stroke-linejoin="round"/>
<polyline points="211.0,355.9 213.9,356.8 215.4,358.7 216.9,362.3 217.6,363.0 218.3,360.9 219.0,369.6 219.5,398.9 219.8,416.0 220.2,398.9 220.7,366.7 221.2,357.9 222.0,357.2 222.7,358.7 223.4,363.8 224.2,371.1 224.9,373.3 225.6,374.0 226.4,371.1 227.1,368.9 227.8,369.6 228.6,366.7 229.3,363.8 230.0,362.3 230.8,368.2 231.5,384.3 231.9,406.2 232.4,396.0 233.0,388.7 233.7,390.1 234.4,393.8 235.1,390.1 235.9,384.3 236.6,379.9 237.3,375.5 238.1,372.6 238.8,371.1 239.5,369.6 240.3,368.2 241.7,366.7 243.2,365.2 244.7,363.8 246.1,362.3 247.6,361.6 249.0,360.9 249.8,362.3 250.5,363.8 251.2,366.7 252.0,365.2 252.7,363.8 253.4,365.2 254.2,366.7 254.9,365.2 255.6,366.0 256.4,366.7 257.1,365.2 257.8,366.0 259.3,366.7 260.8,367.4 262.2,366.7 263.7,367.4 265.1,368.2 266.6,368.9 268.1,371.1 268.8,375.5 269.5,381.3 270.3,383.5 271.0,379.9 271.7,377.0 272.5,375.5 273.9,374.0 275.4,372.6 276.9,369.6 278.3,366.7 279.8,365.2 281.2,366.0 282.7,367.4 284.2,369.6 285.6,371.1 286.4,375.5 287.1,377.0 287.8,372.6 288.7,368.9 289.5,368.2 290.9,365.2 292.4,363.0 293.9,361.6 295.3,360.1 296.8,359.1 299.7,357.9 302.6,357.2 305.6,356.8 308.5,356.5 311.4,356.5 313.6,357.2 314.3,358.7 315.1,361.6 315.8,365.2 316.5,369.6 317.3,375.5 318.0,381.3 318.4,385.7 319.0,381.3 319.5,378.4 320.2,375.5 320.9,372.6 321.7,371.1 322.4,372.6 323.1,369.6 323.9,368.2 324.6,369.6 325.3,371.1 326.0,368.2 326.8,365.2 327.5,364.5 328.2,363.8 329.0,365.2 329.7,366.7 330.4,369.6 331.2,374.0 331.9,379.9 332.6,385.7 333.4,393.0 334.1,398.9 334.8,404.8 335.3,409.9 335.7,404.8 336.3,396.0 337.0,384.3 337.8,369.6 338.5,359.4 339.2,357.2 340.0,360.9 340.7,363.8 341.4,365.2 342.1,366.0 342.9,366.7 343.6,369.6 344.3,372.6 345.1,375.5 345.8,376.2 346.5,372.6 347.3,368.9 348.0,371.1 348.7,375.5 349.5,379.9 350.2,384.3 350.9,385.7 351.7,384.3 352.4,381.3 353.1,378.4 353.9,374.0 354.6,369.6 355.3,368.2 356.0,368.9 356.8,365.2 357.5,360.9 358.2,357.2 359.0,355.9 366.0,355.9" fill="none" stroke="#000" stroke-width="1" stroke-linejoin="round"/>
<polyline points="211.0,355.7 215.4,354.2 218.3,353.1 219.8,351.6 221.2,350.9 222.7,350.1 224.2,349.4 225.6,348.0 226.4,347.2 227.1,345.8 227.8,346.5 228.6,348.7 229.3,351.6 230.0,350.9 230.8,349.4 231.5,350.1 232.2,351.6 233.0,350.9 234.4,352.3 235.9,351.6 237.3,352.3 240.3,352.3 243.2,351.6 246.1,350.9 249.0,350.1 252.0,350.4 254.9,350.4 257.8,350.9 260.8,351.3 263.7,351.6 266.6,352.3 269.5,352.8 272.5,352.3 275.4,350.9 276.9,348.0 277.6,345.8 278.3,347.2 279.0,350.1 279.8,350.9 281.2,352.3 282.7,350.1 284.2,348.7 284.9,349.4 285.6,350.9 287.1,352.3 289.5,350.1 290.2,348.0 290.9,348.7 292.4,350.9 295.3,352.3 299.7,351.6 301.2,349.4 301.9,345.8 302.6,346.5 303.4,348.7 304.1,349.4 305.6,350.1 307.0,349.4 308.5,350.1 310.0,350.9 312.9,353.1 317.3,354.5 323.9,355.3 326.0,354.2 329.0,353.8 331.9,352.3 333.4,351.6 334.8,350.9 336.3,350.1 337.8,349.4 338.5,350.1 339.2,351.6 340.7,352.3 342.1,351.6 343.6,350.9 345.1,351.6 346.5,351.6 347.0,355.7 366.0,355.7" fill="none" stroke="#0000ff" stroke-width="1" stroke-linejoin="round"/>
<polyline points="211.0,355.9 216.9,357.9 219.0,359.4 219.8,360.1 221.2,359.4 222.7,359.4 224.2,361.6 225.6,361.6 227.1,360.9 228.6,360.1 230.0,358.7 231.5,362.3 233.0,363.8 234.4,364.5 235.9,363.8 237.3,362.3 238.8,361.6 240.3,360.9 243.2,360.1 246.1,359.4 249.0,358.7 252.0,359.4 254.9,360.1 257.8,360.9 260.8,360.9 263.7,361.6 266.6,362.3 268.1,363.8 269.5,366.7 270.3,368.9 271.0,367.4 272.5,366.0 273.9,364.5 275.4,363.0 276.9,362.3 278.3,361.6 279.8,362.3 281.2,362.3 282.7,363.0 284.2,363.8 285.6,364.5 287.1,365.2 289.5,360.1 290.9,359.4 292.4,358.7 295.3,357.9 299.7,357.6 305.6,357.2 311.4,356.8 317.3,356.5 320.2,357.2 323.1,357.2 326.0,357.2 329.0,357.2 331.9,357.6 334.8,358.2 336.3,358.7 337.8,357.2 339.2,356.5 340.7,357.2 343.6,357.6 346.5,358.7 348.0,359.4 349.5,360.9 350.9,362.3 352.4,361.6 353.9,360.1 355.3,359.4 356.8,357.9 358.2,356.5 359.0,355.9 366.0,355.9" fill="none" stroke="#0000ff" stroke-width="1" stroke-linejoin="round"/>
<polyline points="211.0,355.7 215.4,354.2 217.6,351.6 219.0,348.7 220.5,347.2 222.0,347.2 223.4,346.5 224.9,345.8 225.6,342.8 226.4,334.0 227.1,319.4 227.5,316.5 228.1,325.3 228.6,337.0 229.3,338.4 230.0,334.0 230.8,329.7 231.5,325.3 232.2,322.3 233.0,329.7 233.7,337.0 234.4,335.5 235.1,332.6 235.9,329.7 236.6,328.2 237.3,326.7 238.1,329.7 238.8,334.0 239.5,337.0 240.3,339.9 241.0,342.8 241.7,342.8 242.5,339.9 243.2,337.0 244.7,334.0 246.1,332.6 247.6,331.9 249.0,332.6 250.5,334.0 252.0,335.5 253.4,337.0 254.9,338.4 256.4,341.4 257.8,344.3 260.8,347.2 263.7,349.4 266.6,350.9 269.5,351.6 272.5,352.3 275.4,350.9 276.9,349.4 278.3,350.1 279.8,351.6 281.2,352.3 284.2,351.6 289.5,351.6 290.2,347.2 290.9,345.8 291.7,349.4 292.4,351.6 295.3,353.1 299.7,353.8 301.2,352.3 301.9,350.9 302.6,351.6 305.6,352.3 308.5,353.1 311.4,353.8 317.3,355.3 324.6,354.5 329.0,354.5 331.9,354.2 334.8,354.0 337.8,353.5 340.7,353.8 343.6,353.5 346.5,353.8 347.0,355.7 366.0,355.7" fill="none" stroke="#008000" stroke-width="1" stroke-linejoin="round"/>
<polyline points="211.0,355.9 225.6,356.8 240.3,357.2 254.9,357.6 262.2,358.7 266.6,360.1 269.5,362.3 271.0,363.8 272.5,363.0 275.4,361.6 278.3,360.1 281.2,359.4 284.2,359.4 287.1,360.1 290.9,357.6 296.8,357.2 302.6,356.8 308.5,356.5 313.6,357.2 314.3,358.7 315.1,361.6 315.8,365.2 316.5,369.6 317.3,374.8 318.0,379.9 318.4,384.3 319.0,379.9 319.5,377.0 320.2,374.0 320.9,371.8 321.7,370.4 322.4,371.8 323.1,368.9 323.9,367.4 324.6,368.9 325.3,370.4 326.0,367.4 326.8,364.5 327.5,363.8 328.2,363.0 329.0,364.5 329.7,366.0 330.4,368.9 331.2,373.3 331.9,379.1 332.6,384.3 333.4,391.6 334.1,397.4 334.8,403.3 335.3,409.1 335.7,403.3 336.3,394.5 337.0,382.8 337.8,368.2 338.5,358.7 339.2,356.8 340.0,360.1 340.7,362.3 341.4,363.8 342.1,364.5 342.9,365.2 343.6,368.2 344.3,370.4 345.1,372.6 345.8,373.3 346.5,370.4 347.3,367.4 348.0,369.6 348.7,373.3 349.5,377.0 350.2,379.9 350.9,378.4 351.7,377.7 352.4,376.2 353.1,374.0 353.9,371.1 354.6,367.4 355.3,366.0 356.0,366.7 356.8,363.8 357.5,360.1 358.2,356.8 359.0,355.9 366.0,355.9" fill="none" stroke="#008000" stroke-width="1" stroke-linejoin="round"/>
<polyline points="211.0,355.7 225.6,354.8 240.3,354.2 254.9,353.8 269.5,354.2 284.2,354.0 289.5,353.1 290.2,350.1 290.9,348.7 291.7,351.6 292.4,353.1 295.3,353.8 299.7,354.2 301.2,353.1 301.9,350.9 302.6,351.6 304.1,352.3 307.0,353.1 310.0,353.8 312.9,354.5 317.3,355.3 323.9,355.7 324.6,339.9 325.3,331.1 326.0,334.0 326.8,337.0 327.5,339.9 329.0,342.1 330.4,338.4 331.2,334.0 331.9,329.7 332.6,328.2 333.4,332.6 334.1,337.0 334.8,339.9 335.6,339.9 336.3,337.0 337.0,334.0 337.8,332.6 338.5,334.0 339.2,339.9 340.0,345.8 340.7,348.7 341.4,350.1 342.1,348.7 342.9,348.0 343.6,347.2 345.1,345.8 346.5,346.5 347.0,355.7 366.0,355.7" fill="none" stroke="#ff0000" stroke-width="1" stroke-linejoin="round"/>
<polyline points="211.0,355.9 215.4,356.8 217.6,358.7 218.3,357.9 219.0,366.7 219.5,384.3 219.8,398.9 220.2,384.3 220.7,363.8 221.2,357.2 222.7,357.2 223.4,359.4 224.2,363.0 224.9,365.2 225.6,366.0 226.4,363.8 227.1,362.3 227.8,361.6 228.6,360.1 229.3,358.7 230.0,360.9 230.8,368.2 231.5,377.0 231.9,384.3 232.4,381.3 233.0,379.9 233.7,382.8 234.4,381.3 235.1,377.0 235.9,374.0 236.6,371.1 237.3,369.6 238.1,368.2 238.8,366.7 239.5,365.2 240.3,363.0 241.7,361.6 243.2,360.9 244.7,360.1 246.1,359.4 249.0,359.4 252.0,360.1 254.9,359.4 257.8,360.1 260.8,360.6 263.7,360.1 266.6,360.6 269.5,360.9 271.0,360.6 272.5,360.1 275.4,359.4 278.3,359.1 281.2,358.7 284.2,359.4 287.1,360.1 289.5,357.9 290.9,357.2 293.9,356.8 302.6,356.5 317.3,356.2 366.0,355.9" fill="none" stroke="#ff0000" stroke-width="1" stroke-linejoin="round"/>
</g>
<clipPath id="c22"><rect x="375.3" y="296.5" width="155.1" height="118.8"/></clipPath>
<g clip-path="url(#c22)">
<polygon points="375.0,355.9 375.0,355.7 376.5,353.1 377.9,348.7 379.4,344.3 380.9,341.4 382.3,339.2 383.8,338.4 385.2,337.0 386.0,332.6 386.7,328.9 387.4,331.1 388.2,318.0 388.6,315.0 389.2,318.0 389.6,320.9 390.4,323.8 391.1,326.7 391.8,329.7 392.6,331.9 393.3,333.3 394.0,334.0 394.8,335.5 395.5,334.0 396.2,332.6 397.0,330.4 397.7,329.7 398.4,331.1 399.1,330.4 399.9,332.6 400.6,334.0 401.3,335.5 402.1,334.8 402.8,332.6 403.5,331.1 404.3,328.9 405.0,326.7 405.7,325.3 406.5,324.5 407.2,324.5 407.9,325.3 408.7,326.0 409.4,327.5 410.1,328.9 410.9,329.7 411.6,330.4 412.3,331.1 413.0,331.9 413.8,331.1 414.5,331.1 415.2,332.6 416.0,334.0 417.4,337.0 418.9,339.9 420.4,341.4 421.8,342.8 423.3,344.3 424.8,345.8 426.2,346.5 427.7,347.2 429.1,347.2 430.6,347.2 432.1,348.0 433.5,348.7 435.0,349.0 436.5,348.7 437.9,348.0 439.4,346.5 440.9,345.0 441.6,342.8 442.3,341.4 443.0,340.6 443.8,342.8 444.5,345.8 445.2,347.2 446.7,345.8 448.2,342.8 448.9,344.3 449.6,347.2 451.1,348.7 453.5,339.9 454.2,334.0 454.9,331.9 455.7,333.3 456.4,337.0 457.9,342.1 459.3,345.8 460.8,348.0 462.2,349.4 463.7,350.1 465.2,345.8 465.9,339.9 466.3,337.0 466.9,339.9 467.8,342.1 468.8,342.8 469.6,344.3 470.3,345.0 471.0,345.8 472.5,346.5 474.0,348.0 475.4,350.1 476.9,353.1 478.3,354.5 481.3,355.3 488.6,355.7 489.3,332.6 489.8,317.2 490.3,322.3 490.9,335.5 491.5,341.4 492.2,342.8 493.0,343.6 494.4,339.9 495.2,335.5 495.9,328.2 496.6,322.3 497.4,328.2 498.1,334.0 498.8,335.5 499.6,331.1 500.3,326.7 501.0,323.8 501.8,325.3 502.5,329.7 503.2,334.0 504.0,342.8 504.7,345.8 505.4,346.5 506.1,344.3 506.9,342.8 507.6,341.4 508.3,339.9 509.1,339.9 509.8,340.6 510.5,341.4 511.0,355.7 530.0,355.7 530.0,355.9" fill="#d6d6d6" stroke="none"/>
<polygon points="375.0,355.9 375.0,355.9 377.9,356.8 379.4,358.7 380.6,363.8 381.1,368.2 381.7,362.3 382.3,359.4 382.8,369.6 383.0,381.3 383.3,386.5 383.8,377.0 384.2,362.3 384.7,357.2 385.2,356.5 386.0,357.9 386.7,363.8 387.4,375.5 387.9,382.1 388.5,377.0 389.0,372.6 389.6,369.6 390.4,371.1 391.1,368.9 391.8,366.7 392.6,365.2 393.3,377.0 393.7,388.7 394.3,389.4 394.8,390.1 395.5,390.9 396.2,390.1 397.0,391.6 397.7,393.0 398.4,388.7 399.1,381.3 399.9,374.0 400.6,371.1 401.3,368.2 402.8,366.7 404.3,365.2 405.7,363.8 407.2,363.0 408.7,362.3 410.1,361.6 411.6,360.9 413.0,361.6 414.5,362.3 416.0,363.0 417.4,363.8 418.2,366.7 418.9,368.9 419.6,366.7 420.4,364.5 421.8,363.8 423.3,363.8 424.8,364.5 426.2,366.0 427.7,366.7 429.1,368.2 430.6,369.6 432.1,371.1 433.5,375.5 435.0,379.9 435.7,381.3 436.5,379.9 437.9,375.5 439.4,371.1 440.9,368.2 442.3,366.7 443.8,366.0 445.2,366.7 446.7,365.2 448.2,368.2 449.6,374.0 450.4,378.4 451.1,379.9 451.8,377.0 453.5,367.4 454.9,365.2 456.4,363.0 457.9,360.9 459.3,359.4 460.8,358.7 463.7,357.9 466.6,357.6 469.6,357.2 472.5,356.8 475.4,357.2 476.9,358.7 477.6,360.9 478.3,363.8 479.1,368.2 479.8,371.1 480.5,374.8 481.3,371.1 482.0,369.6 482.7,370.4 483.5,371.1 484.2,369.6 484.9,372.6 485.7,377.0 486.4,374.0 487.1,369.6 487.9,366.7 488.6,368.2 489.3,367.4 490.0,368.9 490.8,366.7 491.5,365.2 492.2,364.5 493.0,365.2 493.7,366.7 494.4,369.6 495.2,372.6 495.9,374.8 496.6,375.5 497.4,377.0 498.1,378.4 498.8,381.3 499.6,383.5 500.3,384.3 501.0,383.5 501.8,381.3 502.5,377.0 503.2,372.6 504.0,368.2 504.7,366.0 505.4,365.2 506.1,366.7 506.9,369.6 507.6,375.5 508.3,379.9 509.1,378.4 509.8,374.0 510.5,369.6 511.3,366.7 512.0,367.4 512.7,369.6 513.5,374.0 514.2,377.0 514.9,378.4 515.7,377.0 516.4,375.5 517.9,372.6 519.3,369.6 520.8,366.7 522.2,365.2 523.7,363.0 525.2,361.6 526.6,360.1 528.1,357.9 530.0,356.5 530.0,355.9" fill="#d6d6d6" stroke="none"/>
<line x1="483.57" y1="296.5" x2="483.57" y2="415.3" stroke="#8a8a8a" stroke-width="1.1"/>
<line x1="375.3" y1="355.90" x2="530.4" y2="355.90" stroke="#606060" stroke-width="0.8"/>
<polyline points="375.0,355.7 376.5,353.1 377.9,348.7 379.4,344.3 380.9,341.4 382.3,339.2 383.8,338.4 385.2,337.0 386.0,332.6 386.7,328.9 387.4,331.1 388.2,318.0 388.6,315.0 389.2,318.0 389.6,320.9 390.4,323.8 391.1,326.7 391.8,329.7 392.6,331.9 393.3,333.3 394.0,334.0 394.8,335.5 395.5,334.0 396.2,332.6 397.0,330.4 397.7,329.7 398.4,331.1 399.1,330.4 399.9,332.6 400.6,334.0 401.3,335.5 402.1,334.8 402.8,332.6 403.5,331.1 404.3,328.9 405.0,326.7 405.7,325.3 406.5,324.5 407.2,324.5 407.9,325.3 408.7,326.0 409.4,327.5 410.1,328.9 410.9,329.7 411.6,330.4 412.3,331.1 413.0,331.9 413.8,331.1 414.5,331.1 415.2,332.6 416.0,334.0 417.4,337.0 418.9,339.9 420.4,341.4 421.8,342.8 423.3,344.3 424.8,345.8 426.2,346.5 427.7,347.2 429.1,347.2 430.6,347.2 432.1,348.0 433.5,348.7 435.0,349.0 436.5,348.7 437.9,348.0 439.4,346.5 440.9,345.0 441.6,342.8 442.3,341.4 443.0,340.6 443.8,342.8 444.5,345.8 445.2,347.2 446.7,345.8 448.2,342.8 448.9,344.3 449.6,347.2 451.1,348.7 453.5,339.9 454.2,334.0 454.9,331.9 455.7,333.3 456.4,337.0 457.9,342.1 459.3,345.8 460.8,348.0 462.2,349.4 463.7,350.1 465.2,345.8 465.9,339.9 466.3,337.0 466.9,339.9 467.8,342.1 468.8,342.8 469.6,344.3 470.3,345.0 471.0,345.8 472.5,346.5 474.0,348.0 475.4,350.1 476.9,353.1 478.3,354.5 481.3,355.3 488.6,355.7 489.3,332.6 489.8,317.2 490.3,322.3 490.9,335.5 491.5,341.4 492.2,342.8 493.0,343.6 494.4,339.9 495.2,335.5 495.9,328.2 496.6,322.3 497.4,328.2 498.1,334.0 498.8,335.5 499.6,331.1 500.3,326.7 501.0,323.8 501.8,325.3 502.5,329.7 503.2,334.0 504.0,342.8 504.7,345.8 505.4,346.5 506.1,344.3 506.9,342.8 507.6,341.4 508.3,339.9 509.1,339.9 509.8,340.6 510.5,341.4 511.0,355.7 530.0,355.7" fill="none" stroke="#000" stroke-width="1" stroke-linejoin="round"/>
<polyline points="375.0,355.9 377.9,356.8 379.4,358.7 380.6,363.8 381.1,368.2 381.7,362.3 382.3,359.4 382.8,369.6 383.0,381.3 383.3,386.5 383.8,377.0 384.2,362.3 384.7,357.2 385.2,356.5 386.0,357.9 386.7,363.8 387.4,375.5 387.9,382.1 388.5,377.0 389.0,372.6 389.6,369.6 390.4,371.1 391.1,368.9 391.8,366.7 392.6,365.2 393.3,377.0 393.7,388.7 394.3,389.4 394.8,390.1 395.5,390.9 396.2,390.1 397.0,391.6 397.7,393.0 398.4,388.7 399.1,381.3 399.9,374.0 400.6,371.1 401.3,368.2 402.8,366.7 404.3,365.2 405.7,363.8 407.2,363.0 408.7,362.3 410.1,361.6 411.6,360.9 413.0,361.6 414.5,362.3 416.0,363.0 417.4,363.8 418.2,366.7 418.9,368.9 419.6,366.7 420.4,364.5 421.8,363.8 423.3,363.8 424.8,364.5 426.2,366.0 427.7,366.7 429.1,368.2 430.6,369.6 432.1,371.1 433.5,375.5 435.0,379.9 435.7,381.3 436.5,379.9 437.9,375.5 439.4,371.1 440.9,368.2 442.3,366.7 443.8,366.0 445.2,366.7 446.7,365.2 448.2,368.2 449.6,374.0 450.4,378.4 451.1,379.9 451.8,377.0 453.5,367.4 454.9,365.2 456.4,363.0 457.9,360.9 459.3,359.4 460.8,358.7 463.7,357.9 466.6,357.6 469.6,357.2 472.5,356.8 475.4,357.2 476.9,358.7 477.6,360.9 478.3,363.8 479.1,368.2 479.8,371.1 480.5,374.8 481.3,371.1 482.0,369.6 482.7,370.4 483.5,371.1 484.2,369.6 484.9,372.6 485.7,377.0 486.4,374.0 487.1,369.6 487.9,366.7 488.6,368.2 489.3,367.4 490.0,368.9 490.8,366.7 491.5,365.2 492.2,364.5 493.0,365.2 493.7,366.7 494.4,369.6 495.2,372.6 495.9,374.8 496.6,375.5 497.4,377.0 498.1,378.4 498.8,381.3 499.6,383.5 500.3,384.3 501.0,383.5 501.8,381.3 502.5,377.0 503.2,372.6 504.0,368.2 504.7,366.0 505.4,365.2 506.1,366.7 506.9,369.6 507.6,375.5 508.3,379.9 509.1,378.4 509.8,374.0 510.5,369.6 511.3,366.7 512.0,367.4 512.7,369.6 513.5,374.0 514.2,377.0 514.9,378.4 515.7,377.0 516.4,375.5 517.9,372.6 519.3,369.6 520.8,366.7 522.2,365.2 523.7,363.0 525.2,361.6 526.6,360.1 528.1,357.9 530.0,356.5" fill="none" stroke="#000" stroke-width="1" stroke-linejoin="round"/>
<polyline points="375.0,355.7 379.4,354.2 382.3,353.1 383.8,351.6 385.2,350.9 386.7,349.4 388.2,348.0 388.9,347.2 389.6,348.0 390.4,349.4 391.1,350.1 392.6,350.9 395.5,350.9 398.4,351.6 401.3,351.6 402.8,351.3 404.3,350.9 405.7,350.1 407.2,349.7 410.1,349.9 413.0,350.1 416.0,350.4 418.9,350.9 421.8,351.3 424.8,351.6 427.7,352.0 430.6,352.3 433.5,352.8 436.5,352.3 439.4,350.9 441.6,348.7 442.3,347.2 443.0,348.0 443.8,350.1 445.2,351.6 446.7,350.1 448.2,348.7 448.9,349.4 449.6,350.9 451.1,352.3 453.5,348.7 454.2,347.2 454.9,346.5 455.7,348.0 456.4,350.1 459.3,351.6 463.7,351.6 465.2,349.4 465.9,347.2 466.6,348.0 467.4,348.7 468.1,349.4 469.6,350.1 471.0,350.1 472.5,350.9 474.0,351.6 476.9,353.1 481.3,354.5 488.6,355.3 491.5,354.2 494.4,353.4 495.9,352.3 497.4,351.6 498.8,351.3 500.3,350.1 501.8,349.4 503.2,350.9 504.7,352.3 506.1,351.6 507.6,350.9 509.1,350.9 510.5,351.6 511.0,355.7 530.0,355.7" fill="none" stroke="#0000ff" stroke-width="1" stroke-linejoin="round"/>
<polyline points="375.0,355.9 379.4,357.2 380.9,358.7 382.3,358.7 383.8,359.4 385.2,360.1 386.7,361.6 388.2,363.0 389.6,362.3 391.1,359.4 392.6,358.7 394.0,360.9 395.5,362.3 397.0,363.0 398.4,363.8 399.9,362.3 401.3,360.9 404.3,360.1 407.2,359.4 410.1,359.1 413.0,359.1 416.0,359.4 418.9,360.9 421.8,360.9 424.8,361.6 427.7,362.3 430.6,363.0 433.5,365.2 435.0,366.7 435.7,367.4 436.5,366.7 437.9,365.2 439.4,363.8 440.9,363.0 442.3,362.3 443.8,361.6 445.2,362.3 446.7,363.0 448.2,363.8 449.6,365.2 451.1,367.4 453.5,362.3 454.9,360.9 456.4,359.4 459.3,358.2 463.7,357.6 469.6,357.2 475.4,356.8 481.3,356.8 487.1,357.2 493.0,357.2 498.8,357.2 501.8,357.2 504.7,356.8 507.6,357.9 509.1,358.7 510.5,359.1 512.0,358.7 513.5,359.4 514.9,360.1 516.4,359.4 517.9,358.7 519.3,357.9 522.2,357.2 525.2,356.8 528.1,356.5 530.0,356.2" fill="none" stroke="#0000ff" stroke-width="1" stroke-linejoin="round"/>
<polyline points="375.0,355.7 377.9,353.1 380.9,348.7 383.8,344.3 385.2,341.4 386.0,338.4 386.7,335.5 387.4,336.2 388.2,328.2 388.9,324.5 389.6,326.7 390.4,329.7 391.1,332.6 392.6,334.0 394.0,335.5 395.5,336.2 397.0,334.0 397.7,333.3 398.4,334.8 399.9,335.5 400.6,337.0 401.3,339.2 402.1,338.4 402.8,337.0 403.5,335.5 404.3,334.0 405.7,332.6 407.2,331.9 408.7,331.9 410.1,333.3 411.6,334.8 413.0,336.2 414.5,338.4 415.2,339.2 416.0,338.4 417.4,341.4 418.9,343.6 420.4,345.8 421.8,347.2 424.8,348.7 427.7,350.1 430.6,350.9 433.5,351.6 436.5,352.3 439.4,351.6 442.3,350.9 443.8,351.6 445.2,352.3 448.2,351.6 451.1,353.1 453.5,350.1 454.2,348.7 454.9,348.0 455.7,349.4 456.4,351.6 459.3,353.1 463.7,353.8 465.2,352.3 465.9,350.9 466.6,351.6 469.6,352.3 472.5,353.1 475.4,353.8 481.3,355.3 488.6,354.8 493.0,354.5 495.9,354.2 498.8,354.0 501.8,353.8 504.7,353.8 507.6,353.5 510.5,353.5 511.0,355.7 530.0,355.7" fill="none" stroke="#008000" stroke-width="1" stroke-linejoin="round"/>
<polyline points="375.0,355.9 389.6,357.2 404.3,357.9 418.9,358.2 426.2,359.4 430.6,360.9 433.5,362.3 435.0,363.8 436.5,363.0 439.4,361.6 442.3,360.1 445.2,359.4 448.2,360.1 451.1,361.6 454.9,358.7 459.3,358.2 466.6,357.6 472.5,356.8 476.1,357.2 476.9,358.7 477.6,360.9 478.3,363.8 479.1,367.4 479.8,370.4 480.5,373.3 481.3,370.4 482.0,368.9 482.7,369.6 483.5,370.4 484.2,368.9 484.9,371.8 485.7,375.5 486.4,373.3 487.1,368.9 487.9,366.0 488.6,367.4 489.3,366.7 490.0,368.2 490.8,366.0 491.5,364.5 492.2,363.8 493.0,364.5 493.7,366.0 494.4,368.9 495.2,371.8 495.9,374.0 496.6,374.8 497.4,375.5 498.1,377.0 498.8,379.9 499.6,382.1 500.3,382.8 501.0,382.1 501.8,379.9 502.5,375.5 503.2,371.1 504.0,367.4 504.7,365.2 505.4,364.5 506.1,366.0 506.9,368.9 507.6,374.0 508.3,378.4 509.1,377.0 509.8,372.6 510.5,368.2 511.3,366.0 512.0,366.7 512.7,368.9 513.5,371.8 514.2,374.0 514.9,374.8 515.7,374.0 516.4,373.3 517.9,371.1 519.3,368.9 520.8,366.0 522.2,364.5 523.7,362.3 525.2,360.9 526.6,359.4 528.1,357.9 530.0,356.5" fill="none" stroke="#008000" stroke-width="1" stroke-linejoin="round"/>
<polyline points="375.0,355.7 389.6,354.8 404.3,354.0 418.9,353.8 433.5,354.0 448.2,353.8 453.5,350.9 454.2,349.4 454.9,348.7 455.7,350.1 456.4,352.3 459.3,353.8 463.7,354.2 465.2,353.1 465.9,350.9 466.6,351.6 468.1,352.3 471.0,353.1 474.0,353.8 476.9,354.5 481.3,355.3 488.6,355.7 489.3,332.6 489.8,320.1 490.3,326.7 490.9,338.4 491.5,342.8 492.2,344.3 493.0,345.0 494.4,342.8 495.2,338.4 495.9,332.6 496.6,329.7 497.4,331.1 498.1,335.5 498.8,338.4 499.6,335.5 500.3,332.6 501.0,331.1 501.8,332.6 502.5,335.5 503.2,339.9 504.0,345.8 504.7,348.7 505.4,349.4 506.1,348.0 506.9,346.5 507.6,345.8 509.1,345.0 510.5,345.8 511.0,355.7 530.0,355.7" fill="none" stroke="#ff0000" stroke-width="1" stroke-linejoin="round"/>
<polyline points="375.0,355.9 379.4,356.8 380.6,359.4 381.1,362.3 381.7,359.4 382.3,357.9 382.8,365.2 383.0,372.6 383.3,375.5 383.8,369.6 384.2,359.4 384.7,356.5 386.0,357.2 386.7,360.9 387.4,366.7 387.9,371.1 388.5,368.9 389.0,366.7 389.6,365.2 390.4,366.0 391.1,364.5 391.8,363.0 392.6,362.3 393.3,371.1 393.7,378.4 394.3,379.9 394.8,381.3 395.5,382.1 396.2,381.3 397.0,382.1 397.7,382.8 398.4,379.9 399.1,375.5 399.9,369.6 400.6,365.2 401.3,363.0 402.8,361.6 404.3,360.6 407.2,359.4 410.1,358.7 413.0,358.7 416.0,358.7 418.9,359.4 420.4,358.7 421.8,358.2 424.8,358.7 427.7,359.1 430.6,359.4 433.5,360.1 436.5,360.9 439.4,360.1 442.3,359.4 445.2,359.4 448.2,360.1 451.1,361.6 453.5,358.7 454.9,357.9 457.9,357.2 466.6,356.5 481.3,356.2 530.0,355.9" fill="none" stroke="#ff0000" stroke-width="1" stroke-linejoin="round"/>
</g>
<rect x="46.6" y="19.5" width="154.6" height="118.7" fill="none" stroke="#a8a8a8" stroke-width="1.4"/>
<path d="M62.1 138.2v-2.2M62.1 19.5v2.2M77.5 138.2v-2.2M77.5 19.5v2.2M93.0 138.2v-2.2M93.0 19.5v2.2M108.4 138.2v-2.2M108.4 19.5v2.2M123.9 138.2v-2.2M123.9 19.5v2.2M139.4 138.2v-2.2M139.4 19.5v2.2M154.8 138.2v-2.2M154.8 19.5v2.2M170.3 138.2v-2.2M170.3 19.5v2.2M185.7 138.2v-2.2M185.7 19.5v2.2M46.6 123.4h2.2M201.2 123.4h-2.2M46.6 108.5h2.2M201.2 108.5h-2.2M46.6 93.7h2.2M201.2 93.7h-2.2M46.6 78.8h2.2M201.2 78.8h-2.2M46.6 64.0h2.2M201.2 64.0h-2.2M46.6 49.2h2.2M201.2 49.2h-2.2M46.6 34.3h2.2M201.2 34.3h-2.2" stroke="#a0a0a0" stroke-width="1.1" fill="none"/>
<rect x="211.5" y="19.5" width="153.9" height="118.7" fill="none" stroke="#a8a8a8" stroke-width="1.4"/>
<path d="M226.9 138.2v-2.2M226.9 19.5v2.2M242.3 138.2v-2.2M242.3 19.5v2.2M257.7 138.2v-2.2M257.7 19.5v2.2M273.1 138.2v-2.2M273.1 19.5v2.2M288.4 138.2v-2.2M288.4 19.5v2.2M303.8 138.2v-2.2M303.8 19.5v2.2M319.2 138.2v-2.2M319.2 19.5v2.2M334.6 138.2v-2.2M334.6 19.5v2.2M350.0 138.2v-2.2M350.0 19.5v2.2M211.5 123.4h2.2M365.4 123.4h-2.2M211.5 108.5h2.2M365.4 108.5h-2.2M211.5 93.7h2.2M365.4 93.7h-2.2M211.5 78.8h2.2M365.4 78.8h-2.2M211.5 64.0h2.2M365.4 64.0h-2.2M211.5 49.2h2.2M365.4 49.2h-2.2M211.5 34.3h2.2M365.4 34.3h-2.2" stroke="#a0a0a0" stroke-width="1.1" fill="none"/>
<rect x="375.3" y="19.5" width="155.1" height="118.7" fill="none" stroke="#a8a8a8" stroke-width="1.4"/>
<path d="M390.8 138.2v-2.2M390.8 19.5v2.2M406.3 138.2v-2.2M406.3 19.5v2.2M421.8 138.2v-2.2M421.8 19.5v2.2M437.3 138.2v-2.2M437.3 19.5v2.2M452.9 138.2v-2.2M452.9 19.5v2.2M468.4 138.2v-2.2M468.4 19.5v2.2M483.9 138.2v-2.2M483.9 19.5v2.2M499.4 138.2v-2.2M499.4 19.5v2.2M514.9 138.2v-2.2M514.9 19.5v2.2M375.3 123.4h2.2M530.4 123.4h-2.2M375.3 108.5h2.2M530.4 108.5h-2.2M375.3 93.7h2.2M530.4 93.7h-2.2M375.3 78.8h2.2M530.4 78.8h-2.2M375.3 64.0h2.2M530.4 64.0h-2.2M375.3 49.2h2.2M530.4 49.2h-2.2M375.3 34.3h2.2M530.4 34.3h-2.2" stroke="#a0a0a0" stroke-width="1.1" fill="none"/>
<rect x="46.6" y="157.3" width="154.6" height="119.4" fill="none" stroke="#a8a8a8" stroke-width="1.4"/>
<path d="M62.1 276.8v-2.2M62.1 157.3v2.2M77.5 276.8v-2.2M77.5 157.3v2.2M93.0 276.8v-2.2M93.0 157.3v2.2M108.4 276.8v-2.2M108.4 157.3v2.2M123.9 276.8v-2.2M123.9 157.3v2.2M139.4 276.8v-2.2M139.4 157.3v2.2M154.8 276.8v-2.2M154.8 157.3v2.2M170.3 276.8v-2.2M170.3 157.3v2.2M185.7 276.8v-2.2M185.7 157.3v2.2M46.6 261.8h2.2M201.2 261.8h-2.2M46.6 246.9h2.2M201.2 246.9h-2.2M46.6 232.0h2.2M201.2 232.0h-2.2M46.6 217.0h2.2M201.2 217.0h-2.2M46.6 202.1h2.2M201.2 202.1h-2.2M46.6 187.2h2.2M201.2 187.2h-2.2M46.6 172.2h2.2M201.2 172.2h-2.2" stroke="#a0a0a0" stroke-width="1.1" fill="none"/>
<rect x="211.5" y="157.3" width="153.9" height="119.4" fill="none" stroke="#a8a8a8" stroke-width="1.4"/>
<path d="M226.9 276.8v-2.2M226.9 157.3v2.2M242.3 276.8v-2.2M242.3 157.3v2.2M257.7 276.8v-2.2M257.7 157.3v2.2M273.1 276.8v-2.2M273.1 157.3v2.2M288.4 276.8v-2.2M288.4 157.3v2.2M303.8 276.8v-2.2M303.8 157.3v2.2M319.2 276.8v-2.2M319.2 157.3v2.2M334.6 276.8v-2.2M334.6 157.3v2.2M350.0 276.8v-2.2M350.0 157.3v2.2M211.5 261.8h2.2M365.4 261.8h-2.2M211.5 246.9h2.2M365.4 246.9h-2.2M211.5 232.0h2.2M365.4 232.0h-2.2M211.5 217.0h2.2M365.4 217.0h-2.2M211.5 202.1h2.2M365.4 202.1h-2.2M211.5 187.2h2.2M365.4 187.2h-2.2M211.5 172.2h2.2M365.4 172.2h-2.2" stroke="#a0a0a0" stroke-width="1.1" fill="none"/>
<rect x="375.3" y="157.3" width="155.1" height="119.4" fill="none" stroke="#a8a8a8" stroke-width="1.4"/>
<path d="M390.8 276.8v-2.2M390.8 157.3v2.2M406.3 276.8v-2.2M406.3 157.3v2.2M421.8 276.8v-2.2M421.8 157.3v2.2M437.3 276.8v-2.2M437.3 157.3v2.2M452.9 276.8v-2.2M452.9 157.3v2.2M468.4 276.8v-2.2M468.4 157.3v2.2M483.9 276.8v-2.2M483.9 157.3v2.2M499.4 276.8v-2.2M499.4 157.3v2.2M514.9 276.8v-2.2M514.9 157.3v2.2M375.3 261.8h2.2M530.4 261.8h-2.2M375.3 246.9h2.2M530.4 246.9h-2.2M375.3 232.0h2.2M530.4 232.0h-2.2M375.3 217.0h2.2M530.4 217.0h-2.2M375.3 202.1h2.2M530.4 202.1h-2.2M375.3 187.2h2.2M530.4 187.2h-2.2M375.3 172.2h2.2M530.4 172.2h-2.2" stroke="#a0a0a0" stroke-width="1.1" fill="none"/>
<rect x="46.6" y="296.5" width="154.6" height="118.8" fill="none" stroke="#a8a8a8" stroke-width="1.4"/>
<path d="M62.1 415.3v-2.2M62.1 296.5v2.2M77.5 415.3v-2.2M77.5 296.5v2.2M93.0 415.3v-2.2M93.0 296.5v2.2M108.4 415.3v-2.2M108.4 296.5v2.2M123.9 415.3v-2.2M123.9 296.5v2.2M139.4 415.3v-2.2M139.4 296.5v2.2M154.8 415.3v-2.2M154.8 296.5v2.2M170.3 415.3v-2.2M170.3 296.5v2.2M185.7 415.3v-2.2M185.7 296.5v2.2M46.6 400.4h2.2M201.2 400.4h-2.2M46.6 385.6h2.2M201.2 385.6h-2.2M46.6 370.8h2.2M201.2 370.8h-2.2M46.6 355.9h2.2M201.2 355.9h-2.2M46.6 341.1h2.2M201.2 341.1h-2.2M46.6 326.2h2.2M201.2 326.2h-2.2M46.6 311.4h2.2M201.2 311.4h-2.2" stroke="#a0a0a0" stroke-width="1.1" fill="none"/>
<rect x="211.5" y="296.5" width="153.9" height="118.8" fill="none" stroke="#a8a8a8" stroke-width="1.4"/>
<path d="M226.9 415.3v-2.2M226.9 296.5v2.2M242.3 415.3v-2.2M242.3 296.5v2.2M257.7 415.3v-2.2M257.7 296.5v2.2M273.1 415.3v-2.2M273.1 296.5v2.2M288.4 415.3v-2.2M288.4 296.5v2.2M303.8 415.3v-2.2M303.8 296.5v2.2M319.2 415.3v-2.2M319.2 296.5v2.2M334.6 415.3v-2.2M334.6 296.5v2.2M350.0 415.3v-2.2M350.0 296.5v2.2M211.5 400.4h2.2M365.4 400.4h-2.2M211.5 385.6h2.2M365.4 385.6h-2.2M211.5 370.8h2.2M365.4 370.8h-2.2M211.5 355.9h2.2M365.4 355.9h-2.2M211.5 341.1h2.2M365.4 341.1h-2.2M211.5 326.2h2.2M365.4 326.2h-2.2M211.5 311.4h2.2M365.4 311.4h-2.2" stroke="#a0a0a0" stroke-width="1.1" fill="none"/>
<rect x="375.3" y="296.5" width="155.1" height="118.8" fill="none" stroke="#a8a8a8" stroke-width="1.4"/>
<path d="M390.8 415.3v-2.2M390.8 296.5v2.2M406.3 415.3v-2.2M406.3 296.5v2.2M421.8 415.3v-2.2M421.8 296.5v2.2M437.3 415.3v-2.2M437.3 296.5v2.2M452.9 415.3v-2.2M452.9 296.5v2.2M468.4 415.3v-2.2M468.4 296.5v2.2M483.9 415.3v-2.2M483.9 296.5v2.2M499.4 415.3v-2.2M499.4 296.5v2.2M514.9 415.3v-2.2M514.9 296.5v2.2M375.3 400.4h2.2M530.4 400.4h-2.2M375.3 385.6h2.2M530.4 385.6h-2.2M375.3 370.8h2.2M530.4 370.8h-2.2M375.3 355.9h2.2M530.4 355.9h-2.2M375.3 341.1h2.2M530.4 341.1h-2.2M375.3 326.2h2.2M530.4 326.2h-2.2M375.3 311.4h2.2M530.4 311.4h-2.2" stroke="#a0a0a0" stroke-width="1.1" fill="none"/>
<g font-size="11.2" stroke="#000" stroke-width="0.4" text-anchor="end">
<text x="42.6" y="27.27">20</text>
<text x="42.6" y="55.37">10</text>
<text x="39.6" y="85.37">0</text>
<text x="42.6" y="114.72">-10</text>
<text x="42.6" y="143.82">-20</text>
<text x="42.6" y="162.77">20</text>
<text x="42.6" y="191.07">10</text>
<text x="39.6" y="220.97">0</text>
<text x="42.6" y="249.97">-10</text>
<text x="42.6" y="279.17">-20</text>
<text x="42.6" y="303.07">20</text>
<text x="42.6" y="332.12">10</text>
<text x="39.6" y="361.07">0</text>
<text x="42.6" y="390.17">-10</text>
<text x="42.6" y="419.17">-20</text>
</g>
<g font-size="11.2" stroke="#000" stroke-width="0.4" text-anchor="middle">
<text x="63.3" y="428.3">-6</text>
<text x="94.0" y="428.3">-4</text>
<text x="125.5" y="428.3">-2</text>
<text x="156.0" y="428.3">0</text>
<text x="188.0" y="428.3">2</text>
<text x="228.1" y="428.3">-6</text>
<text x="258.5" y="428.3">-4</text>
<text x="289.9" y="428.3">-2</text>
<text x="321.0" y="428.3">0</text>
<text x="352.7" y="428.3">2</text>
<text x="393.0" y="428.3">-6</text>
<text x="423.3" y="428.3">-4</text>
<text x="455.0" y="428.3">-2</text>
<text x="485.5" y="428.3">0</text>
<text x="517.0" y="428.3">2</text>
</g>
<g font-size="10" stroke="#000" stroke-width="0.35">
<text x="48.6" y="31.1">PBE</text>
<text x="217.6" y="31.1">PBE+U</text>
<text x="378.5" y="31.1">PBE+U</text>
<text x="48.6" y="169.4">SCAN</text>
<text x="217.6" y="169.4">SCAN+U</text>
<text x="378.5" y="169.4">SCAN+U</text>
<text x="48.6" y="308.1">SCAN+rVV10</text>
<text x="217.6" y="308.1">SCAN+rVV10+U</text>
<text x="378.5" y="308.1">SCAN+rVV10+U</text>
</g>
<g stroke="#000" stroke-width="0.3"><text x="263.9" y="10.6" font-size="10.8">U</text>
<text x="271.1" y="13.2" font-size="7.4" textLength="7.6" lengthAdjust="spacingAndGlyphs">eff</text>
<text x="280.8" y="10.6" font-size="10.8" textLength="38.1" lengthAdjust="spacingAndGlyphs">= 0.7 eV</text></g>
<g stroke="#000" stroke-width="0.3"><text x="423.4" y="9.8" font-size="10.8">U</text>
<text x="430.6" y="12.4" font-size="7.4" textLength="7.6" lengthAdjust="spacingAndGlyphs">eff</text>
<text x="440.5" y="9.8" font-size="10.8" textLength="38.1" lengthAdjust="spacingAndGlyphs">= 1.0 eV</text></g>
<text transform="translate(13,275.4) rotate(-90)" font-size="11.8" stroke="#000" stroke-width="0.2">Density of states [states/eV]</text>
<text x="235.4" y="442.5" font-size="11.9" stroke="#000" stroke-width="0.2">E - E<tspan font-size="8.2" dy="2.2">F</tspan><tspan dy="-2.2"> [eV]</tspan></text>
<line x1="47.9" y1="103.10" x2="61" y2="103.10" stroke="#000" stroke-width="2"/>
<text x="61.3" y="105.50" font-size="8.2" stroke="#000" stroke-width="0.3">Total</text>
<line x1="47.9" y1="111.95" x2="61" y2="111.95" stroke="#0000ff" stroke-width="2"/>
<text x="61.3" y="114.35" font-size="8.2" stroke="#000" stroke-width="0.3">S</text>
<line x1="47.9" y1="120.55" x2="61" y2="120.55" stroke="#008000" stroke-width="2"/>
<text x="61.3" y="122.95" font-size="8.2" stroke="#000" stroke-width="0.3">Fe<tspan font-size="5.6" dy="2.2">oct</tspan></text>
<line x1="47.9" y1="130.00" x2="61" y2="130.00" stroke="#ff0000" stroke-width="2"/>
<text x="61.3" y="132.40" font-size="8.2" stroke="#000" stroke-width="0.3">Fe<tspan font-size="5.6" dy="2.2">tet</tspan></text>
</svg>
</body></html>
